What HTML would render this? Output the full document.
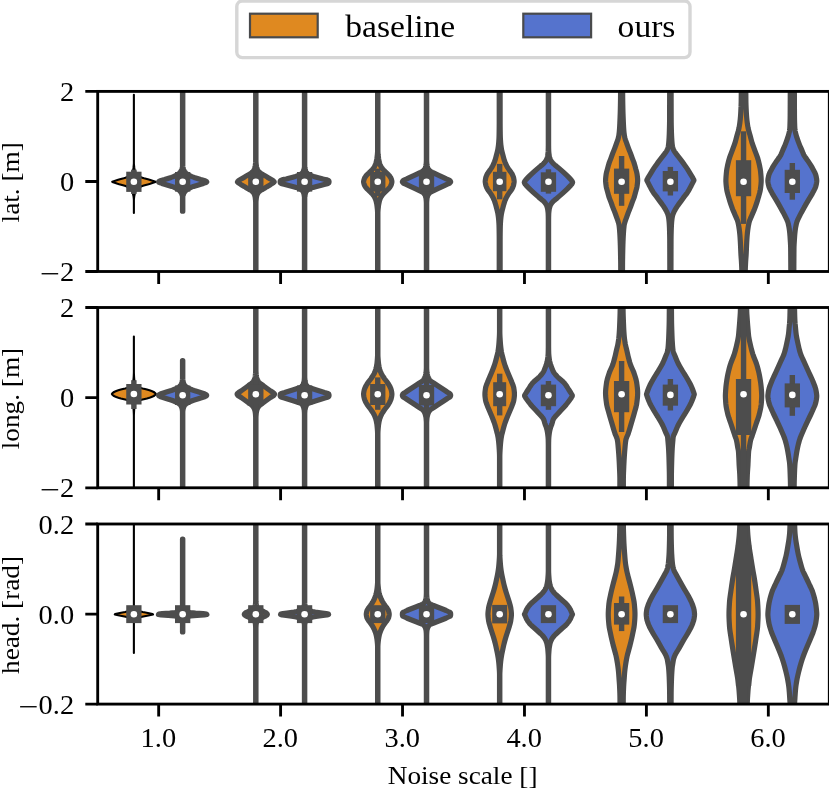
<!DOCTYPE html>
<html lang="en"><head><meta charset="utf-8"><title>Violin plot: baseline vs ours</title>
<style>html,body{margin:0;padding:0;background:#fff}svg{display:block}text{font-family:'Liberation Serif', 'DejaVu Serif', serif;fill:#000}.t{font-size:27.6px}.l{font-size:26.2px}.g{font-size:32.0px}</style></head><body>
<svg width="829" height="790" viewBox="0 0 829 790">
<rect width="829" height="790" fill="#fff"/>
<defs>
<clipPath id="c0"><rect x="97.7" y="91.4" width="731.6" height="180.1"/></clipPath>
<clipPath id="c1"><rect x="97.7" y="307.5" width="731.6" height="180.3"/></clipPath>
<clipPath id="c2"><rect x="97.7" y="524" width="731.6" height="180.1"/></clipPath>
</defs>
<g clip-path="url(#c0)">
<path d="M133.88 94.7L133.88 162.7L133.89 163.2L133.9 163.7L133.93 164.2L133.97 164.7L134.01 165.2L134.06 165.7L134.11 166.2L134.17 166.7L134.23 167.2L134.31 167.7L134.4 168.2L134.51 168.7L134.63 169.2L134.75 169.7L134.89 170.2L135.04 170.7L135.2 171.2L135.39 171.7L135.6 172.2L135.83 172.7L136.1 173.2L136.43 173.7L136.81 174.2L137.26 174.7L137.77 175.2L138.38 175.7L139.15 176.2L140.07 176.7L141.12 177.2L142.37 177.7L144.03 178.2L145.92 178.7L147.84 179.2L149.58 179.7L151.07 180.2L152.5 180.7L153.99 181.2L155.56 181.7L154.61 182.2L153.08 182.7L151.64 183.2L150.19 183.7L148.57 184.2L146.7 184.7L144.77 185.2L142.99 185.7L141.58 186.2L140.48 186.7L139.5 187.2L138.67 187.7L137.99 188.2L137.46 188.7L136.98 189.2L136.57 189.7L136.22 190.2L135.93 190.7L135.69 191.2L135.47 191.7L135.27 192.2L135.1 192.7L134.94 193.2L134.81 193.7L134.68 194.2L134.56 194.7L134.45 195.2L134.35 195.7L134.26 196.2L134.19 196.7L134.14 197.2L134.08 197.7L134.03 198.2L133.98 198.7L133.94 199.2L133.91 199.7L133.89 200.2L133.88 200.7L133.88 201.2L133.88 213L133.88 213L133.88 201.2L133.88 200.7L133.87 200.2L133.85 199.7L133.82 199.2L133.78 198.7L133.73 198.2L133.68 197.7L133.62 197.2L133.57 196.7L133.5 196.2L133.41 195.7L133.31 195.2L133.2 194.7L133.08 194.2L132.95 193.7L132.82 193.2L132.66 192.7L132.49 192.2L132.29 191.7L132.07 191.2L131.83 190.7L131.54 190.2L131.19 189.7L130.78 189.2L130.3 188.7L129.77 188.2L129.09 187.7L128.26 187.2L127.28 186.7L126.18 186.2L124.77 185.7L122.99 185.2L121.06 184.7L119.19 184.2L117.57 183.7L116.12 183.2L114.68 182.7L113.15 182.2L112.2 181.7L113.77 181.2L115.26 180.7L116.69 180.2L118.18 179.7L119.92 179.2L121.84 178.7L123.73 178.2L125.39 177.7L126.64 177.2L127.69 176.7L128.61 176.2L129.38 175.7L129.99 175.2L130.5 174.7L130.95 174.2L131.33 173.7L131.66 173.2L131.93 172.7L132.16 172.2L132.37 171.7L132.56 171.2L132.72 170.7L132.87 170.2L133.01 169.7L133.13 169.2L133.25 168.7L133.36 168.2L133.45 167.7L133.53 167.2L133.59 166.7L133.65 166.2L133.7 165.7L133.75 165.2L133.79 164.7L133.83 164.2L133.86 163.7L133.87 163.2L133.88 162.7L133.88 94.7Z" fill="#df8920" stroke="#000" stroke-width="2.1" stroke-linejoin="round"/>
<path d="M182.8 79.4L182.8 166.4L182.81 166.9L182.86 167.4L182.95 167.9L183.08 168.4L183.25 168.9L183.43 169.4L183.64 169.9L183.85 170.4L184.1 170.9L184.42 171.4L184.79 171.9L185.22 172.4L185.69 172.9L186.21 173.4L186.83 173.9L187.56 174.4L188.39 174.9L189.32 175.4L190.33 175.9L191.4 176.4L192.66 176.9L194.16 177.4L195.79 177.9L197.47 178.4L199.09 178.9L200.71 179.4L202.47 179.9L204.15 180.4L205.52 180.9L206.39 181.4L206.72 181.9L206.1 182.4L205.03 182.9L203.51 183.4L201.77 183.9L200.04 184.4L198.46 184.9L196.8 185.4L195.13 185.9L193.54 186.4L192.12 186.9L190.96 187.4L189.91 187.9L188.94 188.4L188.05 188.9L187.25 189.4L186.57 189.9L186 190.4L185.5 190.9L185.04 191.4L184.64 191.9L184.29 192.4L183.99 192.9L183.76 193.4L183.55 193.9L183.36 194.4L183.18 194.9L183.03 195.4L182.91 195.9L182.83 196.4L182.8 196.9L182.8 211.2L182.5 211.2L182.5 196.9L182.48 196.4L182.4 195.9L182.28 195.4L182.13 194.9L181.95 194.4L181.75 193.9L181.55 193.4L181.31 192.9L181.02 192.4L180.67 191.9L180.26 191.4L179.81 190.9L179.31 190.4L178.74 189.9L178.05 189.4L177.26 188.9L176.37 188.4L175.39 187.9L174.34 187.4L173.18 186.9L171.77 186.4L170.18 185.9L168.51 185.4L166.85 184.9L165.27 184.4L163.54 183.9L161.8 183.4L160.28 182.9L159.2 182.4L158.59 181.9L158.92 181.4L159.78 180.9L161.15 180.4L162.83 179.9L164.59 179.4L166.21 178.9L167.84 178.4L169.51 177.9L171.15 177.4L172.64 176.9L173.9 176.4L174.98 175.9L175.99 175.4L176.92 174.9L177.75 174.4L178.48 173.9L179.1 173.4L179.61 172.9L180.09 172.4L180.51 171.9L180.89 171.4L181.2 170.9L181.46 170.4L181.67 169.9L181.87 169.4L182.06 168.9L182.22 168.4L182.36 167.9L182.45 167.4L182.5 166.9L182.5 166.4L182.5 79.4Z" fill="#5573cd" stroke="#4d4d4d" stroke-width="5.2" stroke-linejoin="round"/>
<path d="M255.96 79.4L255.96 160.4L255.96 160.9L255.97 161.4L255.99 161.9L256.02 162.4L256.05 162.9L256.09 163.4L256.14 163.9L256.2 164.4L256.25 164.9L256.31 165.4L256.38 165.9L256.45 166.4L256.55 166.9L256.66 167.4L256.8 167.9L256.95 168.4L257.12 168.9L257.3 169.4L257.54 169.9L257.85 170.4L258.2 170.9L258.61 171.4L259.06 171.9L259.61 172.4L260.27 172.9L261.02 173.4L261.84 173.9L262.7 174.4L263.58 174.9L264.46 175.4L265.32 175.9L266.12 176.4L266.93 176.9L267.78 177.4L268.64 177.9L269.5 178.4L270.35 178.9L271.17 179.4L271.95 179.9L272.67 180.4L273.32 180.9L273.88 181.4L274.17 181.9L273.68 182.4L273.07 182.9L272.39 183.4L271.64 183.9L270.84 184.4L270.01 184.9L269.15 185.4L268.29 185.9L267.44 186.4L266.6 186.9L265.81 187.4L264.98 187.9L264.11 188.4L263.23 188.9L262.35 189.4L261.5 189.9L260.71 190.4L259.99 190.9L259.37 191.4L258.87 191.9L258.44 192.4L258.05 192.9L257.72 193.4L257.44 193.9L257.23 194.4L257.05 194.9L256.88 195.4L256.74 195.9L256.61 196.4L256.51 196.9L256.42 197.4L256.35 197.9L256.29 198.4L256.23 198.9L256.17 199.4L256.12 199.9L256.08 200.4L256.04 200.9L256 201.4L255.98 201.9L255.97 202.4L255.96 202.9L255.96 283.5L255.66 283.5L255.66 202.9L255.66 202.4L255.65 201.9L255.62 201.4L255.59 200.9L255.55 200.4L255.5 199.9L255.45 199.4L255.4 198.9L255.34 198.4L255.28 197.9L255.21 197.4L255.12 196.9L255.01 196.4L254.89 195.9L254.74 195.4L254.58 194.9L254.4 194.4L254.19 193.9L253.91 193.4L253.57 192.9L253.18 192.4L252.75 191.9L252.26 191.4L251.64 190.9L250.92 190.4L250.12 189.9L249.27 189.4L248.4 188.9L247.51 188.4L246.65 187.9L245.82 187.4L245.02 186.9L244.19 186.4L243.33 185.9L242.47 185.4L241.62 184.9L240.78 184.4L239.99 183.9L239.24 183.4L238.56 182.9L237.95 182.4L237.46 181.9L237.74 181.4L238.3 180.9L238.96 180.4L239.68 179.9L240.46 179.4L241.28 178.9L242.13 178.4L242.99 177.9L243.85 177.4L244.69 176.9L245.51 176.4L246.31 175.9L247.16 175.4L248.04 174.9L248.93 174.4L249.79 173.9L250.61 173.4L251.36 172.9L252.02 172.4L252.57 171.9L253.02 171.4L253.42 170.9L253.78 170.4L254.08 169.9L254.32 169.4L254.51 168.9L254.68 168.4L254.83 167.9L254.96 167.4L255.08 166.9L255.17 166.4L255.25 165.9L255.31 165.4L255.37 164.9L255.43 164.4L255.48 163.9L255.53 163.4L255.58 162.9L255.61 162.4L255.64 161.9L255.66 161.4L255.66 160.9L255.66 160.4L255.66 79.4Z" fill="#df8920" stroke="#4d4d4d" stroke-width="5.2" stroke-linejoin="round"/>
<path d="M304.74 79.4L304.74 166.4L304.74 166.9L304.76 167.4L304.81 167.9L304.89 168.4L305 168.9L305.12 169.4L305.26 169.9L305.42 170.4L305.59 170.9L305.78 171.4L306.02 171.9L306.35 172.4L306.76 172.9L307.25 173.4L307.81 173.9L308.55 174.4L309.61 174.9L310.88 175.4L312.24 175.9L313.75 176.4L315.48 176.9L317.36 177.4L319.31 177.9L321.22 178.4L323.04 178.9L325.04 179.4L327.11 179.9L328.52 180.4L328.86 180.9L329 181.4L329.03 181.9L328.95 182.4L328.78 182.9L328.08 183.4L326.32 183.9L324.19 184.4L322.33 184.9L320.47 185.4L318.53 185.9L316.6 186.4L314.77 186.9L313.11 187.4L311.69 187.9L310.35 188.4L309.16 188.9L308.22 189.4L307.58 189.9L307.04 190.4L306.59 190.9L306.21 191.4L305.91 191.9L305.7 192.4L305.52 192.9L305.36 193.4L305.2 193.9L305.07 194.4L304.95 194.9L304.86 195.4L304.79 195.9L304.75 196.4L304.74 196.9L304.74 283.5L304.44 283.5L304.44 196.9L304.43 196.4L304.39 195.9L304.32 195.4L304.22 194.9L304.11 194.4L303.97 193.9L303.82 193.4L303.65 192.9L303.47 192.4L303.26 191.9L302.97 191.4L302.59 190.9L302.13 190.4L301.59 189.9L300.96 189.4L300.02 188.9L298.82 188.4L297.48 187.9L296.06 187.4L294.41 186.9L292.57 186.4L290.65 185.9L288.71 185.4L286.84 184.9L284.98 184.4L282.85 183.9L281.09 183.4L280.39 182.9L280.22 182.4L280.14 181.9L280.18 181.4L280.31 180.9L280.65 180.4L282.06 179.9L284.13 179.4L286.14 178.9L287.95 178.4L289.87 177.9L291.81 177.4L293.69 176.9L295.43 176.4L296.94 175.9L298.3 175.4L299.56 174.9L300.62 174.4L301.36 173.9L301.92 173.4L302.41 172.9L302.82 172.4L303.15 171.9L303.4 171.4L303.58 170.9L303.75 170.4L303.91 169.9L304.05 169.4L304.18 168.9L304.28 168.4L304.36 167.9L304.41 167.4L304.44 166.9L304.44 166.4L304.44 79.4Z" fill="#5573cd" stroke="#4d4d4d" stroke-width="5.2" stroke-linejoin="round"/>
<path d="M377.9 79.4L377.9 150.4L377.9 150.9L377.91 151.4L377.93 151.9L377.96 152.4L377.99 152.9L378.03 153.4L378.07 153.9L378.12 154.4L378.16 154.9L378.22 155.4L378.27 155.9L378.33 156.4L378.39 156.9L378.45 157.4L378.51 157.9L378.58 158.4L378.65 158.9L378.74 159.4L378.83 159.9L378.93 160.4L379.03 160.9L379.14 161.4L379.26 161.9L379.39 162.4L379.52 162.9L379.67 163.4L379.83 163.9L380.01 164.4L380.21 164.9L380.42 165.4L380.65 165.9L380.9 166.4L381.18 166.9L381.5 167.4L381.85 167.9L382.24 168.4L382.64 168.9L383.06 169.4L383.48 169.9L383.94 170.4L384.43 170.9L384.94 171.4L385.47 171.9L385.99 172.4L386.5 172.9L387.02 173.4L387.56 173.9L388.1 174.4L388.61 174.9L389.07 175.4L389.47 175.9L389.84 176.4L390.19 176.9L390.51 177.4L390.8 177.9L391.04 178.4L391.23 178.9L391.39 179.4L391.55 179.9L391.68 180.4L391.79 180.9L391.86 181.4L391.89 181.9L391.84 182.4L391.75 182.9L391.63 183.4L391.49 183.9L391.33 184.4L391.16 184.9L390.95 185.4L390.69 185.9L390.39 186.4L390.05 186.9L389.69 187.4L389.32 187.9L388.89 188.4L388.41 188.9L387.88 189.4L387.34 189.9L386.81 190.4L386.3 190.9L385.78 191.4L385.26 191.9L384.74 192.4L384.23 192.9L383.75 193.4L383.31 193.9L382.89 194.4L382.48 194.9L382.08 195.4L381.71 195.9L381.36 196.4L381.06 196.9L380.8 197.4L380.56 197.9L380.33 198.4L380.13 198.9L379.94 199.4L379.77 199.9L379.61 200.4L379.47 200.9L379.34 201.4L379.22 201.9L379.1 202.4L378.99 202.9L378.89 203.4L378.79 203.9L378.7 204.4L378.62 204.9L378.55 205.4L378.48 205.9L378.42 206.4L378.36 206.9L378.31 207.4L378.25 207.9L378.2 208.4L378.14 208.9L378.1 209.4L378.05 209.9L378.01 210.4L377.98 210.9L377.95 211.4L377.92 211.9L377.91 212.4L377.9 212.9L377.9 283.5L377.6 283.5L377.6 212.9L377.59 212.4L377.57 211.9L377.54 211.4L377.51 210.9L377.48 210.4L377.44 209.9L377.4 209.4L377.35 208.9L377.3 208.4L377.24 207.9L377.19 207.4L377.13 206.9L377.07 206.4L377.01 205.9L376.94 205.4L376.87 204.9L376.79 204.4L376.7 203.9L376.61 203.4L376.5 202.9L376.39 202.4L376.28 201.9L376.15 201.4L376.02 200.9L375.88 200.4L375.73 199.9L375.56 199.4L375.37 198.9L375.16 198.4L374.94 197.9L374.7 197.4L374.43 196.9L374.13 196.4L373.79 195.9L373.41 195.4L373.02 194.9L372.6 194.4L372.18 193.9L371.74 193.4L371.26 192.9L370.76 192.4L370.23 191.9L369.71 191.4L369.2 190.9L368.69 190.4L368.15 189.9L367.61 189.4L367.09 188.9L366.6 188.4L366.17 187.9L365.8 187.4L365.44 186.9L365.1 186.4L364.8 185.9L364.54 185.4L364.33 184.9L364.16 184.4L364.01 183.9L363.87 183.4L363.75 182.9L363.66 182.4L363.6 181.9L363.63 181.4L363.71 180.9L363.81 180.4L363.95 179.9L364.1 179.4L364.26 178.9L364.45 178.4L364.69 177.9L364.98 177.4L365.3 176.9L365.65 176.4L366.02 175.9L366.42 175.4L366.89 174.9L367.4 174.4L367.93 173.9L368.47 173.4L369 172.9L369.5 172.4L370.02 171.9L370.55 171.4L371.06 170.9L371.55 170.4L372.01 169.9L372.44 169.4L372.85 168.9L373.26 168.4L373.64 167.9L374 167.4L374.32 166.9L374.6 166.4L374.84 165.9L375.07 165.4L375.29 164.9L375.48 164.4L375.66 163.9L375.82 163.4L375.97 162.9L376.1 162.4L376.23 161.9L376.35 161.4L376.46 160.9L376.57 160.4L376.67 159.9L376.76 159.4L376.84 158.9L376.92 158.4L376.98 157.9L377.05 157.4L377.11 156.9L377.16 156.4L377.22 155.9L377.28 155.4L377.33 154.9L377.38 154.4L377.42 153.9L377.46 153.4L377.5 152.9L377.53 152.4L377.56 151.9L377.58 151.4L377.59 150.9L377.6 150.4L377.6 79.4Z" fill="#df8920" stroke="#4d4d4d" stroke-width="5.2" stroke-linejoin="round"/>
<path d="M426.67 79.4L426.67 159.4L426.67 159.9L426.68 160.4L426.69 160.9L426.71 161.4L426.73 161.9L426.76 162.4L426.8 162.9L426.84 163.4L426.88 163.9L426.93 164.4L426.98 164.9L427.05 165.4L427.14 165.9L427.25 166.4L427.39 166.9L427.54 167.4L427.72 167.9L427.91 168.4L428.17 168.9L428.51 169.4L428.92 169.9L429.4 170.4L429.94 170.9L430.57 171.4L431.44 171.9L432.46 172.4L433.54 172.9L434.57 173.4L435.59 173.9L436.64 174.4L437.71 174.9L438.79 175.4L439.88 175.9L440.97 176.4L442.06 176.9L443.14 177.4L444.2 177.9L445.24 178.4L446.26 178.9L447.38 179.4L448.52 179.9L449.51 180.4L450.19 180.9L450.53 181.4L450.65 181.9L450.41 182.4L449.97 182.9L449.14 183.4L448.07 183.9L446.92 184.4L445.85 184.9L444.83 185.4L443.78 185.9L442.71 186.4L441.63 186.9L440.54 187.4L439.44 187.9L438.36 188.4L437.28 188.9L436.22 189.4L435.18 189.9L434.17 190.4L433.11 190.9L432.04 191.4L431.07 191.9L430.29 192.4L429.72 192.9L429.2 193.4L428.75 193.9L428.37 194.4L428.06 194.9L427.83 195.4L427.64 195.9L427.48 196.4L427.33 196.9L427.2 197.4L427.1 197.9L427.02 198.4L426.96 198.9L426.91 199.4L426.87 199.9L426.82 200.4L426.78 200.9L426.75 201.4L426.72 201.9L426.7 202.4L426.68 202.9L426.67 203.4L426.67 203.9L426.67 283.5L426.37 283.5L426.37 203.9L426.37 203.4L426.36 202.9L426.34 202.4L426.32 201.9L426.29 201.4L426.26 200.9L426.22 200.4L426.17 199.9L426.13 199.4L426.08 198.9L426.02 198.4L425.94 197.9L425.84 197.4L425.71 196.9L425.56 196.4L425.4 195.9L425.21 195.4L424.98 194.9L424.67 194.4L424.29 193.9L423.84 193.4L423.32 192.9L422.75 192.4L421.97 191.9L421 191.4L419.93 190.9L418.87 190.4L417.86 189.9L416.82 189.4L415.76 188.9L414.68 188.4L413.6 187.9L412.5 187.4L411.41 186.9L410.33 186.4L409.26 185.9L408.21 185.4L407.19 184.9L406.12 184.4L404.97 183.9L403.9 183.4L403.07 182.9L402.63 182.4L402.39 181.9L402.51 181.4L402.85 180.9L403.53 180.4L404.52 179.9L405.66 179.4L406.78 178.9L407.8 178.4L408.84 177.9L409.9 177.4L410.98 176.9L412.07 176.4L413.16 175.9L414.25 175.4L415.33 174.9L416.4 174.4L417.45 173.9L418.47 173.4L419.5 172.9L420.58 172.4L421.6 171.9L422.47 171.4L423.1 170.9L423.64 170.4L424.12 169.9L424.53 169.4L424.87 168.9L425.13 168.4L425.32 167.9L425.5 167.4L425.65 166.9L425.79 166.4L425.9 165.9L425.99 165.4L426.06 164.9L426.11 164.4L426.16 163.9L426.2 163.4L426.24 162.9L426.28 162.4L426.31 161.9L426.33 161.4L426.35 160.9L426.36 160.4L426.37 159.9L426.37 159.4L426.37 79.4Z" fill="#5573cd" stroke="#4d4d4d" stroke-width="5.2" stroke-linejoin="round"/>
<path d="M500.13 79.4L500.13 121.4L500.13 121.9L500.13 122.4L500.13 122.9L500.13 123.4L500.14 123.9L500.14 124.4L500.14 124.9L500.14 125.4L500.15 125.9L500.15 126.4L500.16 126.9L500.16 127.4L500.17 127.9L500.17 128.4L500.18 128.9L500.18 129.4L500.19 129.9L500.2 130.4L500.2 130.9L500.21 131.4L500.22 131.9L500.23 132.4L500.23 132.9L500.24 133.4L500.25 133.9L500.26 134.4L500.27 134.9L500.28 135.4L500.29 135.9L500.31 136.4L500.32 136.9L500.34 137.4L500.36 137.9L500.39 138.4L500.41 138.9L500.44 139.4L500.47 139.9L500.51 140.4L500.54 140.9L500.58 141.4L500.61 141.9L500.65 142.4L500.69 142.9L500.73 143.4L500.77 143.9L500.82 144.4L500.87 144.9L500.93 145.4L500.99 145.9L501.06 146.4L501.13 146.9L501.21 147.4L501.28 147.9L501.36 148.4L501.44 148.9L501.53 149.4L501.62 149.9L501.72 150.4L501.83 150.9L501.95 151.4L502.07 151.9L502.2 152.4L502.33 152.9L502.46 153.4L502.59 153.9L502.72 154.4L502.86 154.9L502.99 155.4L503.12 155.9L503.25 156.4L503.38 156.9L503.51 157.4L503.65 157.9L503.79 158.4L503.93 158.9L504.08 159.4L504.23 159.9L504.39 160.4L504.56 160.9L504.73 161.4L504.91 161.9L505.11 162.4L505.31 162.9L505.53 163.4L505.75 163.9L505.98 164.4L506.22 164.9L506.47 165.4L506.73 165.9L506.99 166.4L507.27 166.9L507.57 167.4L507.88 167.9L508.21 168.4L508.53 168.9L508.87 169.4L509.2 169.9L509.53 170.4L509.9 170.9L510.28 171.4L510.66 171.9L511.04 172.4L511.4 172.9L511.74 173.4L512.03 173.9L512.28 174.4L512.51 174.9L512.74 175.4L512.95 175.9L513.15 176.4L513.33 176.9L513.49 177.4L513.62 177.9L513.73 178.4L513.82 178.9L513.91 179.4L513.99 179.9L514.05 180.4L514.1 180.9L514.13 181.4L514.1 181.9L514.05 182.4L513.99 182.9L513.91 183.4L513.82 183.9L513.73 184.4L513.62 184.9L513.49 185.4L513.33 185.9L513.15 186.4L512.95 186.9L512.74 187.4L512.51 187.9L512.28 188.4L512.03 188.9L511.74 189.4L511.4 189.9L511.04 190.4L510.66 190.9L510.28 191.4L509.9 191.9L509.53 192.4L509.2 192.9L508.87 193.4L508.53 193.9L508.21 194.4L507.88 194.9L507.57 195.4L507.27 195.9L506.99 196.4L506.73 196.9L506.47 197.4L506.22 197.9L505.98 198.4L505.75 198.9L505.53 199.4L505.31 199.9L505.11 200.4L504.91 200.9L504.73 201.4L504.56 201.9L504.39 202.4L504.23 202.9L504.08 203.4L503.93 203.9L503.79 204.4L503.65 204.9L503.51 205.4L503.38 205.9L503.25 206.4L503.12 206.9L502.99 207.4L502.86 207.9L502.72 208.4L502.59 208.9L502.46 209.4L502.33 209.9L502.2 210.4L502.07 210.9L501.95 211.4L501.83 211.9L501.72 212.4L501.62 212.9L501.53 213.4L501.44 213.9L501.36 214.4L501.28 214.9L501.21 215.4L501.13 215.9L501.06 216.4L500.99 216.9L500.93 217.4L500.87 217.9L500.82 218.4L500.77 218.9L500.73 219.4L500.69 219.9L500.65 220.4L500.61 220.9L500.58 221.4L500.54 221.9L500.51 222.4L500.47 222.9L500.44 223.4L500.41 223.9L500.39 224.4L500.36 224.9L500.34 225.4L500.32 225.9L500.31 226.4L500.29 226.9L500.28 227.4L500.27 227.9L500.26 228.4L500.25 228.9L500.24 229.4L500.23 229.9L500.23 230.4L500.22 230.9L500.21 231.4L500.2 231.9L500.2 232.4L500.19 232.9L500.18 233.4L500.18 233.9L500.17 234.4L500.17 234.9L500.16 235.4L500.16 235.9L500.15 236.4L500.15 236.9L500.14 237.4L500.14 237.9L500.14 238.4L500.14 238.9L500.13 239.4L500.13 239.9L500.13 240.4L500.13 240.9L500.13 241.4L500.13 283.5L499.23 283.5L499.23 241.4L499.23 240.9L499.23 240.4L499.23 239.9L499.23 239.4L499.22 238.9L499.22 238.4L499.22 237.9L499.22 237.4L499.21 236.9L499.21 236.4L499.2 235.9L499.2 235.4L499.19 234.9L499.19 234.4L499.18 233.9L499.18 233.4L499.17 232.9L499.16 232.4L499.16 231.9L499.15 231.4L499.14 230.9L499.13 230.4L499.13 229.9L499.12 229.4L499.11 228.9L499.1 228.4L499.09 227.9L499.08 227.4L499.07 226.9L499.05 226.4L499.04 225.9L499.02 225.4L499 224.9L498.97 224.4L498.95 223.9L498.92 223.4L498.89 222.9L498.85 222.4L498.82 221.9L498.78 221.4L498.75 220.9L498.71 220.4L498.67 219.9L498.63 219.4L498.59 218.9L498.54 218.4L498.49 217.9L498.43 217.4L498.37 216.9L498.3 216.4L498.23 215.9L498.15 215.4L498.08 214.9L498 214.4L497.92 213.9L497.83 213.4L497.74 212.9L497.64 212.4L497.53 211.9L497.41 211.4L497.29 210.9L497.16 210.4L497.03 209.9L496.9 209.4L496.77 208.9L496.64 208.4L496.5 207.9L496.37 207.4L496.24 206.9L496.11 206.4L495.98 205.9L495.85 205.4L495.71 204.9L495.57 204.4L495.43 203.9L495.28 203.4L495.13 202.9L494.97 202.4L494.8 201.9L494.63 201.4L494.45 200.9L494.25 200.4L494.05 199.9L493.83 199.4L493.61 198.9L493.38 198.4L493.14 197.9L492.89 197.4L492.63 196.9L492.37 196.4L492.09 195.9L491.79 195.4L491.48 194.9L491.15 194.4L490.83 193.9L490.49 193.4L490.16 192.9L489.83 192.4L489.46 191.9L489.08 191.4L488.7 190.9L488.32 190.4L487.96 189.9L487.62 189.4L487.33 188.9L487.08 188.4L486.85 187.9L486.62 187.4L486.41 186.9L486.21 186.4L486.03 185.9L485.87 185.4L485.74 184.9L485.63 184.4L485.54 183.9L485.45 183.4L485.37 182.9L485.31 182.4L485.26 181.9L485.23 181.4L485.26 180.9L485.31 180.4L485.37 179.9L485.45 179.4L485.54 178.9L485.63 178.4L485.74 177.9L485.87 177.4L486.03 176.9L486.21 176.4L486.41 175.9L486.62 175.4L486.85 174.9L487.08 174.4L487.33 173.9L487.62 173.4L487.96 172.9L488.32 172.4L488.7 171.9L489.08 171.4L489.46 170.9L489.83 170.4L490.16 169.9L490.49 169.4L490.83 168.9L491.15 168.4L491.48 167.9L491.79 167.4L492.09 166.9L492.37 166.4L492.63 165.9L492.89 165.4L493.14 164.9L493.38 164.4L493.61 163.9L493.83 163.4L494.05 162.9L494.25 162.4L494.45 161.9L494.63 161.4L494.8 160.9L494.97 160.4L495.13 159.9L495.28 159.4L495.43 158.9L495.57 158.4L495.71 157.9L495.85 157.4L495.98 156.9L496.11 156.4L496.24 155.9L496.37 155.4L496.5 154.9L496.64 154.4L496.77 153.9L496.9 153.4L497.03 152.9L497.16 152.4L497.29 151.9L497.41 151.4L497.53 150.9L497.64 150.4L497.74 149.9L497.83 149.4L497.92 148.9L498 148.4L498.08 147.9L498.15 147.4L498.23 146.9L498.3 146.4L498.37 145.9L498.43 145.4L498.49 144.9L498.54 144.4L498.59 143.9L498.63 143.4L498.67 142.9L498.71 142.4L498.75 141.9L498.78 141.4L498.82 140.9L498.85 140.4L498.89 139.9L498.92 139.4L498.95 138.9L498.97 138.4L499 137.9L499.02 137.4L499.04 136.9L499.05 136.4L499.07 135.9L499.08 135.4L499.09 134.9L499.1 134.4L499.11 133.9L499.12 133.4L499.13 132.9L499.13 132.4L499.14 131.9L499.15 131.4L499.16 130.9L499.16 130.4L499.17 129.9L499.18 129.4L499.18 128.9L499.19 128.4L499.19 127.9L499.2 127.4L499.2 126.9L499.21 126.4L499.21 125.9L499.22 125.4L499.22 124.9L499.22 124.4L499.22 123.9L499.23 123.4L499.23 122.9L499.23 122.4L499.23 121.9L499.23 121.4L499.23 79.4Z" fill="#df8920" stroke="#4d4d4d" stroke-width="5.2" stroke-linejoin="round"/>
<path d="M548.6 79.4L548.6 144.4L548.6 144.9L548.61 145.4L548.61 145.9L548.62 146.4L548.62 146.9L548.63 147.4L548.64 147.9L548.65 148.4L548.66 148.9L548.68 149.4L548.69 149.9L548.7 150.4L548.72 150.9L548.75 151.4L548.79 151.9L548.83 152.4L548.88 152.9L548.93 153.4L548.99 153.9L549.06 154.4L549.13 154.9L549.2 155.4L549.29 155.9L549.38 156.4L549.5 156.9L549.63 157.4L549.78 157.9L549.94 158.4L550.11 158.9L550.3 159.4L550.53 159.9L550.81 160.4L551.13 160.9L551.48 161.4L551.86 161.9L552.27 162.4L552.69 162.9L553.15 163.4L553.67 163.9L554.24 164.4L554.83 164.9L555.45 165.4L556.08 165.9L556.7 166.4L557.31 166.9L557.9 167.4L558.48 167.9L559.06 168.4L559.63 168.9L560.21 169.4L560.79 169.9L561.36 170.4L561.93 170.9L562.5 171.4L563.05 171.9L563.6 172.4L564.15 172.9L564.69 173.4L565.23 173.9L565.77 174.4L566.3 174.9L566.82 175.4L567.34 175.9L567.84 176.4L568.33 176.9L568.8 177.4L569.28 177.9L569.76 178.4L570.25 178.9L570.72 179.4L571.16 179.9L571.56 180.4L571.91 180.9L572.2 181.4L572.43 181.9L572.6 182.4L572.43 182.9L572.2 183.4L571.91 183.9L571.56 184.4L571.16 184.9L570.72 185.4L570.25 185.9L569.76 186.4L569.28 186.9L568.8 187.4L568.33 187.9L567.84 188.4L567.34 188.9L566.82 189.4L566.3 189.9L565.77 190.4L565.23 190.9L564.69 191.4L564.15 191.9L563.6 192.4L563.05 192.9L562.5 193.4L561.93 193.9L561.36 194.4L560.79 194.9L560.21 195.4L559.63 195.9L559.06 196.4L558.48 196.9L557.9 197.4L557.31 197.9L556.7 198.4L556.08 198.9L555.45 199.4L554.83 199.9L554.24 200.4L553.67 200.9L553.15 201.4L552.69 201.9L552.27 202.4L551.86 202.9L551.48 203.4L551.13 203.9L550.81 204.4L550.53 204.9L550.3 205.4L550.11 205.9L549.94 206.4L549.78 206.9L549.63 207.4L549.5 207.9L549.38 208.4L549.29 208.9L549.2 209.4L549.13 209.9L549.06 210.4L548.99 210.9L548.93 211.4L548.88 211.9L548.83 212.4L548.79 212.9L548.75 213.4L548.72 213.9L548.7 214.4L548.69 214.9L548.68 215.4L548.66 215.9L548.65 216.4L548.64 216.9L548.63 217.4L548.62 217.9L548.62 218.4L548.61 218.9L548.61 219.4L548.6 219.9L548.6 220.4L548.6 283.5L548.3 283.5L548.3 220.4L548.3 219.9L548.3 219.4L548.3 218.9L548.29 218.4L548.28 217.9L548.28 217.4L548.27 216.9L548.26 216.4L548.24 215.9L548.23 215.4L548.22 214.9L548.2 214.4L548.18 213.9L548.16 213.4L548.12 212.9L548.08 212.4L548.03 211.9L547.97 211.4L547.91 210.9L547.85 210.4L547.78 209.9L547.7 209.4L547.62 208.9L547.52 208.4L547.41 207.9L547.28 207.4L547.13 206.9L546.97 206.4L546.79 205.9L546.6 205.4L546.38 204.9L546.1 204.4L545.78 203.9L545.43 203.4L545.04 202.9L544.64 202.4L544.22 201.9L543.75 201.4L543.23 200.9L542.67 200.4L542.07 199.9L541.46 199.4L540.83 198.9L540.2 198.4L539.59 197.9L539 197.4L538.43 196.9L537.85 196.4L537.27 195.9L536.69 195.4L536.12 194.9L535.54 194.4L534.97 193.9L534.41 193.4L533.85 192.9L533.3 192.4L532.76 191.9L532.22 191.4L531.67 190.9L531.14 190.4L530.61 189.9L530.08 189.4L529.57 188.9L529.07 188.4L528.58 187.9L528.1 187.4L527.63 186.9L527.14 186.4L526.66 185.9L526.19 185.4L525.75 184.9L525.35 184.4L524.99 183.9L524.7 183.4L524.48 182.9L524.3 182.4L524.48 181.9L524.7 181.4L524.99 180.9L525.35 180.4L525.75 179.9L526.19 179.4L526.66 178.9L527.14 178.4L527.63 177.9L528.1 177.4L528.58 176.9L529.07 176.4L529.57 175.9L530.08 175.4L530.61 174.9L531.14 174.4L531.67 173.9L532.22 173.4L532.76 172.9L533.3 172.4L533.85 171.9L534.41 171.4L534.97 170.9L535.54 170.4L536.12 169.9L536.69 169.4L537.27 168.9L537.85 168.4L538.43 167.9L539 167.4L539.59 166.9L540.2 166.4L540.83 165.9L541.46 165.4L542.07 164.9L542.67 164.4L543.23 163.9L543.75 163.4L544.22 162.9L544.64 162.4L545.04 161.9L545.43 161.4L545.78 160.9L546.1 160.4L546.38 159.9L546.6 159.4L546.79 158.9L546.97 158.4L547.13 157.9L547.28 157.4L547.41 156.9L547.52 156.4L547.62 155.9L547.7 155.4L547.78 154.9L547.85 154.4L547.91 153.9L547.97 153.4L548.03 152.9L548.08 152.4L548.12 151.9L548.16 151.4L548.18 150.9L548.2 150.4L548.22 149.9L548.23 149.4L548.24 148.9L548.26 148.4L548.27 147.9L548.28 147.4L548.28 146.9L548.29 146.4L548.3 145.9L548.3 145.4L548.3 144.9L548.3 144.4L548.3 79.4Z" fill="#5573cd" stroke="#4d4d4d" stroke-width="5.2" stroke-linejoin="round"/>
<path d="M622.63 79.4L622.63 79.9L622.63 80.4L622.63 80.9L622.63 81.4L622.63 81.9L622.63 82.4L622.64 82.9L622.64 83.4L622.64 83.9L622.64 84.4L622.64 84.9L622.64 85.4L622.64 85.9L622.64 86.4L622.64 86.9L622.65 87.4L622.65 87.9L622.65 88.4L622.65 88.9L622.65 89.4L622.65 89.9L622.65 90.4L622.65 90.9L622.66 91.4L622.66 91.9L622.66 92.4L622.66 92.9L622.66 93.4L622.66 93.9L622.66 94.4L622.67 94.9L622.67 95.4L622.67 95.9L622.68 96.4L622.68 96.9L622.68 97.4L622.69 97.9L622.69 98.4L622.7 98.9L622.71 99.4L622.71 99.9L622.72 100.4L622.73 100.9L622.74 101.4L622.74 101.9L622.75 102.4L622.76 102.9L622.77 103.4L622.78 103.9L622.79 104.4L622.8 104.9L622.81 105.4L622.82 105.9L622.83 106.4L622.84 106.9L622.85 107.4L622.86 107.9L622.87 108.4L622.88 108.9L622.89 109.4L622.9 109.9L622.92 110.4L622.93 110.9L622.94 111.4L622.96 111.9L622.97 112.4L622.99 112.9L623.01 113.4L623.02 113.9L623.04 114.4L623.06 114.9L623.08 115.4L623.09 115.9L623.11 116.4L623.13 116.9L623.15 117.4L623.17 117.9L623.19 118.4L623.21 118.9L623.23 119.4L623.25 119.9L623.27 120.4L623.29 120.9L623.31 121.4L623.33 121.9L623.36 122.4L623.38 122.9L623.4 123.4L623.42 123.9L623.45 124.4L623.47 124.9L623.5 125.4L623.53 125.9L623.55 126.4L623.58 126.9L623.61 127.4L623.64 127.9L623.68 128.4L623.71 128.9L623.75 129.4L623.78 129.9L623.82 130.4L623.87 130.9L623.91 131.4L623.96 131.9L624.01 132.4L624.06 132.9L624.12 133.4L624.18 133.9L624.24 134.4L624.31 134.9L624.39 135.4L624.48 135.9L624.57 136.4L624.67 136.9L624.78 137.4L624.89 137.9L625.01 138.4L625.15 138.9L625.3 139.4L625.46 139.9L625.64 140.4L625.82 140.9L626 141.4L626.19 141.9L626.38 142.4L626.56 142.9L626.73 143.4L626.91 143.9L627.08 144.4L627.26 144.9L627.44 145.4L627.62 145.9L627.8 146.4L627.98 146.9L628.16 147.4L628.35 147.9L628.54 148.4L628.73 148.9L628.93 149.4L629.14 149.9L629.34 150.4L629.55 150.9L629.75 151.4L629.95 151.9L630.15 152.4L630.35 152.9L630.54 153.4L630.72 153.9L630.91 154.4L631.09 154.9L631.26 155.4L631.44 155.9L631.62 156.4L631.79 156.9L631.97 157.4L632.15 157.9L632.34 158.4L632.53 158.9L632.72 159.4L632.92 159.9L633.12 160.4L633.32 160.9L633.52 161.4L633.71 161.9L633.89 162.4L634.06 162.9L634.23 163.4L634.38 163.9L634.53 164.4L634.68 164.9L634.82 165.4L634.95 165.9L635.09 166.4L635.22 166.9L635.35 167.4L635.48 167.9L635.62 168.4L635.75 168.9L635.9 169.4L636.04 169.9L636.18 170.4L636.32 170.9L636.46 171.4L636.59 171.9L636.71 172.4L636.83 172.9L636.93 173.4L637.02 173.9L637.09 174.4L637.16 174.9L637.23 175.4L637.3 175.9L637.36 176.4L637.42 176.9L637.47 177.4L637.52 177.9L637.57 178.4L637.6 178.9L637.63 179.4L637.65 179.9L637.66 180.4L637.64 180.9L637.61 181.4L637.57 181.9L637.53 182.4L637.48 182.9L637.43 183.4L637.37 183.9L637.31 184.4L637.24 184.9L637.18 185.4L637.11 185.9L637.03 186.4L636.95 186.9L636.85 187.4L636.74 187.9L636.62 188.4L636.49 188.9L636.35 189.4L636.21 189.9L636.07 190.4L635.92 190.9L635.78 191.4L635.64 191.9L635.51 192.4L635.38 192.9L635.25 193.4L635.11 193.9L634.98 194.4L634.84 194.9L634.7 195.4L634.56 195.9L634.41 196.4L634.26 196.9L634.1 197.4L633.93 197.9L633.74 198.4L633.56 198.9L633.36 199.4L633.16 199.9L632.96 200.4L632.76 200.9L632.57 201.4L632.38 201.9L632.19 202.4L632.01 202.9L631.83 203.4L631.65 203.9L631.47 204.4L631.3 204.9L631.12 205.4L630.94 205.9L630.76 206.4L630.58 206.9L630.39 207.4L630.19 207.9L629.99 208.4L629.79 208.9L629.59 209.4L629.38 209.9L629.18 210.4L628.97 210.9L628.77 211.4L628.58 211.9L628.39 212.4L628.2 212.9L628.02 213.4L627.84 213.9L627.66 214.4L627.48 214.9L627.3 215.4L627.12 215.9L626.95 216.4L626.77 216.9L626.59 217.4L626.41 217.9L626.22 218.4L626.03 218.9L625.85 219.4L625.66 219.9L625.48 220.4L625.31 220.9L625.15 221.4L624.99 221.9L624.85 222.4L624.7 222.9L624.56 223.4L624.44 223.9L624.32 224.4L624.23 224.9L624.15 225.4L624.08 225.9L624.02 226.4L623.96 226.9L623.91 227.4L623.86 227.9L623.81 228.4L623.77 228.9L623.73 229.4L623.69 229.9L623.65 230.4L623.61 230.9L623.57 231.4L623.53 231.9L623.5 232.4L623.46 232.9L623.43 233.4L623.4 233.9L623.37 234.4L623.33 234.9L623.31 235.4L623.28 235.9L623.25 236.4L623.22 236.9L623.2 237.4L623.18 237.9L623.15 238.4L623.13 238.9L623.11 239.4L623.09 239.9L623.07 240.4L623.05 240.9L623.03 241.4L623.01 241.9L622.99 242.4L622.97 242.9L622.96 243.4L622.94 243.9L622.92 244.4L622.91 244.9L622.89 245.4L622.88 245.9L622.86 246.4L622.85 246.9L622.83 247.4L622.82 247.9L622.81 248.4L622.79 248.9L622.78 249.4L622.77 249.9L622.76 250.4L622.75 250.9L622.74 251.4L622.73 251.9L622.72 252.4L622.71 252.9L622.69 253.4L622.68 253.9L622.67 254.4L622.66 254.9L622.65 255.4L622.64 255.9L622.63 256.4L622.62 256.9L622.62 257.4L622.61 257.9L622.6 258.4L622.59 258.9L622.58 259.4L622.57 259.9L622.57 260.4L622.56 260.9L622.55 261.4L622.55 261.9L622.54 262.4L622.54 262.9L622.53 263.4L622.53 263.9L622.52 264.4L622.52 264.9L622.52 265.4L622.51 265.9L622.51 266.4L622.51 266.9L622.51 267.4L622.51 267.9L622.51 268.4L622.51 268.9L622.5 269.4L622.5 269.9L622.5 270.4L622.5 270.9L622.5 271.4L622.5 271.9L622.5 272.4L622.5 272.9L622.49 273.4L622.49 273.9L622.49 274.4L622.49 274.9L622.49 275.4L622.49 275.9L622.49 276.4L622.49 276.9L622.49 277.4L622.48 277.9L622.48 278.4L622.48 278.9L622.48 279.4L622.48 279.9L622.48 280.4L622.48 280.9L622.48 281.4L622.48 281.9L622.48 282.4L622.48 282.9L622.48 283.4L622.48 283.5L620.75 283.5L620.75 283.4L620.75 282.9L620.75 282.4L620.75 281.9L620.75 281.4L620.75 280.9L620.75 280.4L620.75 279.9L620.74 279.4L620.74 278.9L620.74 278.4L620.74 277.9L620.74 277.4L620.74 276.9L620.74 276.4L620.74 275.9L620.74 275.4L620.74 274.9L620.73 274.4L620.73 273.9L620.73 273.4L620.73 272.9L620.73 272.4L620.73 271.9L620.73 271.4L620.73 270.9L620.73 270.4L620.72 269.9L620.72 269.4L620.72 268.9L620.72 268.4L620.72 267.9L620.72 267.4L620.72 266.9L620.71 266.4L620.71 265.9L620.71 265.4L620.71 264.9L620.7 264.4L620.7 263.9L620.7 263.4L620.69 262.9L620.69 262.4L620.68 261.9L620.67 261.4L620.67 260.9L620.66 260.4L620.65 259.9L620.65 259.4L620.64 258.9L620.63 258.4L620.62 257.9L620.61 257.4L620.6 256.9L620.59 256.4L620.58 255.9L620.57 255.4L620.56 254.9L620.55 254.4L620.54 253.9L620.53 253.4L620.52 252.9L620.51 252.4L620.5 251.9L620.49 251.4L620.48 250.9L620.47 250.4L620.46 249.9L620.45 249.4L620.43 248.9L620.42 248.4L620.41 247.9L620.39 247.4L620.38 246.9L620.37 246.4L620.35 245.9L620.34 245.4L620.32 244.9L620.3 244.4L620.29 243.9L620.27 243.4L620.25 242.9L620.23 242.4L620.22 241.9L620.2 241.4L620.18 240.9L620.16 240.4L620.14 239.9L620.12 239.4L620.09 238.9L620.07 238.4L620.05 237.9L620.03 237.4L620 236.9L619.98 236.4L619.95 235.9L619.92 235.4L619.89 234.9L619.86 234.4L619.83 233.9L619.8 233.4L619.76 232.9L619.73 232.4L619.69 231.9L619.66 231.4L619.62 230.9L619.58 230.4L619.54 229.9L619.5 229.4L619.46 228.9L619.41 228.4L619.37 227.9L619.32 227.4L619.26 226.9L619.2 226.4L619.14 225.9L619.07 225.4L619 224.9L618.9 224.4L618.79 223.9L618.66 223.4L618.52 222.9L618.38 222.4L618.23 221.9L618.08 221.4L617.92 220.9L617.74 220.4L617.56 219.9L617.38 219.4L617.19 218.9L617 218.4L616.82 217.9L616.64 217.4L616.46 216.9L616.28 216.4L616.1 215.9L615.93 215.4L615.75 214.9L615.57 214.4L615.39 213.9L615.21 213.4L615.03 212.9L614.84 212.4L614.65 211.9L614.45 211.4L614.25 210.9L614.05 210.4L613.85 209.9L613.64 209.4L613.44 208.9L613.23 208.4L613.03 207.9L612.84 207.4L612.65 206.9L612.47 206.4L612.28 205.9L612.11 205.4L611.93 204.9L611.75 204.4L611.58 203.9L611.4 203.4L611.22 202.9L611.04 202.4L610.85 201.9L610.66 201.4L610.46 200.9L610.26 200.4L610.06 199.9L609.87 199.4L609.67 198.9L609.48 198.4L609.3 197.9L609.13 197.4L608.97 196.9L608.81 196.4L608.67 195.9L608.52 195.4L608.38 194.9L608.25 194.4L608.11 193.9L607.98 193.4L607.85 192.9L607.72 192.4L607.58 191.9L607.44 191.4L607.3 190.9L607.16 190.4L607.02 189.9L606.88 189.4L606.74 188.9L606.61 188.4L606.49 187.9L606.38 187.4L606.28 186.9L606.19 186.4L606.12 185.9L606.05 185.4L605.98 184.9L605.92 184.4L605.86 183.9L605.8 183.4L605.74 182.9L605.7 182.4L605.65 181.9L605.62 181.4L605.59 180.9L605.57 180.4L605.57 179.9L605.59 179.4L605.62 178.9L605.66 178.4L605.7 177.9L605.75 177.4L605.81 176.9L605.87 176.4L605.93 175.9L606 175.4L606.06 174.9L606.13 174.4L606.21 173.9L606.3 173.4L606.4 172.9L606.51 172.4L606.64 171.9L606.77 171.4L606.9 170.9L607.05 170.4L607.19 169.9L607.33 169.4L607.47 168.9L607.61 168.4L607.74 167.9L607.87 167.4L608.01 166.9L608.14 166.4L608.27 165.9L608.41 165.4L608.55 164.9L608.69 164.4L608.84 163.9L609 163.4L609.16 162.9L609.34 162.4L609.52 161.9L609.71 161.4L609.9 160.9L610.1 160.4L610.3 159.9L610.5 159.4L610.7 158.9L610.89 158.4L611.07 157.9L611.25 157.4L611.43 156.9L611.61 156.4L611.79 155.9L611.96 155.4L612.14 154.9L612.32 154.4L612.5 153.9L612.69 153.4L612.88 152.9L613.07 152.4L613.27 151.9L613.48 151.4L613.68 150.9L613.89 150.4L614.09 149.9L614.29 149.4L614.49 148.9L614.69 148.4L614.88 147.9L615.06 147.4L615.25 146.9L615.43 146.4L615.61 145.9L615.79 145.4L615.97 144.9L616.14 144.4L616.32 143.9L616.49 143.4L616.67 142.9L616.85 142.4L617.04 141.9L617.22 141.4L617.41 140.9L617.59 140.4L617.76 139.9L617.93 139.4L618.08 138.9L618.21 138.4L618.33 137.9L618.45 137.4L618.56 136.9L618.66 136.4L618.75 135.9L618.84 135.4L618.92 134.9L618.99 134.4L619.05 133.9L619.11 133.4L619.17 132.9L619.22 132.4L619.27 131.9L619.32 131.4L619.36 130.9L619.4 130.4L619.44 129.9L619.48 129.4L619.52 128.9L619.55 128.4L619.58 127.9L619.61 127.4L619.64 126.9L619.67 126.4L619.7 125.9L619.73 125.4L619.75 124.9L619.78 124.4L619.8 123.9L619.83 123.4L619.85 122.9L619.87 122.4L619.89 121.9L619.91 121.4L619.93 120.9L619.96 120.4L619.98 119.9L620 119.4L620.02 118.9L620.04 118.4L620.06 117.9L620.08 117.4L620.09 116.9L620.11 116.4L620.13 115.9L620.15 115.4L620.17 114.9L620.19 114.4L620.2 113.9L620.22 113.4L620.24 112.9L620.25 112.4L620.27 111.9L620.28 111.4L620.3 110.9L620.31 110.4L620.32 109.9L620.34 109.4L620.35 108.9L620.36 108.4L620.37 107.9L620.38 107.4L620.39 106.9L620.4 106.4L620.41 105.9L620.42 105.4L620.43 104.9L620.44 104.4L620.45 103.9L620.46 103.4L620.47 102.9L620.47 102.4L620.48 101.9L620.49 101.4L620.5 100.9L620.51 100.4L620.51 99.9L620.52 99.4L620.53 98.9L620.53 98.4L620.54 97.9L620.54 97.4L620.55 96.9L620.55 96.4L620.55 95.9L620.56 95.4L620.56 94.9L620.56 94.4L620.56 93.9L620.57 93.4L620.57 92.9L620.57 92.4L620.57 91.9L620.57 91.4L620.57 90.9L620.57 90.4L620.58 89.9L620.58 89.4L620.58 88.9L620.58 88.4L620.58 87.9L620.58 87.4L620.58 86.9L620.58 86.4L620.59 85.9L620.59 85.4L620.59 84.9L620.59 84.4L620.59 83.9L620.59 83.4L620.59 82.9L620.59 82.4L620.59 81.9L620.59 81.4L620.6 80.9L620.6 80.4L620.6 79.9L620.6 79.4Z" fill="#df8920" stroke="#4d4d4d" stroke-width="5.2" stroke-linejoin="round"/>
<path d="M671.09 79.4L671.1 79.9L671.1 80.4L671.1 80.9L671.1 81.4L671.1 81.9L671.1 82.4L671.1 82.9L671.1 83.4L671.1 83.9L671.1 84.4L671.1 84.9L671.1 85.4L671.1 85.9L671.1 86.4L671.1 86.9L671.1 87.4L671.1 87.9L671.11 88.4L671.11 88.9L671.11 89.4L671.11 89.9L671.11 90.4L671.11 90.9L671.11 91.4L671.11 91.9L671.11 92.4L671.11 92.9L671.11 93.4L671.11 93.9L671.12 94.4L671.12 94.9L671.12 95.4L671.12 95.9L671.12 96.4L671.12 96.9L671.12 97.4L671.12 97.9L671.12 98.4L671.12 98.9L671.13 99.4L671.13 99.9L671.13 100.4L671.13 100.9L671.13 101.4L671.13 101.9L671.13 102.4L671.13 102.9L671.13 103.4L671.14 103.9L671.14 104.4L671.14 104.9L671.14 105.4L671.14 105.9L671.14 106.4L671.14 106.9L671.14 107.4L671.15 107.9L671.15 108.4L671.15 108.9L671.15 109.4L671.15 109.9L671.15 110.4L671.15 110.9L671.16 111.4L671.16 111.9L671.16 112.4L671.16 112.9L671.16 113.4L671.16 113.9L671.17 114.4L671.17 114.9L671.17 115.4L671.17 115.9L671.17 116.4L671.17 116.9L671.18 117.4L671.18 117.9L671.18 118.4L671.18 118.9L671.18 119.4L671.19 119.9L671.19 120.4L671.19 120.9L671.19 121.4L671.2 121.9L671.2 122.4L671.21 122.9L671.22 123.4L671.23 123.9L671.23 124.4L671.24 124.9L671.25 125.4L671.27 125.9L671.28 126.4L671.29 126.9L671.3 127.4L671.31 127.9L671.33 128.4L671.34 128.9L671.35 129.4L671.37 129.9L671.38 130.4L671.4 130.9L671.41 131.4L671.43 131.9L671.44 132.4L671.46 132.9L671.48 133.4L671.5 133.9L671.52 134.4L671.54 134.9L671.56 135.4L671.58 135.9L671.61 136.4L671.64 136.9L671.66 137.4L671.69 137.9L671.72 138.4L671.75 138.9L671.78 139.4L671.82 139.9L671.85 140.4L671.88 140.9L671.92 141.4L671.96 141.9L672 142.4L672.04 142.9L672.09 143.4L672.14 143.9L672.19 144.4L672.25 144.9L672.32 145.4L672.39 145.9L672.47 146.4L672.57 146.9L672.7 147.4L672.84 147.9L673 148.4L673.18 148.9L673.37 149.4L673.58 149.9L673.82 150.4L674.1 150.9L674.41 151.4L674.75 151.9L675.11 152.4L675.48 152.9L675.85 153.4L676.22 153.9L676.58 154.4L676.95 154.9L677.33 155.4L677.72 155.9L678.12 156.4L678.52 156.9L678.91 157.4L679.3 157.9L679.69 158.4L680.08 158.9L680.46 159.4L680.85 159.9L681.23 160.4L681.61 160.9L681.99 161.4L682.37 161.9L682.75 162.4L683.12 162.9L683.48 163.4L683.85 163.9L684.21 164.4L684.56 164.9L684.92 165.4L685.27 165.9L685.62 166.4L685.96 166.9L686.3 167.4L686.64 167.9L686.97 168.4L687.29 168.9L687.61 169.4L687.92 169.9L688.23 170.4L688.54 170.9L688.85 171.4L689.15 171.9L689.45 172.4L689.75 172.9L690.05 173.4L690.35 173.9L690.66 174.4L690.97 174.9L691.28 175.4L691.59 175.9L691.9 176.4L692.21 176.9L692.51 177.4L692.81 177.9L693.09 178.4L693.37 178.9L693.64 179.4L693.89 179.9L693.94 180.4L693.69 180.9L693.44 181.4L693.18 181.9L692.93 182.4L692.67 182.9L692.41 183.4L692.15 183.9L691.89 184.4L691.63 184.9L691.37 185.4L691.1 185.9L690.83 186.4L690.56 186.9L690.3 187.4L690.03 187.9L689.77 188.4L689.5 188.9L689.23 189.4L688.95 189.9L688.67 190.4L688.38 190.9L688.09 191.4L687.78 191.9L687.47 192.4L687.14 192.9L686.78 193.4L686.41 193.9L686.03 194.4L685.64 194.9L685.24 195.4L684.84 195.9L684.45 196.4L684.06 196.9L683.69 197.4L683.32 197.9L682.96 198.4L682.6 198.9L682.24 199.4L681.88 199.9L681.53 200.4L681.17 200.9L680.81 201.4L680.45 201.9L680.07 202.4L679.7 202.9L679.33 203.4L678.95 203.9L678.58 204.4L678.22 204.9L677.87 205.4L677.53 205.9L677.21 206.4L676.89 206.9L676.57 207.4L676.25 207.9L675.94 208.4L675.63 208.9L675.33 209.4L675.04 209.9L674.76 210.4L674.48 210.9L674.22 211.4L673.98 211.9L673.75 212.4L673.54 212.9L673.33 213.4L673.14 213.9L672.95 214.4L672.78 214.9L672.63 215.4L672.5 215.9L672.4 216.4L672.3 216.9L672.22 217.4L672.13 217.9L672.06 218.4L671.98 218.9L671.92 219.4L671.86 219.9L671.8 220.4L671.75 220.9L671.7 221.4L671.66 221.9L671.62 222.4L671.59 222.9L671.55 223.4L671.52 223.9L671.49 224.4L671.46 224.9L671.43 225.4L671.41 225.9L671.38 226.4L671.36 226.9L671.34 227.4L671.32 227.9L671.3 228.4L671.28 228.9L671.26 229.4L671.25 229.9L671.23 230.4L671.22 230.9L671.2 231.4L671.19 231.9L671.17 232.4L671.16 232.9L671.15 233.4L671.14 233.9L671.12 234.4L671.11 234.9L671.1 235.4L671.09 235.9L671.08 236.4L671.07 236.9L671.06 237.4L671.06 237.9L671.05 238.4L671.05 238.9L671.04 239.4L671.04 239.9L671.04 240.4L671.03 240.9L671.03 241.4L671.03 241.9L671.03 242.4L671.03 242.9L671.02 243.4L671.02 243.9L671.02 244.4L671.02 244.9L671.02 245.4L671.02 245.9L671.01 246.4L671.01 246.9L671.01 247.4L671.01 247.9L671.01 248.4L671.01 248.9L671 249.4L671 249.9L671 250.4L671 250.9L671 251.4L671 251.9L671 252.4L670.99 252.9L670.99 253.4L670.99 253.9L670.99 254.4L670.99 254.9L670.99 255.4L670.99 255.9L670.99 256.4L670.98 256.9L670.98 257.4L670.98 257.9L670.98 258.4L670.98 258.9L670.98 259.4L670.98 259.9L670.98 260.4L670.97 260.9L670.97 261.4L670.97 261.9L670.97 262.4L670.97 262.9L670.97 263.4L670.97 263.9L670.97 264.4L670.97 264.9L670.97 265.4L670.96 265.9L670.96 266.4L670.96 266.9L670.96 267.4L670.96 267.9L670.96 268.4L670.96 268.9L670.96 269.4L670.96 269.9L670.96 270.4L670.96 270.9L670.96 271.4L670.96 271.9L670.95 272.4L670.95 272.9L670.95 273.4L670.95 273.9L670.95 274.4L670.95 274.9L670.95 275.4L670.95 275.9L670.95 276.4L670.95 276.9L670.95 277.4L670.95 277.9L670.95 278.4L670.95 278.9L670.95 279.4L670.95 279.9L670.95 280.4L670.94 280.9L670.94 281.4L670.94 281.9L670.94 282.4L670.94 282.9L670.94 283.4L670.94 283.5L669.83 283.5L669.83 283.4L669.83 282.9L669.83 282.4L669.83 281.9L669.83 281.4L669.83 280.9L669.83 280.4L669.83 279.9L669.83 279.4L669.83 278.9L669.83 278.4L669.83 277.9L669.83 277.4L669.82 276.9L669.82 276.4L669.82 275.9L669.82 275.4L669.82 274.9L669.82 274.4L669.82 273.9L669.82 273.4L669.82 272.9L669.82 272.4L669.82 271.9L669.82 271.4L669.82 270.9L669.82 270.4L669.82 269.9L669.81 269.4L669.81 268.9L669.81 268.4L669.81 267.9L669.81 267.4L669.81 266.9L669.81 266.4L669.81 265.9L669.81 265.4L669.81 264.9L669.81 264.4L669.8 263.9L669.8 263.4L669.8 262.9L669.8 262.4L669.8 261.9L669.8 261.4L669.8 260.9L669.8 260.4L669.8 259.9L669.8 259.4L669.79 258.9L669.79 258.4L669.79 257.9L669.79 257.4L669.79 256.9L669.79 256.4L669.79 255.9L669.79 255.4L669.78 254.9L669.78 254.4L669.78 253.9L669.78 253.4L669.78 252.9L669.78 252.4L669.78 251.9L669.77 251.4L669.77 250.9L669.77 250.4L669.77 249.9L669.77 249.4L669.77 248.9L669.77 248.4L669.76 247.9L669.76 247.4L669.76 246.9L669.76 246.4L669.76 245.9L669.76 245.4L669.75 244.9L669.75 244.4L669.75 243.9L669.75 243.4L669.75 242.9L669.74 242.4L669.74 241.9L669.74 241.4L669.74 240.9L669.74 240.4L669.74 239.9L669.73 239.4L669.73 238.9L669.72 238.4L669.72 237.9L669.71 237.4L669.7 236.9L669.69 236.4L669.68 235.9L669.67 235.4L669.66 234.9L669.65 234.4L669.64 233.9L669.63 233.4L669.61 232.9L669.6 232.4L669.59 231.9L669.57 231.4L669.56 230.9L669.54 230.4L669.53 229.9L669.51 229.4L669.5 228.9L669.48 228.4L669.46 227.9L669.44 227.4L669.42 226.9L669.39 226.4L669.37 225.9L669.34 225.4L669.31 224.9L669.28 224.4L669.25 223.9L669.22 223.4L669.19 222.9L669.15 222.4L669.11 221.9L669.07 221.4L669.02 220.9L668.97 220.4L668.92 219.9L668.86 219.4L668.79 218.9L668.72 218.4L668.64 217.9L668.56 217.4L668.47 216.9L668.38 216.4L668.27 215.9L668.14 215.4L667.99 214.9L667.82 214.4L667.63 213.9L667.44 213.4L667.24 212.9L667.02 212.4L666.79 211.9L666.55 211.4L666.29 210.9L666.02 210.4L665.74 209.9L665.44 209.4L665.14 208.9L664.83 208.4L664.52 207.9L664.2 207.4L663.89 206.9L663.56 206.4L663.24 205.9L662.9 205.4L662.55 204.9L662.19 204.4L661.82 203.9L661.45 203.4L661.07 202.9L660.7 202.4L660.33 201.9L659.96 201.4L659.6 200.9L659.25 200.4L658.89 199.9L658.53 199.4L658.17 198.9L657.81 198.4L657.45 197.9L657.08 197.4L656.71 196.9L656.33 196.4L655.93 195.9L655.53 195.4L655.14 194.9L654.74 194.4L654.36 193.9L653.99 193.4L653.64 192.9L653.31 192.4L652.99 191.9L652.69 191.4L652.39 190.9L652.1 190.4L651.82 189.9L651.55 189.4L651.28 188.9L651.01 188.4L650.74 187.9L650.48 187.4L650.21 186.9L649.94 186.4L649.68 185.9L649.41 185.4L649.14 184.9L648.88 184.4L648.62 183.9L648.36 183.4L648.1 182.9L647.85 182.4L647.59 181.9L647.34 181.4L647.09 180.9L646.84 180.4L646.88 179.9L647.13 179.4L647.4 178.9L647.68 178.4L647.97 177.9L648.27 177.4L648.57 176.9L648.88 176.4L649.19 175.9L649.5 175.4L649.81 174.9L650.11 174.4L650.42 173.9L650.72 173.4L651.02 172.9L651.32 172.4L651.63 171.9L651.93 171.4L652.23 170.9L652.54 170.4L652.85 169.9L653.16 169.4L653.48 168.9L653.81 168.4L654.13 167.9L654.47 167.4L654.81 166.9L655.15 166.4L655.5 165.9L655.85 165.4L656.21 164.9L656.57 164.4L656.93 163.9L657.29 163.4L657.66 162.9L658.03 162.4L658.4 161.9L658.78 161.4L659.16 160.9L659.54 160.4L659.93 159.9L660.31 159.4L660.7 158.9L661.08 158.4L661.47 157.9L661.86 157.4L662.26 156.9L662.66 156.4L663.05 155.9L663.44 155.4L663.82 154.9L664.19 154.4L664.55 153.9L664.92 153.4L665.3 152.9L665.66 152.4L666.02 151.9L666.36 151.4L666.68 150.9L666.96 150.4L667.19 149.9L667.4 149.4L667.59 148.9L667.77 148.4L667.93 147.9L668.08 147.4L668.2 146.9L668.3 146.4L668.38 145.9L668.45 145.4L668.52 144.9L668.58 144.4L668.63 143.9L668.68 143.4L668.73 142.9L668.77 142.4L668.81 141.9L668.85 141.4L668.89 140.9L668.92 140.4L668.96 139.9L668.99 139.4L669.02 138.9L669.05 138.4L669.08 137.9L669.11 137.4L669.14 136.9L669.16 136.4L669.19 135.9L669.21 135.4L669.24 134.9L669.26 134.4L669.28 133.9L669.3 133.4L669.31 132.9L669.33 132.4L669.35 131.9L669.36 131.4L669.38 130.9L669.39 130.4L669.4 129.9L669.42 129.4L669.43 128.9L669.45 128.4L669.46 127.9L669.47 127.4L669.48 126.9L669.5 126.4L669.51 125.9L669.52 125.4L669.53 124.9L669.54 124.4L669.55 123.9L669.56 123.4L669.56 122.9L669.57 122.4L669.57 121.9L669.58 121.4L669.58 120.9L669.59 120.4L669.59 119.9L669.59 119.4L669.59 118.9L669.59 118.4L669.6 117.9L669.6 117.4L669.6 116.9L669.6 116.4L669.6 115.9L669.6 115.4L669.61 114.9L669.61 114.4L669.61 113.9L669.61 113.4L669.61 112.9L669.61 112.4L669.62 111.9L669.62 111.4L669.62 110.9L669.62 110.4L669.62 109.9L669.62 109.4L669.62 108.9L669.63 108.4L669.63 107.9L669.63 107.4L669.63 106.9L669.63 106.4L669.63 105.9L669.63 105.4L669.64 104.9L669.64 104.4L669.64 103.9L669.64 103.4L669.64 102.9L669.64 102.4L669.64 101.9L669.64 101.4L669.64 100.9L669.65 100.4L669.65 99.9L669.65 99.4L669.65 98.9L669.65 98.4L669.65 97.9L669.65 97.4L669.65 96.9L669.65 96.4L669.66 95.9L669.66 95.4L669.66 94.9L669.66 94.4L669.66 93.9L669.66 93.4L669.66 92.9L669.66 92.4L669.66 91.9L669.66 91.4L669.66 90.9L669.66 90.4L669.67 89.9L669.67 89.4L669.67 88.9L669.67 88.4L669.67 87.9L669.67 87.4L669.67 86.9L669.67 86.4L669.67 85.9L669.67 85.4L669.67 84.9L669.67 84.4L669.67 83.9L669.67 83.4L669.67 82.9L669.68 82.4L669.68 81.9L669.68 81.4L669.68 80.9L669.68 80.4L669.68 79.9L669.68 79.4Z" fill="#5573cd" stroke="#4d4d4d" stroke-width="5.2" stroke-linejoin="round"/>
<path d="M745.74 79.4L745.74 79.9L745.74 80.4L745.75 80.9L745.75 81.4L745.75 81.9L745.75 82.4L745.76 82.9L745.76 83.4L745.76 83.9L745.77 84.4L745.77 84.9L745.77 85.4L745.77 85.9L745.78 86.4L745.78 86.9L745.78 87.4L745.79 87.9L745.79 88.4L745.79 88.9L745.8 89.4L745.8 89.9L745.81 90.4L745.81 90.9L745.81 91.4L745.82 91.9L745.82 92.4L745.83 92.9L745.83 93.4L745.83 93.9L745.84 94.4L745.84 94.9L745.85 95.4L745.85 95.9L745.86 96.4L745.86 96.9L745.86 97.4L745.87 97.9L745.87 98.4L745.88 98.9L745.88 99.4L745.89 99.9L745.89 100.4L745.9 100.9L745.91 101.4L745.91 101.9L745.92 102.4L745.93 102.9L745.95 103.4L745.96 103.9L745.98 104.4L745.99 104.9L746.01 105.4L746.03 105.9L746.05 106.4L746.07 106.9L746.09 107.4L746.11 107.9L746.13 108.4L746.16 108.9L746.18 109.4L746.2 109.9L746.23 110.4L746.25 110.9L746.28 111.4L746.3 111.9L746.33 112.4L746.36 112.9L746.39 113.4L746.42 113.9L746.45 114.4L746.48 114.9L746.52 115.4L746.56 115.9L746.6 116.4L746.64 116.9L746.68 117.4L746.72 117.9L746.77 118.4L746.82 118.9L746.86 119.4L746.91 119.9L746.97 120.4L747.02 120.9L747.08 121.4L747.14 121.9L747.2 122.4L747.27 122.9L747.34 123.4L747.41 123.9L747.48 124.4L747.55 124.9L747.63 125.4L747.71 125.9L747.79 126.4L747.88 126.9L747.97 127.4L748.07 127.9L748.17 128.4L748.29 128.9L748.41 129.4L748.53 129.9L748.66 130.4L748.8 130.9L748.94 131.4L749.08 131.9L749.22 132.4L749.37 132.9L749.51 133.4L749.66 133.9L749.8 134.4L749.94 134.9L750.08 135.4L750.22 135.9L750.35 136.4L750.48 136.9L750.61 137.4L750.74 137.9L750.86 138.4L750.99 138.9L751.12 139.4L751.25 139.9L751.38 140.4L751.52 140.9L751.66 141.4L751.81 141.9L751.96 142.4L752.12 142.9L752.28 143.4L752.45 143.9L752.62 144.4L752.8 144.9L752.98 145.4L753.17 145.9L753.35 146.4L753.53 146.9L753.72 147.4L753.9 147.9L754.08 148.4L754.26 148.9L754.44 149.4L754.62 149.9L754.8 150.4L754.99 150.9L755.18 151.4L755.37 151.9L755.56 152.4L755.75 152.9L755.95 153.4L756.14 153.9L756.33 154.4L756.52 154.9L756.7 155.4L756.89 155.9L757.07 156.4L757.24 156.9L757.42 157.4L757.58 157.9L757.74 158.4L757.9 158.9L758.05 159.4L758.19 159.9L758.32 160.4L758.45 160.9L758.57 161.4L758.69 161.9L758.81 162.4L758.93 162.9L759.05 163.4L759.17 163.9L759.29 164.4L759.4 164.9L759.51 165.4L759.62 165.9L759.72 166.4L759.82 166.9L759.92 167.4L760.02 167.9L760.11 168.4L760.19 168.9L760.28 169.4L760.35 169.9L760.43 170.4L760.5 170.9L760.56 171.4L760.62 171.9L760.67 172.4L760.71 172.9L760.76 173.4L760.8 173.9L760.85 174.4L760.89 174.9L760.93 175.4L760.97 175.9L761.01 176.4L761.04 176.9L761.07 177.4L761.1 177.9L761.13 178.4L761.15 178.9L761.17 179.4L761.18 179.9L761.19 180.4L761.19 180.9L761.18 181.4L761.16 181.9L761.14 182.4L761.11 182.9L761.07 183.4L761.03 183.9L760.99 184.4L760.94 184.9L760.89 185.4L760.83 185.9L760.78 186.4L760.72 186.9L760.66 187.4L760.6 187.9L760.53 188.4L760.47 188.9L760.4 189.4L760.32 189.9L760.22 190.4L760.12 190.9L760.02 191.4L759.9 191.9L759.78 192.4L759.66 192.9L759.52 193.4L759.39 193.9L759.25 194.4L759.11 194.9L758.96 195.4L758.82 195.9L758.67 196.4L758.52 196.9L758.37 197.4L758.23 197.9L758.08 198.4L757.94 198.9L757.8 199.4L757.65 199.9L757.5 200.4L757.35 200.9L757.19 201.4L757.04 201.9L756.88 202.4L756.72 202.9L756.55 203.4L756.39 203.9L756.22 204.4L756.05 204.9L755.88 205.4L755.7 205.9L755.53 206.4L755.35 206.9L755.17 207.4L754.98 207.9L754.8 208.4L754.61 208.9L754.41 209.4L754.2 209.9L754 210.4L753.78 210.9L753.57 211.4L753.35 211.9L753.13 212.4L752.9 212.9L752.68 213.4L752.46 213.9L752.25 214.4L752.03 214.9L751.82 215.4L751.61 215.9L751.4 216.4L751.18 216.9L750.96 217.4L750.74 217.9L750.52 218.4L750.31 218.9L750.1 219.4L749.89 219.9L749.7 220.4L749.53 220.9L749.37 221.4L749.22 221.9L749.1 222.4L748.98 222.9L748.86 223.4L748.76 223.9L748.66 224.4L748.56 224.9L748.47 225.4L748.38 225.9L748.3 226.4L748.22 226.9L748.14 227.4L748.07 227.9L747.99 228.4L747.92 228.9L747.85 229.4L747.78 229.9L747.71 230.4L747.65 230.9L747.59 231.4L747.53 231.9L747.47 232.4L747.41 232.9L747.36 233.4L747.32 233.9L747.27 234.4L747.23 234.9L747.18 235.4L747.14 235.9L747.1 236.4L747.07 236.9L747.03 237.4L746.99 237.9L746.96 238.4L746.93 238.9L746.89 239.4L746.86 239.9L746.83 240.4L746.8 240.9L746.77 241.4L746.74 241.9L746.71 242.4L746.69 242.9L746.66 243.4L746.63 243.9L746.61 244.4L746.58 244.9L746.56 245.4L746.54 245.9L746.52 246.4L746.49 246.9L746.47 247.4L746.45 247.9L746.43 248.4L746.41 248.9L746.39 249.4L746.37 249.9L746.35 250.4L746.33 250.9L746.3 251.4L746.28 251.9L746.26 252.4L746.23 252.9L746.21 253.4L746.18 253.9L746.16 254.4L746.13 254.9L746.1 255.4L746.07 255.9L746.03 256.4L746 256.9L745.96 257.4L745.92 257.9L745.88 258.4L745.85 258.9L745.81 259.4L745.77 259.9L745.74 260.4L745.7 260.9L745.67 261.4L745.64 261.9L745.61 262.4L745.59 262.9L745.56 263.4L745.54 263.9L745.51 264.4L745.49 264.9L745.46 265.4L745.44 265.9L745.41 266.4L745.39 266.9L745.37 267.4L745.35 267.9L745.33 268.4L745.32 268.9L745.31 269.4L745.3 269.9L745.3 270.4L745.3 270.9L745.3 283.5L741.8 283.5L741.8 270.9L741.8 270.4L741.79 269.9L741.78 269.4L741.77 268.9L741.76 268.4L741.74 267.9L741.72 267.4L741.7 266.9L741.68 266.4L741.66 265.9L741.63 265.4L741.61 264.9L741.58 264.4L741.56 263.9L741.53 263.4L741.51 262.9L741.48 262.4L741.45 261.9L741.42 261.4L741.39 260.9L741.36 260.4L741.32 259.9L741.29 259.4L741.25 258.9L741.21 258.4L741.17 257.9L741.13 257.4L741.1 256.9L741.06 256.4L741.03 255.9L740.99 255.4L740.96 254.9L740.94 254.4L740.91 253.9L740.88 253.4L740.86 252.9L740.83 252.4L740.81 251.9L740.79 251.4L740.77 250.9L740.75 250.4L740.72 249.9L740.7 249.4L740.68 248.9L740.66 248.4L740.64 247.9L740.62 247.4L740.6 246.9L740.58 246.4L740.56 245.9L740.53 245.4L740.51 244.9L740.49 244.4L740.46 243.9L740.43 243.4L740.41 242.9L740.38 242.4L740.35 241.9L740.32 241.4L740.29 240.9L740.26 240.4L740.23 239.9L740.2 239.4L740.17 238.9L740.13 238.4L740.1 237.9L740.06 237.4L740.03 236.9L739.99 236.4L739.95 235.9L739.91 235.4L739.87 234.9L739.82 234.4L739.78 233.9L739.73 233.4L739.68 232.9L739.62 232.4L739.57 231.9L739.51 231.4L739.45 230.9L739.38 230.4L739.31 229.9L739.25 229.4L739.17 228.9L739.1 228.4L739.03 227.9L738.95 227.4L738.87 226.9L738.79 226.4L738.71 225.9L738.62 225.4L738.53 224.9L738.44 224.4L738.34 223.9L738.23 223.4L738.12 222.9L738 222.4L737.87 221.9L737.73 221.4L737.57 220.9L737.39 220.4L737.2 219.9L737 219.4L736.79 218.9L736.57 218.4L736.35 217.9L736.13 217.4L735.91 216.9L735.69 216.4L735.48 215.9L735.27 215.4L735.06 214.9L734.85 214.4L734.63 213.9L734.41 213.4L734.19 212.9L733.97 212.4L733.75 211.9L733.53 211.4L733.31 210.9L733.1 210.4L732.89 209.9L732.68 209.4L732.49 208.9L732.3 208.4L732.11 207.9L731.93 207.4L731.75 206.9L731.57 206.4L731.39 205.9L731.22 205.4L731.04 204.9L730.87 204.4L730.71 203.9L730.54 203.4L730.38 202.9L730.22 202.4L730.06 201.9L729.9 201.4L729.75 200.9L729.59 200.4L729.45 199.9L729.3 199.4L729.15 198.9L729.01 198.4L728.87 197.9L728.72 197.4L728.57 196.9L728.42 196.4L728.28 195.9L728.13 195.4L727.99 194.9L727.84 194.4L727.7 193.9L727.57 193.4L727.44 192.9L727.31 192.4L727.19 191.9L727.08 191.4L726.97 190.9L726.87 190.4L726.78 189.9L726.7 189.4L726.62 188.9L726.56 188.4L726.5 187.9L726.43 187.4L726.37 186.9L726.31 186.4L726.26 185.9L726.2 185.4L726.15 184.9L726.11 184.4L726.06 183.9L726.02 183.4L725.99 182.9L725.96 182.4L725.93 181.9L725.91 181.4L725.9 180.9L725.9 180.4L725.91 179.9L725.93 179.4L725.94 178.9L725.97 178.4L725.99 177.9L726.02 177.4L726.05 176.9L726.09 176.4L726.12 175.9L726.16 175.4L726.2 174.9L726.25 174.4L726.29 173.9L726.33 173.4L726.38 172.9L726.43 172.4L726.48 171.9L726.53 171.4L726.6 170.9L726.67 170.4L726.74 169.9L726.82 169.4L726.9 168.9L726.99 168.4L727.08 167.9L727.17 167.4L727.27 166.9L727.37 166.4L727.48 165.9L727.59 165.4L727.7 164.9L727.81 164.4L727.92 163.9L728.04 163.4L728.16 162.9L728.28 162.4L728.4 161.9L728.52 161.4L728.65 160.9L728.77 160.4L728.91 159.9L729.05 159.4L729.2 158.9L729.35 158.4L729.51 157.9L729.68 157.4L729.85 156.9L730.03 156.4L730.21 155.9L730.39 155.4L730.58 154.9L730.76 154.4L730.96 153.9L731.15 153.4L731.34 152.9L731.53 152.4L731.72 151.9L731.91 151.4L732.1 150.9L732.29 150.4L732.47 149.9L732.65 149.4L732.83 148.9L733.01 148.4L733.19 147.9L733.37 147.4L733.56 146.9L733.74 146.4L733.93 145.9L734.11 145.4L734.29 144.9L734.47 144.4L734.64 143.9L734.81 143.4L734.98 142.9L735.14 142.4L735.29 141.9L735.43 141.4L735.57 140.9L735.71 140.4L735.84 139.9L735.97 139.4L736.1 138.9L736.23 138.4L736.36 137.9L736.49 137.4L736.61 136.9L736.74 136.4L736.88 135.9L737.01 135.4L737.15 134.9L737.29 134.4L737.44 133.9L737.58 133.4L737.73 132.9L737.87 132.4L738.01 131.9L738.16 131.4L738.29 130.9L738.43 130.4L738.56 129.9L738.68 129.4L738.8 128.9L738.92 128.4L739.03 127.9L739.12 127.4L739.21 126.9L739.3 126.4L739.38 125.9L739.46 125.4L739.54 124.9L739.62 124.4L739.69 123.9L739.76 123.4L739.83 122.9L739.89 122.4L739.95 121.9L740.01 121.4L740.07 120.9L740.13 120.4L740.18 119.9L740.23 119.4L740.28 118.9L740.32 118.4L740.37 117.9L740.41 117.4L740.46 116.9L740.5 116.4L740.54 115.9L740.57 115.4L740.61 114.9L740.64 114.4L740.68 113.9L740.71 113.4L740.74 112.9L740.77 112.4L740.79 111.9L740.82 111.4L740.84 110.9L740.87 110.4L740.89 109.9L740.91 109.4L740.94 108.9L740.96 108.4L740.98 107.9L741 107.4L741.02 106.9L741.05 106.4L741.06 105.9L741.08 105.4L741.1 104.9L741.12 104.4L741.13 103.9L741.15 103.4L741.16 102.9L741.17 102.4L741.18 101.9L741.19 101.4L741.19 100.9L741.2 100.4L741.2 99.9L741.21 99.4L741.21 98.9L741.22 98.4L741.22 97.9L741.23 97.4L741.23 96.9L741.24 96.4L741.24 95.9L741.25 95.4L741.25 94.9L741.26 94.4L741.26 93.9L741.26 93.4L741.27 92.9L741.27 92.4L741.28 91.9L741.28 91.4L741.28 90.9L741.29 90.4L741.29 89.9L741.3 89.4L741.3 88.9L741.3 88.4L741.31 87.9L741.31 87.4L741.31 86.9L741.32 86.4L741.32 85.9L741.32 85.4L741.32 84.9L741.33 84.4L741.33 83.9L741.33 83.4L741.34 82.9L741.34 82.4L741.34 81.9L741.34 81.4L741.35 80.9L741.35 80.4L741.35 79.9L741.35 79.4Z" fill="#df8920" stroke="#4d4d4d" stroke-width="5.2" stroke-linejoin="round"/>
<path d="M794.34 79.4L794.34 79.9L794.34 80.4L794.34 80.9L794.34 81.4L794.34 81.9L794.34 82.4L794.34 82.9L794.34 83.4L794.34 83.9L794.34 84.4L794.35 84.9L794.35 85.4L794.35 85.9L794.35 86.4L794.35 86.9L794.35 87.4L794.35 87.9L794.35 88.4L794.36 88.9L794.36 89.4L794.36 89.9L794.36 90.4L794.36 90.9L794.36 91.4L794.36 91.9L794.37 92.4L794.37 92.9L794.37 93.4L794.37 93.9L794.37 94.4L794.37 94.9L794.38 95.4L794.38 95.9L794.38 96.4L794.38 96.9L794.38 97.4L794.38 97.9L794.39 98.4L794.39 98.9L794.39 99.4L794.39 99.9L794.39 100.4L794.4 100.9L794.4 101.4L794.4 101.9L794.4 102.4L794.4 102.9L794.41 103.4L794.41 103.9L794.41 104.4L794.41 104.9L794.42 105.4L794.42 105.9L794.42 106.4L794.42 106.9L794.43 107.4L794.43 107.9L794.43 108.4L794.43 108.9L794.44 109.4L794.44 109.9L794.44 110.4L794.44 110.9L794.45 111.4L794.45 111.9L794.45 112.4L794.45 112.9L794.46 113.4L794.46 113.9L794.46 114.4L794.47 114.9L794.47 115.4L794.47 115.9L794.48 116.4L794.48 116.9L794.49 117.4L794.49 117.9L794.5 118.4L794.51 118.9L794.52 119.4L794.53 119.9L794.54 120.4L794.56 120.9L794.57 121.4L794.58 121.9L794.6 122.4L794.61 122.9L794.63 123.4L794.64 123.9L794.66 124.4L794.68 124.9L794.69 125.4L794.71 125.9L794.73 126.4L794.76 126.9L794.78 127.4L794.81 127.9L794.84 128.4L794.88 128.9L794.92 129.4L794.96 129.9L795.02 130.4L795.1 130.9L795.2 131.4L795.31 131.9L795.43 132.4L795.56 132.9L795.69 133.4L795.82 133.9L795.95 134.4L796.09 134.9L796.23 135.4L796.38 135.9L796.54 136.4L796.69 136.9L796.85 137.4L797.01 137.9L797.18 138.4L797.34 138.9L797.51 139.4L797.69 139.9L797.86 140.4L798.04 140.9L798.22 141.4L798.4 141.9L798.59 142.4L798.78 142.9L798.97 143.4L799.16 143.9L799.35 144.4L799.55 144.9L799.75 145.4L799.96 145.9L800.17 146.4L800.39 146.9L800.61 147.4L800.84 147.9L801.06 148.4L801.28 148.9L801.5 149.4L801.72 149.9L801.94 150.4L802.15 150.9L802.36 151.4L802.55 151.9L802.75 152.4L802.94 152.9L803.14 153.4L803.35 153.9L803.58 154.4L803.82 154.9L804.09 155.4L804.38 155.9L804.7 156.4L805.04 156.9L805.39 157.4L805.76 157.9L806.13 158.4L806.5 158.9L806.86 159.4L807.22 159.9L807.57 160.4L807.9 160.9L808.23 161.4L808.56 161.9L808.89 162.4L809.22 162.9L809.55 163.4L809.88 163.9L810.21 164.4L810.53 164.9L810.84 165.4L811.16 165.9L811.46 166.4L811.76 166.9L812.05 167.4L812.34 167.9L812.61 168.4L812.88 168.9L813.14 169.4L813.41 169.9L813.69 170.4L813.95 170.9L814.22 171.4L814.48 171.9L814.73 172.4L814.96 172.9L815.19 173.4L815.4 173.9L815.58 174.4L815.75 174.9L815.9 175.4L816.02 175.9L816.13 176.4L816.24 176.9L816.34 177.4L816.44 177.9L816.53 178.4L816.6 178.9L816.67 179.4L816.72 179.9L816.76 180.4L816.76 180.9L816.73 181.4L816.68 181.9L816.62 182.4L816.54 182.9L816.46 183.4L816.36 183.9L816.26 184.4L816.15 184.9L816.04 185.4L815.92 185.9L815.78 186.4L815.62 186.9L815.43 187.4L815.22 187.9L815 188.4L814.76 188.9L814.52 189.4L814.26 189.9L813.99 190.4L813.73 190.9L813.46 191.4L813.19 191.9L812.93 192.4L812.67 192.9L812.4 193.4L812.13 193.9L811.85 194.4L811.56 194.9L811.27 195.4L810.97 195.9L810.67 196.4L810.37 196.9L810.06 197.4L809.76 197.9L809.45 198.4L809.14 198.9L808.84 199.4L808.54 199.9L808.25 200.4L807.95 200.9L807.66 201.4L807.37 201.9L807.08 202.4L806.79 202.9L806.49 203.4L806.2 203.9L805.91 204.4L805.62 204.9L805.33 205.4L805.05 205.9L804.76 206.4L804.47 206.9L804.19 207.4L803.91 207.9L803.64 208.4L803.36 208.9L803.09 209.4L802.81 209.9L802.54 210.4L802.27 210.9L802 211.4L801.73 211.9L801.46 212.4L801.2 212.9L800.94 213.4L800.68 213.9L800.42 214.4L800.16 214.9L799.91 215.4L799.66 215.9L799.42 216.4L799.17 216.9L798.92 217.4L798.67 217.9L798.42 218.4L798.17 218.9L797.93 219.4L797.69 219.9L797.47 220.4L797.26 220.9L797.07 221.4L796.9 221.9L796.75 222.4L796.61 222.9L796.48 223.4L796.35 223.9L796.23 224.4L796.12 224.9L796.02 225.4L795.92 225.9L795.82 226.4L795.73 226.9L795.65 227.4L795.56 227.9L795.48 228.4L795.41 228.9L795.33 229.4L795.26 229.9L795.19 230.4L795.13 230.9L795.07 231.4L795.01 231.9L794.96 232.4L794.91 232.9L794.86 233.4L794.82 233.9L794.78 234.4L794.74 234.9L794.7 235.4L794.66 235.9L794.62 236.4L794.59 236.9L794.55 237.4L794.52 237.9L794.49 238.4L794.46 238.9L794.43 239.4L794.39 239.9L794.36 240.4L794.33 240.9L794.3 241.4L794.26 241.9L794.23 242.4L794.2 242.9L794.17 243.4L794.14 243.9L794.11 244.4L794.09 244.9L794.07 245.4L794.04 245.9L794.02 246.4L794.01 246.9L793.99 247.4L793.98 247.9L793.97 248.4L793.97 248.9L793.96 249.4L793.96 249.9L793.96 250.4L793.95 250.9L793.95 251.4L793.94 251.9L793.94 252.4L793.93 252.9L793.93 253.4L793.93 253.9L793.92 254.4L793.92 254.9L793.92 255.4L793.91 255.9L793.91 256.4L793.91 256.9L793.9 257.4L793.9 257.9L793.89 258.4L793.89 258.9L793.89 259.4L793.89 259.9L793.88 260.4L793.88 260.9L793.88 261.4L793.87 261.9L793.87 262.4L793.87 262.9L793.86 263.4L793.86 263.9L793.86 264.4L793.86 264.9L793.85 265.4L793.85 265.9L793.85 266.4L793.85 266.9L793.84 267.4L793.84 267.9L793.84 268.4L793.84 268.9L793.83 269.4L793.83 269.9L793.83 270.4L793.83 270.9L793.83 271.4L793.82 271.9L793.82 272.4L793.82 272.9L793.82 273.4L793.82 273.9L793.81 274.4L793.81 274.9L793.81 275.4L793.81 275.9L793.81 276.4L793.81 276.9L793.8 277.4L793.8 277.9L793.8 278.4L793.8 278.9L793.8 279.4L793.8 279.9L793.79 280.4L793.79 280.9L793.79 281.4L793.79 281.9L793.79 282.4L793.79 282.9L793.79 283.4L793.79 283.5L790.85 283.5L790.85 283.4L790.85 282.9L790.85 282.4L790.85 281.9L790.85 281.4L790.85 280.9L790.85 280.4L790.84 279.9L790.84 279.4L790.84 278.9L790.84 278.4L790.84 277.9L790.84 277.4L790.83 276.9L790.83 276.4L790.83 275.9L790.83 275.4L790.83 274.9L790.83 274.4L790.82 273.9L790.82 273.4L790.82 272.9L790.82 272.4L790.82 271.9L790.81 271.4L790.81 270.9L790.81 270.4L790.81 269.9L790.81 269.4L790.8 268.9L790.8 268.4L790.8 267.9L790.8 267.4L790.79 266.9L790.79 266.4L790.79 265.9L790.79 265.4L790.78 264.9L790.78 264.4L790.78 263.9L790.78 263.4L790.77 262.9L790.77 262.4L790.77 261.9L790.76 261.4L790.76 260.9L790.76 260.4L790.75 259.9L790.75 259.4L790.75 258.9L790.75 258.4L790.74 257.9L790.74 257.4L790.73 256.9L790.73 256.4L790.73 255.9L790.72 255.4L790.72 254.9L790.72 254.4L790.71 253.9L790.71 253.4L790.71 252.9L790.7 252.4L790.7 251.9L790.69 251.4L790.69 250.9L790.68 250.4L790.68 249.9L790.68 249.4L790.67 248.9L790.67 248.4L790.66 247.9L790.65 247.4L790.63 246.9L790.62 246.4L790.6 245.9L790.57 245.4L790.55 244.9L790.53 244.4L790.5 243.9L790.47 243.4L790.44 242.9L790.41 242.4L790.38 241.9L790.34 241.4L790.31 240.9L790.28 240.4L790.25 239.9L790.21 239.4L790.18 238.9L790.15 238.4L790.12 237.9L790.09 237.4L790.05 236.9L790.02 236.4L789.98 235.9L789.94 235.4L789.9 234.9L789.86 234.4L789.82 233.9L789.78 233.4L789.73 232.9L789.68 232.4L789.63 231.9L789.57 231.4L789.51 230.9L789.45 230.4L789.38 229.9L789.31 229.4L789.23 228.9L789.16 228.4L789.08 227.9L788.99 227.4L788.91 226.9L788.82 226.4L788.72 225.9L788.62 225.4L788.52 224.9L788.41 224.4L788.29 223.9L788.16 223.4L788.03 222.9L787.89 222.4L787.74 221.9L787.57 221.4L787.38 220.9L787.17 220.4L786.95 219.9L786.71 219.4L786.47 218.9L786.22 218.4L785.97 217.9L785.72 217.4L785.47 216.9L785.22 216.4L784.98 215.9L784.73 215.4L784.48 214.9L784.22 214.4L783.96 213.9L783.7 213.4L783.44 212.9L783.18 212.4L782.91 211.9L782.64 211.4L782.37 210.9L782.1 210.4L781.83 209.9L781.55 209.4L781.28 208.9L781 208.4L780.73 207.9L780.45 207.4L780.17 206.9L779.88 206.4L779.59 205.9L779.31 205.4L779.02 204.9L778.73 204.4L778.44 203.9L778.15 203.4L777.85 202.9L777.56 202.4L777.27 201.9L776.98 201.4L776.69 200.9L776.39 200.4L776.1 199.9L775.8 199.4L775.5 198.9L775.19 198.4L774.88 197.9L774.58 197.4L774.27 196.9L773.97 196.4L773.67 195.9L773.37 195.4L773.08 194.9L772.79 194.4L772.51 193.9L772.24 193.4L771.97 192.9L771.71 192.4L771.45 191.9L771.18 191.4L770.91 190.9L770.65 190.4L770.38 189.9L770.12 189.4L769.88 188.9L769.64 188.4L769.42 187.9L769.21 187.4L769.02 186.9L768.86 186.4L768.72 185.9L768.6 185.4L768.49 184.9L768.38 184.4L768.28 183.9L768.18 183.4L768.1 182.9L768.02 182.4L767.96 181.9L767.91 181.4L767.88 180.9L767.88 180.4L767.92 179.9L767.97 179.4L768.04 178.9L768.11 178.4L768.2 177.9L768.3 177.4L768.4 176.9L768.51 176.4L768.62 175.9L768.74 175.4L768.89 174.9L769.06 174.4L769.24 173.9L769.45 173.4L769.68 172.9L769.91 172.4L770.16 171.9L770.42 171.4L770.69 170.9L770.95 170.4L771.23 169.9L771.5 169.4L771.76 168.9L772.03 168.4L772.3 167.9L772.59 167.4L772.88 166.9L773.18 166.4L773.48 165.9L773.8 165.4L774.11 164.9L774.43 164.4L774.76 163.9L775.09 163.4L775.42 162.9L775.75 162.4L776.08 161.9L776.41 161.4L776.74 160.9L777.07 160.4L777.42 159.9L777.78 159.4L778.14 158.9L778.51 158.4L778.88 157.9L779.25 157.4L779.6 156.9L779.94 156.4L780.26 155.9L780.55 155.4L780.82 154.9L781.06 154.4L781.29 153.9L781.5 153.4L781.7 152.9L781.89 152.4L782.09 151.9L782.28 151.4L782.49 150.9L782.7 150.4L782.92 149.9L783.14 149.4L783.36 148.9L783.58 148.4L783.8 147.9L784.03 147.4L784.25 146.9L784.47 146.4L784.68 145.9L784.89 145.4L785.09 144.9L785.29 144.4L785.48 143.9L785.67 143.4L785.86 142.9L786.05 142.4L786.24 141.9L786.42 141.4L786.6 140.9L786.78 140.4L786.95 139.9L787.13 139.4L787.3 138.9L787.46 138.4L787.63 137.9L787.79 137.4L787.95 136.9L788.1 136.4L788.26 135.9L788.41 135.4L788.55 134.9L788.69 134.4L788.82 133.9L788.95 133.4L789.08 132.9L789.21 132.4L789.33 131.9L789.44 131.4L789.54 130.9L789.62 130.4L789.68 129.9L789.72 129.4L789.76 128.9L789.8 128.4L789.83 127.9L789.86 127.4L789.88 126.9L789.91 126.4L789.93 125.9L789.95 125.4L789.96 124.9L789.98 124.4L790 123.9L790.01 123.4L790.03 122.9L790.04 122.4L790.06 121.9L790.07 121.4L790.08 120.9L790.1 120.4L790.11 119.9L790.12 119.4L790.13 118.9L790.14 118.4L790.15 117.9L790.15 117.4L790.16 116.9L790.16 116.4L790.17 115.9L790.17 115.4L790.17 114.9L790.18 114.4L790.18 113.9L790.18 113.4L790.19 112.9L790.19 112.4L790.19 111.9L790.19 111.4L790.2 110.9L790.2 110.4L790.2 109.9L790.2 109.4L790.21 108.9L790.21 108.4L790.21 107.9L790.21 107.4L790.22 106.9L790.22 106.4L790.22 105.9L790.22 105.4L790.23 104.9L790.23 104.4L790.23 103.9L790.23 103.4L790.24 102.9L790.24 102.4L790.24 101.9L790.24 101.4L790.24 100.9L790.25 100.4L790.25 99.9L790.25 99.4L790.25 98.9L790.25 98.4L790.26 97.9L790.26 97.4L790.26 96.9L790.26 96.4L790.26 95.9L790.26 95.4L790.27 94.9L790.27 94.4L790.27 93.9L790.27 93.4L790.27 92.9L790.27 92.4L790.28 91.9L790.28 91.4L790.28 90.9L790.28 90.4L790.28 89.9L790.28 89.4L790.28 88.9L790.29 88.4L790.29 87.9L790.29 87.4L790.29 86.9L790.29 86.4L790.29 85.9L790.29 85.4L790.29 84.9L790.3 84.4L790.3 83.9L790.3 83.4L790.3 82.9L790.3 82.4L790.3 81.9L790.3 81.4L790.3 80.9L790.3 80.4L790.3 79.9L790.3 79.4Z" fill="#5573cd" stroke="#4d4d4d" stroke-width="5.2" stroke-linejoin="round"/>
<rect x="131.18" y="169.6" width="5.4" height="24.4" fill="#4d4d4d"/>
<rect x="126.23" y="171.7" width="15.3" height="20.2" fill="#4d4d4d"/>
<rect x="179.95" y="168" width="5.4" height="28" fill="#4d4d4d"/>
<rect x="175" y="172" width="15.3" height="19.6" fill="#4d4d4d"/>
<rect x="253.11" y="166" width="5.4" height="32" fill="#4d4d4d"/>
<rect x="248.16" y="172" width="15.3" height="19.6" fill="#4d4d4d"/>
<rect x="301.89" y="167" width="5.4" height="30" fill="#4d4d4d"/>
<rect x="296.94" y="172" width="15.3" height="19.6" fill="#4d4d4d"/>
<rect x="375.05" y="168.6" width="5.4" height="27.6" fill="#4d4d4d"/>
<rect x="370.1" y="172" width="15.3" height="19.6" fill="#4d4d4d"/>
<rect x="423.82" y="166" width="5.4" height="32" fill="#4d4d4d"/>
<rect x="418.87" y="172" width="15.3" height="19.6" fill="#4d4d4d"/>
<rect x="496.98" y="163.9" width="5.4" height="35.4" fill="#4d4d4d"/>
<rect x="492.93" y="171.8" width="13.5" height="19.4" fill="#4d4d4d"/>
<rect x="545.75" y="169.3" width="5.4" height="24.3" fill="#4d4d4d"/>
<rect x="540.8" y="172.3" width="15.3" height="19.5" fill="#4d4d4d"/>
<rect x="618.91" y="156" width="5.4" height="49.8" fill="#4d4d4d"/>
<rect x="613.96" y="168.6" width="15.3" height="25.2" fill="#4d4d4d"/>
<rect x="667.69" y="166.9" width="5.4" height="28.6" fill="#4d4d4d"/>
<rect x="662.74" y="171" width="15.3" height="20.4" fill="#4d4d4d"/>
<rect x="740.85" y="131.3" width="5.4" height="92.6" fill="#4d4d4d"/>
<rect x="735.9" y="160.2" width="15.3" height="36" fill="#4d4d4d"/>
<rect x="789.62" y="163" width="5.4" height="36.7" fill="#4d4d4d"/>
<rect x="784.67" y="169.8" width="15.3" height="23.2" fill="#4d4d4d"/>
<circle cx="133.88" cy="181.8" r="3.3" fill="#fff"/>
<circle cx="182.65" cy="181.8" r="3.3" fill="#fff"/>
<circle cx="255.81" cy="181.8" r="3.3" fill="#fff"/>
<circle cx="304.59" cy="181.8" r="3.3" fill="#fff"/>
<circle cx="377.75" cy="181.8" r="3.3" fill="#fff"/>
<circle cx="426.52" cy="181.8" r="3.3" fill="#fff"/>
<circle cx="499.68" cy="181.8" r="3.3" fill="#fff"/>
<circle cx="548.45" cy="181.8" r="3.3" fill="#fff"/>
<circle cx="621.61" cy="181.8" r="3.3" fill="#fff"/>
<circle cx="670.39" cy="181.8" r="3.3" fill="#fff"/>
<circle cx="743.55" cy="181.8" r="3.3" fill="#fff"/>
<circle cx="792.32" cy="181.8" r="3.3" fill="#fff"/>
</g>
<g clip-path="url(#c1)">
<path d="M133.88 336.5L133.88 372L133.89 372.5L133.9 373L133.91 373.5L133.93 374L133.95 374.5L133.97 375L134 375.5L134.02 376L134.05 376.5L134.08 377L134.11 377.5L134.15 378L134.19 378.5L134.24 379L134.29 379.5L134.35 380L134.41 380.5L134.48 381L134.55 381.5L134.63 382L134.72 382.5L134.82 383L134.94 383.5L135.08 384L135.25 384.5L135.46 385L135.73 385.5L136.08 386L136.63 386.5L137.47 387L138.71 387.5L140.6 388L142.61 388.5L144.84 389L146.88 389.5L148.6 390L150.15 390.5L151.48 391L152.65 391.5L153.69 392L154.48 392.5L155.08 393L155.57 393.5L155.88 394L155.57 394.5L155.08 395L154.48 395.5L153.69 396L152.65 396.5L151.48 397L150.15 397.5L148.6 398L146.88 398.5L144.84 399L142.61 399.5L140.6 400L138.71 400.5L137.47 401L136.63 401.5L136.08 402L135.73 402.5L135.46 403L135.25 403.5L135.08 404L134.94 404.5L134.82 405L134.72 405.5L134.63 406L134.55 406.5L134.48 407L134.41 407.5L134.35 408L134.29 408.5L134.24 409L134.19 409.5L134.15 410L134.11 410.5L134.08 411L134.05 411.5L134.02 412L134 412.5L133.97 413L133.95 413.5L133.93 414L133.91 414.5L133.9 415L133.89 415.5L133.88 416L133.88 499.8L133.88 499.8L133.88 416L133.87 415.5L133.86 415L133.85 414.5L133.83 414L133.81 413.5L133.79 413L133.76 412.5L133.74 412L133.71 411.5L133.68 411L133.65 410.5L133.61 410L133.57 409.5L133.52 409L133.47 408.5L133.41 408L133.35 407.5L133.28 407L133.21 406.5L133.13 406L133.04 405.5L132.94 405L132.82 404.5L132.68 404L132.51 403.5L132.3 403L132.03 402.5L131.68 402L131.13 401.5L130.29 401L129.05 400.5L127.16 400L125.15 399.5L122.92 399L120.88 398.5L119.16 398L117.61 397.5L116.28 397L115.11 396.5L114.07 396L113.28 395.5L112.68 395L112.19 394.5L111.88 394L112.19 393.5L112.68 393L113.28 392.5L114.07 392L115.11 391.5L116.28 391L117.61 390.5L119.16 390L120.88 389.5L122.92 389L125.15 388.5L127.16 388L129.05 387.5L130.29 387L131.13 386.5L131.68 386L132.03 385.5L132.3 385L132.51 384.5L132.68 384L132.82 383.5L132.94 383L133.04 382.5L133.13 382L133.21 381.5L133.28 381L133.35 380.5L133.41 380L133.47 379.5L133.52 379L133.57 378.5L133.61 378L133.65 377.5L133.68 377L133.71 376.5L133.74 376L133.76 375.5L133.79 375L133.81 374.5L133.83 374L133.85 373.5L133.86 373L133.87 372.5L133.88 372L133.88 336.5Z" fill="#df8920" stroke="#000" stroke-width="2.1" stroke-linejoin="round"/>
<path d="M182.8 360.5L182.8 378L182.81 378.5L182.83 379L182.86 379.5L182.92 380L182.99 380.5L183.06 381L183.14 381.5L183.24 382L183.37 382.5L183.52 383L183.71 383.5L183.92 384L184.15 384.5L184.42 385L184.78 385.5L185.24 386L185.79 386.5L186.41 387L187.09 387.5L187.95 388L188.97 388.5L190.1 389L191.31 389.5L192.59 390L194.07 390.5L195.67 391L197.31 391.5L198.9 392L200.4 392.5L201.98 393L203.55 393.5L204.93 394L205.96 394.5L206.57 395L206.66 395.5L206.1 396L205.17 396.5L203.85 397L202.3 397.5L200.71 398L199.21 398.5L197.64 399L196 399.5L194.38 400L192.87 400.5L191.56 401L190.34 401.5L189.19 402L188.14 402.5L187.25 403L186.54 403.5L185.91 404L185.35 404.5L184.87 405L184.48 405.5L184.2 406L183.96 406.5L183.75 407L183.56 407.5L183.4 408L183.26 408.5L183.15 409L183.07 409.5L183 410L182.93 410.5L182.87 411L182.83 411.5L182.81 412L182.8 412.5L182.8 499.8L182.5 499.8L182.5 412.5L182.5 412L182.47 411.5L182.43 411L182.37 410.5L182.31 410L182.23 409.5L182.15 409L182.05 408.5L181.91 408L181.75 407.5L181.56 407L181.35 406.5L181.11 406L180.82 405.5L180.44 405L179.96 404.5L179.4 404L178.77 403.5L178.06 403L177.17 402.5L176.12 402L174.97 401.5L173.75 401L172.43 400.5L170.93 400L169.31 399.5L167.67 399L166.1 398.5L164.6 398L163.01 397.5L161.46 397L160.14 396.5L159.2 396L158.65 395.5L158.74 395L159.35 394.5L160.37 394L161.76 393.5L163.33 393L164.91 392.5L166.4 392L168 391.5L169.64 391L171.24 390.5L172.72 390L174 389.5L175.21 389L176.34 388.5L177.36 388L178.22 387.5L178.9 387L179.52 386.5L180.06 386L180.53 385.5L180.89 385L181.16 384.5L181.39 384L181.6 383.5L181.78 383L181.94 382.5L182.07 382L182.17 381.5L182.25 381L182.32 380.5L182.39 380L182.44 379.5L182.48 379L182.5 378.5L182.5 378L182.5 360.5Z" fill="#5573cd" stroke="#4d4d4d" stroke-width="5.2" stroke-linejoin="round"/>
<path d="M255.96 295.5L255.96 370L255.96 370.5L255.97 371L255.99 371.5L256.01 372L256.04 372.5L256.07 373L256.11 373.5L256.15 374L256.2 374.5L256.24 375L256.3 375.5L256.36 376L256.45 376.5L256.55 377L256.67 377.5L256.8 378L256.94 378.5L257.1 379L257.27 379.5L257.49 380L257.75 380.5L258.05 381L258.39 381.5L258.76 382L259.16 382.5L259.64 383L260.23 383.5L260.89 384L261.61 384.5L262.34 385L263.05 385.5L263.73 386L264.41 386.5L265.09 387L265.78 387.5L266.47 388L267.17 388.5L267.86 389L268.56 389.5L269.26 390L269.95 390.5L270.65 391L271.44 391.5L272.26 392L273.05 392.5L273.73 393L274.23 393.5L274.5 394L274.46 394.5L274.15 395L273.61 395.5L272.9 396L272.1 396.5L271.27 397L270.5 397.5L269.81 398L269.12 398.5L268.42 399L267.72 399.5L267.03 400L266.33 400.5L265.64 401L264.95 401.5L264.27 402L263.6 402.5L262.91 403L262.19 403.5L261.46 404L260.75 404.5L260.1 405L259.54 405.5L259.08 406L258.69 406.5L258.32 407L257.99 407.5L257.7 408L257.44 408.5L257.23 409L257.07 409.5L256.91 410L256.77 410.5L256.64 411L256.53 411.5L256.43 412L256.35 412.5L256.28 413L256.23 413.5L256.19 414L256.14 414.5L256.1 415L256.07 415.5L256.03 416L256.01 416.5L255.99 417L255.97 417.5L255.96 418L255.96 418.5L255.96 499.8L255.66 499.8L255.66 418.5L255.66 418L255.66 417.5L255.64 417L255.62 416.5L255.59 416L255.56 415.5L255.52 415L255.48 414.5L255.44 414L255.39 413.5L255.34 413L255.28 412.5L255.2 412L255.1 411.5L254.98 411L254.86 410.5L254.72 410L254.56 409.5L254.39 409L254.18 408.5L253.93 408L253.64 407.5L253.3 407L252.94 406.5L252.55 406L252.09 405.5L251.52 405L250.87 404.5L250.17 404L249.44 403.5L248.72 403L248.03 402.5L247.35 402L246.67 401.5L245.99 401L245.29 400.5L244.6 400L243.9 399.5L243.21 399L242.51 398.5L241.82 398L241.12 397.5L240.35 397L239.53 396.5L238.73 396L238.02 395.5L237.48 395L237.17 394.5L237.13 394L237.4 393.5L237.89 393L238.58 392.5L239.37 392L240.19 391.5L240.98 391L241.68 390.5L242.37 390L243.07 389.5L243.76 389L244.46 388.5L245.16 388L245.85 387.5L246.54 387L247.22 386.5L247.9 386L248.57 385.5L249.29 385L250.02 384.5L250.73 384L251.4 383.5L251.99 383L252.46 382.5L252.86 382L253.23 381.5L253.57 381L253.87 380.5L254.14 380L254.35 379.5L254.53 379L254.69 378.5L254.83 378L254.96 377.5L255.08 377L255.18 376.5L255.26 376L255.33 375.5L255.38 375L255.43 374.5L255.47 374L255.52 373.5L255.55 373L255.59 372.5L255.61 372L255.64 371.5L255.65 371L255.66 370.5L255.66 370L255.66 295.5Z" fill="#df8920" stroke="#4d4d4d" stroke-width="5.2" stroke-linejoin="round"/>
<path d="M304.74 295.5L304.74 376L304.74 376.5L304.74 377L304.76 377.5L304.78 378L304.81 378.5L304.84 379L304.87 379.5L304.91 380L304.96 380.5L305.02 381L305.1 381.5L305.21 382L305.34 382.5L305.48 383L305.65 383.5L305.82 384L306.02 384.5L306.25 385L306.55 385.5L306.92 386L307.38 386.5L307.94 387L308.93 387.5L310.4 388L311.96 388.5L313.43 389L314.95 389.5L316.52 390L318.12 390.5L319.73 391L321.33 391.5L322.89 392L324.42 392.5L326.21 393L327.88 393.5L328.74 394L328.91 394.5L329.02 395L329.03 395.5L328.94 396L328.78 396.5L328.14 397L326.57 397.5L324.75 398L323.2 398.5L321.64 399L320.05 399.5L318.45 400L316.84 400.5L315.26 401L313.73 401.5L312.25 402L310.72 402.5L309.19 403L308.08 403.5L307.48 404L307.01 404.5L306.62 405L306.31 405.5L306.06 406L305.86 406.5L305.68 407L305.51 407.5L305.37 408L305.24 408.5L305.12 409L305.03 409.5L304.97 410L304.92 410.5L304.88 411L304.84 411.5L304.81 412L304.78 412.5L304.76 413L304.75 413.5L304.74 414L304.74 414.5L304.74 499.8L304.44 499.8L304.44 414.5L304.44 414L304.43 413.5L304.41 413L304.39 412.5L304.36 412L304.33 411.5L304.29 411L304.25 410.5L304.21 410L304.14 409.5L304.05 409L303.94 408.5L303.81 408L303.66 407.5L303.49 407L303.31 406.5L303.11 406L302.87 405.5L302.55 405L302.17 404.5L301.69 404L301.1 403.5L299.98 403L298.45 402.5L296.92 402L295.45 401.5L293.91 401L292.33 400.5L290.73 400L289.12 399.5L287.53 399L285.97 398.5L284.42 398L282.6 397.5L281.03 397L280.4 396.5L280.23 396L280.14 395.5L280.16 395L280.26 394.5L280.44 394L281.29 393.5L282.97 393L284.76 392.5L286.28 392L287.85 391.5L289.44 391L291.05 390.5L292.65 390L294.22 389.5L295.75 389L297.21 388.5L298.77 388L300.25 387.5L301.24 387L301.79 386.5L302.25 386L302.62 385.5L302.92 385L303.16 384.5L303.35 384L303.53 383.5L303.69 383L303.84 382.5L303.96 382L304.07 381.5L304.15 381L304.22 380.5L304.26 380L304.3 379.5L304.34 379L304.37 378.5L304.39 378L304.41 377.5L304.43 377L304.44 376.5L304.44 376L304.44 295.5Z" fill="#5573cd" stroke="#4d4d4d" stroke-width="5.2" stroke-linejoin="round"/>
<path d="M377.9 295.5L377.9 354L377.9 354.5L377.91 355L377.92 355.5L377.94 356L377.96 356.5L377.98 357L378.01 357.5L378.04 358L378.08 358.5L378.12 359L378.16 359.5L378.2 360L378.24 360.5L378.29 361L378.33 361.5L378.38 362L378.43 362.5L378.48 363L378.54 363.5L378.61 364L378.68 364.5L378.76 365L378.85 365.5L378.94 366L379.03 366.5L379.14 367L379.24 367.5L379.35 368L379.47 368.5L379.6 369L379.74 369.5L379.9 370L380.07 370.5L380.25 371L380.44 371.5L380.65 372L380.85 372.5L381.07 373L381.32 373.5L381.57 374L381.85 374.5L382.14 375L382.44 375.5L382.75 376L383.07 376.5L383.4 377L383.73 377.5L384.06 378L384.4 378.5L384.76 379L385.14 379.5L385.53 380L385.92 380.5L386.32 381L386.7 381.5L387.06 382L387.4 382.5L387.74 383L388.08 383.5L388.41 384L388.73 384.5L389.04 385L389.33 385.5L389.6 386L389.84 386.5L390.08 387L390.32 387.5L390.55 388L390.76 388.5L390.95 389L391.11 389.5L391.25 390L391.36 390.5L391.47 391L391.57 391.5L391.66 392L391.74 392.5L391.81 393L391.86 393.5L391.89 394L391.89 394.5L391.85 395L391.8 395.5L391.73 396L391.64 396.5L391.55 397L391.45 397.5L391.34 398L391.23 398.5L391.08 399L390.91 399.5L390.71 400L390.5 400.5L390.27 401L390.04 401.5L389.79 402L389.55 402.5L389.27 403L388.98 403.5L388.67 404L388.35 404.5L388.01 405L387.68 405.5L387.33 406L386.99 406.5L386.62 407L386.24 407.5L385.85 408L385.45 408.5L385.06 409L384.69 409.5L384.33 410L384 410.5L383.67 411L383.34 411.5L383.01 412L382.69 412.5L382.38 413L382.08 413.5L381.79 414L381.52 414.5L381.27 415L381.03 415.5L380.81 416L380.6 416.5L380.41 417L380.22 417.5L380.04 418L379.87 418.5L379.71 419L379.57 419.5L379.44 420L379.33 420.5L379.22 421L379.11 421.5L379.01 422L378.92 422.5L378.83 423L378.75 423.5L378.67 424L378.59 424.5L378.53 425L378.47 425.5L378.42 426L378.37 426.5L378.32 427L378.28 427.5L378.23 428L378.19 428.5L378.15 429L378.11 429.5L378.07 430L378.04 430.5L378 431L377.98 431.5L377.95 432L377.93 432.5L377.92 433L377.9 433.5L377.9 434L377.9 434.5L377.9 499.8L377.6 499.8L377.6 434.5L377.6 434L377.59 433.5L377.58 433L377.56 432.5L377.54 432L377.52 431.5L377.49 431L377.46 430.5L377.42 430L377.39 429.5L377.35 429L377.3 428.5L377.26 428L377.22 427.5L377.17 427L377.12 426.5L377.08 426L377.02 425.5L376.97 425L376.9 424.5L376.83 424L376.75 423.5L376.66 423L376.57 422.5L376.48 422L376.38 421.5L376.27 421L376.16 420.5L376.05 420L375.92 419.5L375.78 419L375.62 418.5L375.46 418L375.28 417.5L375.09 417L374.89 416.5L374.68 416L374.46 415.5L374.23 415L373.97 414.5L373.7 414L373.41 413.5L373.11 413L372.8 412.5L372.48 412L372.16 411.5L371.83 411L371.5 410.5L371.16 410L370.81 409.5L370.43 409L370.04 408.5L369.65 408L369.26 407.5L368.87 407L368.51 406.5L368.16 406L367.82 405.5L367.48 405L367.15 404.5L366.82 404L366.51 403.5L366.22 403L365.95 402.5L365.7 402L365.46 401.5L365.22 401L364.99 400.5L364.78 400L364.58 399.5L364.41 399L364.27 398.5L364.15 398L364.05 397.5L363.95 397L363.85 396.5L363.77 396L363.7 395.5L363.64 395L363.61 394.5L363.6 394L363.64 393.5L363.69 393L363.75 392.5L363.83 392L363.93 391.5L364.03 391L364.13 390.5L364.24 390L364.38 389.5L364.55 389L364.74 388.5L364.95 388L365.17 387.5L365.41 387L365.65 386.5L365.9 386L366.16 385.5L366.45 385L366.76 384.5L367.08 384L367.41 383.5L367.75 383L368.09 382.5L368.44 382L368.8 381.5L369.18 381L369.57 380.5L369.96 380L370.35 379.5L370.73 379L371.09 378.5L371.43 378L371.76 377.5L372.09 377L372.42 376.5L372.74 376L373.05 375.5L373.35 375L373.64 374.5L373.92 374L374.18 373.5L374.42 373L374.64 372.5L374.85 372L375.05 371.5L375.24 371L375.42 370.5L375.59 370L375.75 369.5L375.89 369L376.03 368.5L376.14 368L376.25 367.5L376.36 367L376.46 366.5L376.56 366L376.65 365.5L376.73 365L376.81 364.5L376.88 364L376.95 363.5L377.01 363L377.07 362.5L377.12 362L377.16 361.5L377.21 361L377.25 360.5L377.3 360L377.34 359.5L377.38 359L377.42 358.5L377.45 358L377.48 357.5L377.51 357L377.54 356.5L377.56 356L377.58 355.5L377.59 355L377.59 354.5L377.6 354L377.6 295.5Z" fill="#df8920" stroke="#4d4d4d" stroke-width="5.2" stroke-linejoin="round"/>
<path d="M426.67 295.5L426.67 367L426.67 367.5L426.68 368L426.69 368.5L426.71 369L426.74 369.5L426.77 370L426.81 370.5L426.85 371L426.9 371.5L426.94 372L426.99 372.5L427.05 373L427.13 373.5L427.22 374L427.33 374.5L427.45 375L427.58 375.5L427.72 376L427.88 376.5L428.04 377L428.22 377.5L428.44 378L428.69 378.5L428.97 379L429.29 379.5L429.64 380L430.04 380.5L430.59 381L431.26 381.5L432.01 382L432.81 382.5L433.61 383L434.37 383.5L435.1 384L435.84 384.5L436.58 385L437.34 385.5L438.1 386L438.86 386.5L439.63 387L440.4 387.5L441.17 388L441.93 388.5L442.7 389L443.46 389.5L444.22 390L444.97 390.5L445.71 391L446.45 391.5L447.17 392L447.96 392.5L448.81 393L449.58 393.5L450.17 394L450.46 394.5L450.63 395L450.65 395.5L450.5 396L450.25 396.5L449.72 397L448.97 397.5L448.13 398L447.32 398.5L446.59 399L445.86 399.5L445.12 400L444.37 400.5L443.61 401L442.85 401.5L442.09 402L441.32 402.5L440.55 403L439.78 403.5L439.02 404L438.25 404.5L437.49 405L436.73 405.5L435.99 406L435.25 406.5L434.51 407L433.77 407.5L432.97 408L432.17 408.5L431.4 409L430.71 409.5L430.14 410L429.72 410.5L429.36 411L429.03 411.5L428.74 412L428.49 412.5L428.26 413L428.07 413.5L427.91 414L427.75 414.5L427.61 415L427.48 415.5L427.35 416L427.25 416.5L427.15 417L427.07 417.5L427 418L426.95 418.5L426.9 419L426.86 419.5L426.82 420L426.78 420.5L426.75 421L426.72 421.5L426.7 422L426.68 422.5L426.67 423L426.67 423.5L426.67 499.8L426.37 499.8L426.37 423.5L426.37 423L426.36 422.5L426.34 422L426.32 421.5L426.29 421L426.26 420.5L426.22 420L426.18 419.5L426.14 419L426.09 418.5L426.04 418L425.97 417.5L425.89 417L425.79 416.5L425.69 416L425.56 415.5L425.43 415L425.29 414.5L425.13 414L424.97 413.5L424.78 413L424.55 412.5L424.3 412L424.01 411.5L423.68 411L423.32 410.5L422.9 410L422.33 409.5L421.64 409L420.87 408.5L420.07 408L419.27 407.5L418.53 407L417.79 406.5L417.05 406L416.31 405.5L415.55 405L414.79 404.5L414.02 404L413.26 403.5L412.49 403L411.72 402.5L410.95 402L410.19 401.5L409.43 401L408.67 400.5L407.92 400L407.18 399.5L406.45 399L405.72 398.5L404.91 398L404.07 397.5L403.32 397L402.79 396.5L402.54 396L402.39 395.5L402.41 395L402.58 394.5L402.87 394L403.46 393.5L404.23 393L405.08 392.5L405.87 392L406.59 391.5L407.33 391L408.07 390.5L408.82 390L409.58 389.5L410.34 389L411.11 388.5L411.87 388L412.64 387.5L413.41 387L414.18 386.5L414.94 386L415.7 385.5L416.46 385L417.2 384.5L417.94 384L418.67 383.5L419.43 383L420.23 382.5L421.03 382L421.78 381.5L422.45 381L423 380.5L423.4 380L423.75 379.5L424.07 379L424.35 378.5L424.6 378L424.82 377.5L425 377L425.16 376.5L425.32 376L425.46 375.5L425.59 375L425.71 374.5L425.82 374L425.91 373.5L425.99 373L426.05 372.5L426.1 372L426.14 371.5L426.19 371L426.23 370.5L426.27 370L426.3 369.5L426.33 369L426.35 368.5L426.36 368L426.37 367.5L426.37 367L426.37 295.5Z" fill="#5573cd" stroke="#4d4d4d" stroke-width="5.2" stroke-linejoin="round"/>
<path d="M499.83 295.5L499.83 332L499.84 332.5L499.85 333L499.86 333.5L499.88 334L499.89 334.5L499.91 335L499.93 335.5L499.96 336L499.98 336.5L500 337L500.03 337.5L500.06 338L500.09 338.5L500.12 339L500.15 339.5L500.18 340L500.21 340.5L500.25 341L500.28 341.5L500.32 342L500.35 342.5L500.39 343L500.43 343.5L500.47 344L500.51 344.5L500.56 345L500.61 345.5L500.66 346L500.71 346.5L500.77 347L500.83 347.5L500.89 348L500.95 348.5L501.02 349L501.08 349.5L501.15 350L501.23 350.5L501.3 351L501.38 351.5L501.46 352L501.56 352.5L501.66 353L501.77 353.5L501.89 354L502.01 354.5L502.14 355L502.26 355.5L502.39 356L502.52 356.5L502.65 357L502.78 357.5L502.91 358L503.03 358.5L503.16 359L503.29 359.5L503.42 360L503.56 360.5L503.69 361L503.83 361.5L503.97 362L504.11 362.5L504.26 363L504.41 363.5L504.57 364L504.73 364.5L504.89 365L505.06 365.5L505.24 366L505.42 366.5L505.6 367L505.79 367.5L505.98 368L506.17 368.5L506.36 369L506.56 369.5L506.75 370L506.95 370.5L507.15 371L507.35 371.5L507.56 372L507.77 372.5L507.98 373L508.19 373.5L508.4 374L508.61 374.5L508.82 375L509.04 375.5L509.25 376L509.46 376.5L509.67 377L509.88 377.5L510.1 378L510.31 378.5L510.53 379L510.74 379.5L510.95 380L511.16 380.5L511.37 381L511.56 381.5L511.76 382L511.94 382.5L512.14 383L512.33 383.5L512.53 384L512.73 384.5L512.92 385L513.1 385.5L513.27 386L513.43 386.5L513.57 387L513.7 387.5L513.8 388L513.88 388.5L513.95 389L514.03 389.5L514.1 390L514.16 390.5L514.22 391L514.28 391.5L514.33 392L514.37 392.5L514.4 393L514.42 393.5L514.43 394L514.43 394.5L514.42 395L514.39 395.5L514.36 396L514.32 396.5L514.27 397L514.21 397.5L514.15 398L514.08 398.5L514.01 399L513.94 399.5L513.86 400L513.78 400.5L513.67 401L513.55 401.5L513.4 402L513.24 402.5L513.07 403L512.88 403.5L512.69 404L512.49 404.5L512.29 405L512.1 405.5L511.9 406L511.72 406.5L511.52 407L511.33 407.5L511.12 408L510.91 408.5L510.7 409L510.49 409.5L510.27 410L510.05 410.5L509.84 411L509.63 411.5L509.41 412L509.2 412.5L508.99 413L508.78 413.5L508.57 414L508.36 414.5L508.14 415L507.93 415.5L507.72 416L507.52 416.5L507.31 417L507.11 417.5L506.91 418L506.71 418.5L506.52 419L506.32 419.5L506.13 420L505.94 420.5L505.75 421L505.56 421.5L505.38 422L505.2 422.5L505.03 423L504.86 423.5L504.69 424L504.54 424.5L504.38 425L504.23 425.5L504.09 426L503.94 426.5L503.8 427L503.66 427.5L503.53 428L503.4 428.5L503.26 429L503.14 429.5L503.01 430L502.88 430.5L502.75 431L502.63 431.5L502.5 432L502.37 432.5L502.24 433L502.11 433.5L501.99 434L501.87 434.5L501.75 435L501.64 435.5L501.54 436L501.45 436.5L501.36 437L501.28 437.5L501.21 438L501.14 438.5L501.07 439L501 439.5L500.94 440L500.88 440.5L500.82 441L500.76 441.5L500.7 442L500.65 442.5L500.6 443L500.55 443.5L500.51 444L500.46 444.5L500.42 445L500.38 445.5L500.34 446L500.31 446.5L500.27 447L500.24 447.5L500.21 448L500.18 448.5L500.14 449L500.11 449.5L500.08 450L500.05 450.5L500.03 451L500 451.5L499.97 452L499.95 452.5L499.93 453L499.91 453.5L499.89 454L499.87 454.5L499.86 455L499.84 455.5L499.83 456L499.83 456.5L499.83 499.8L499.53 499.8L499.53 456.5L499.53 456L499.52 455.5L499.5 455L499.49 454.5L499.47 454L499.45 453.5L499.43 453L499.41 452.5L499.39 452L499.36 451.5L499.33 451L499.31 450.5L499.28 450L499.25 449.5L499.22 449L499.18 448.5L499.15 448L499.12 447.5L499.09 447L499.05 446.5L499.02 446L498.98 445.5L498.94 445L498.9 444.5L498.85 444L498.81 443.5L498.76 443L498.71 442.5L498.66 442L498.6 441.5L498.54 441L498.48 440.5L498.42 440L498.36 439.5L498.29 439L498.22 438.5L498.15 438L498.08 437.5L498 437L497.91 436.5L497.82 436L497.72 435.5L497.61 435L497.49 434.5L497.37 434L497.25 433.5L497.12 433L496.99 432.5L496.86 432L496.73 431.5L496.61 431L496.48 430.5L496.35 430L496.22 429.5L496.1 429L495.96 428.5L495.83 428L495.7 427.5L495.56 427L495.42 426.5L495.27 426L495.13 425.5L494.98 425L494.82 424.5L494.67 424L494.5 423.5L494.33 423L494.16 422.5L493.98 422L493.8 421.5L493.61 421L493.42 420.5L493.23 420L493.04 419.5L492.84 419L492.65 418.5L492.45 418L492.25 417.5L492.05 417L491.84 416.5L491.64 416L491.43 415.5L491.22 415L491 414.5L490.79 414L490.58 413.5L490.37 413L490.16 412.5L489.95 412L489.73 411.5L489.52 411L489.31 410.5L489.09 410L488.87 409.5L488.66 409L488.45 408.5L488.24 408L488.03 407.5L487.84 407L487.64 406.5L487.46 406L487.26 405.5L487.07 405L486.87 404.5L486.67 404L486.48 403.5L486.29 403L486.12 402.5L485.96 402L485.81 401.5L485.69 401L485.58 400.5L485.5 400L485.42 399.5L485.35 399L485.28 398.5L485.21 398L485.15 397.5L485.09 397L485.04 396.5L485 396L484.97 395.5L484.94 395L484.93 394.5L484.93 394L484.94 393.5L484.96 393L484.99 392.5L485.03 392L485.08 391.5L485.14 391L485.2 390.5L485.26 390L485.33 389.5L485.41 389L485.48 388.5L485.56 388L485.66 387.5L485.79 387L485.93 386.5L486.09 386L486.26 385.5L486.44 385L486.63 384.5L486.83 384L487.03 383.5L487.22 383L487.42 382.5L487.6 382L487.8 381.5L487.99 381L488.2 380.5L488.41 380L488.62 379.5L488.83 379L489.05 378.5L489.26 378L489.48 377.5L489.69 377L489.9 376.5L490.11 376L490.32 375.5L490.54 375L490.75 374.5L490.96 374L491.17 373.5L491.38 373L491.59 372.5L491.8 372L492.01 371.5L492.21 371L492.41 370.5L492.61 370L492.8 369.5L493 369L493.19 368.5L493.38 368L493.57 367.5L493.76 367L493.94 366.5L494.12 366L494.3 365.5L494.47 365L494.63 364.5L494.79 364L494.95 363.5L495.1 363L495.25 362.5L495.39 362L495.53 361.5L495.67 361L495.8 360.5L495.94 360L496.07 359.5L496.2 359L496.33 358.5L496.45 358L496.58 357.5L496.71 357L496.84 356.5L496.97 356L497.1 355.5L497.22 355L497.35 354.5L497.47 354L497.59 353.5L497.7 353L497.8 352.5L497.9 352L497.98 351.5L498.06 351L498.13 350.5L498.21 350L498.28 349.5L498.34 349L498.41 348.5L498.47 348L498.53 347.5L498.59 347L498.65 346.5L498.7 346L498.75 345.5L498.8 345L498.85 344.5L498.89 344L498.93 343.5L498.97 343L499.01 342.5L499.04 342L499.08 341.5L499.11 341L499.15 340.5L499.18 340L499.21 339.5L499.24 339L499.27 338.5L499.3 338L499.33 337.5L499.36 337L499.38 336.5L499.4 336L499.43 335.5L499.45 335L499.47 334.5L499.48 334L499.5 333.5L499.51 333L499.52 332.5L499.53 332L499.53 295.5Z" fill="#df8920" stroke="#4d4d4d" stroke-width="5.2" stroke-linejoin="round"/>
<path d="M548.6 295.5L548.6 345.5L548.6 346L548.6 346.5L548.61 347L548.61 347.5L548.62 348L548.62 348.5L548.63 349L548.64 349.5L548.64 350L548.65 350.5L548.66 351L548.67 351.5L548.69 352L548.7 352.5L548.71 353L548.73 353.5L548.76 354L548.79 354.5L548.83 355L548.88 355.5L548.93 356L548.98 356.5L549.04 357L549.1 357.5L549.17 358L549.23 358.5L549.3 359L549.37 359.5L549.45 360L549.54 360.5L549.63 361L549.74 361.5L549.86 362L549.99 362.5L550.12 363L550.26 363.5L550.4 364L550.54 364.5L550.7 365L550.86 365.5L551.04 366L551.23 366.5L551.42 367L551.62 367.5L551.82 368L552.02 368.5L552.22 369L552.41 369.5L552.61 370L552.82 370.5L553.05 371L553.3 371.5L553.57 372L553.89 372.5L554.23 373L554.6 373.5L555 374L555.41 374.5L555.84 375L556.28 375.5L556.73 376L557.18 376.5L557.67 377L558.19 377.5L558.73 378L559.3 378.5L559.88 379L560.47 379.5L561.05 380L561.64 380.5L562.21 381L562.76 381.5L563.3 382L563.8 382.5L564.26 383L564.68 383.5L565.08 384L565.45 384.5L565.81 385L566.16 385.5L566.49 386L566.81 386.5L567.12 387L567.44 387.5L567.74 388L568.05 388.5L568.36 389L568.68 389.5L569 390L569.32 390.5L569.64 391L569.97 391.5L570.29 392L570.61 392.5L570.92 393L571.22 393.5L571.51 394L571.79 394.5L572.06 395L572.31 395.5L572.26 396L572.01 396.5L571.73 397L571.43 397.5L571.11 398L570.77 398.5L570.42 399L570.07 399.5L569.71 400L569.35 400.5L568.99 401L568.62 401.5L568.25 402L567.87 402.5L567.49 403L567.1 403.5L566.7 404L566.3 404.5L565.89 405L565.47 405.5L565.03 406L564.59 406.5L564.13 407L563.67 407.5L563.2 408L562.72 408.5L562.25 409L561.77 409.5L561.3 410L560.83 410.5L560.37 411L559.91 411.5L559.47 412L559.03 412.5L558.58 413L558.11 413.5L557.64 414L557.16 414.5L556.69 415L556.22 415.5L555.75 416L555.31 416.5L554.89 417L554.49 417.5L554.12 418L553.79 418.5L553.49 419L553.25 419.5L553.04 420L552.87 420.5L552.71 421L552.57 421.5L552.44 422L552.31 422.5L552.17 423L552.03 423.5L551.87 424L551.69 424.5L551.5 425L551.3 425.5L551.1 426L550.9 426.5L550.72 427L550.56 427.5L550.42 428L550.29 428.5L550.16 429L550.03 429.5L549.91 430L549.8 430.5L549.7 431L549.6 431.5L549.51 432L549.43 432.5L549.36 433L549.29 433.5L549.22 434L549.16 434.5L549.09 435L549.03 435.5L548.98 436L548.92 436.5L548.87 437L548.83 437.5L548.79 438L548.76 438.5L548.73 439L548.71 439.5L548.7 440L548.68 440.5L548.67 441L548.66 441.5L548.65 442L548.64 442.5L548.63 443L548.62 443.5L548.61 444L548.61 444.5L548.61 445L548.6 445.5L548.6 446L548.6 499.8L548.3 499.8L548.3 446L548.3 445.5L548.3 445L548.3 444.5L548.29 444L548.29 443.5L548.28 443L548.27 442.5L548.26 442L548.25 441.5L548.24 441L548.23 440.5L548.21 440L548.2 439.5L548.18 439L548.15 438.5L548.12 438L548.08 437.5L548.03 437L547.98 436.5L547.93 436L547.87 435.5L547.81 435L547.75 434.5L547.68 434L547.61 433.5L547.55 433L547.47 432.5L547.4 432L547.31 431.5L547.21 431L547.11 430.5L546.99 430L546.88 429.5L546.75 429L546.62 428.5L546.49 428L546.35 427.5L546.18 427L546 426.5L545.81 426L545.61 425.5L545.41 425L545.22 424.5L545.04 424L544.88 423.5L544.73 423L544.6 422.5L544.47 422L544.34 421.5L544.2 421L544.04 420.5L543.86 420L543.66 419.5L543.41 419L543.12 418.5L542.79 418L542.42 417.5L542.02 417L541.6 416.5L541.15 416L540.69 415.5L540.22 415L539.74 414.5L539.27 414L538.79 413.5L538.33 413L537.88 412.5L537.44 412L536.99 411.5L536.54 411L536.08 410.5L535.61 410L535.13 409.5L534.66 409L534.18 408.5L533.71 408L533.24 407.5L532.78 407L532.32 406.5L531.88 406L531.44 405.5L531.02 405L530.61 404.5L530.21 404L529.81 403.5L529.42 403L529.03 402.5L528.66 402L528.29 401.5L527.92 401L527.56 400.5L527.2 400L526.84 399.5L526.48 399L526.13 398.5L525.8 398L525.48 397.5L525.17 397L524.89 396.5L524.64 396L524.6 395.5L524.85 395L525.11 394.5L525.39 394L525.69 393.5L525.99 393L526.3 392.5L526.62 392L526.94 391.5L527.26 391L527.59 390.5L527.91 390L528.23 389.5L528.55 389L528.86 388.5L529.16 388L529.47 387.5L529.78 387L530.1 386.5L530.42 386L530.75 385.5L531.1 385L531.45 384.5L531.83 384L532.22 383.5L532.64 383L533.11 382.5L533.61 382L534.14 381.5L534.7 381L535.27 380.5L535.85 380L536.44 379.5L537.03 379L537.61 378.5L538.18 378L538.72 377.5L539.24 377L539.73 376.5L540.18 376L540.62 375.5L541.06 375L541.49 374.5L541.91 374L542.3 373.5L542.67 373L543.02 372.5L543.33 372L543.61 371.5L543.86 371L544.09 370.5L544.3 370L544.5 369.5L544.69 369L544.89 368.5L545.08 368L545.28 367.5L545.48 367L545.68 366.5L545.87 366L546.05 365.5L546.21 365L546.36 364.5L546.51 364L546.65 363.5L546.79 363L546.92 362.5L547.05 362L547.16 361.5L547.27 361L547.37 360.5L547.46 360L547.53 359.5L547.6 359L547.67 358.5L547.74 358L547.8 357.5L547.87 357L547.92 356.5L547.98 356L548.03 355.5L548.07 355L548.11 354.5L548.15 354L548.17 353.5L548.19 353L548.21 352.5L548.22 352L548.23 351.5L548.24 351L548.25 350.5L548.26 350L548.27 349.5L548.28 349L548.28 348.5L548.29 348L548.3 347.5L548.3 347L548.3 346.5L548.3 346L548.3 345.5L548.3 295.5Z" fill="#5573cd" stroke="#4d4d4d" stroke-width="5.2" stroke-linejoin="round"/>
<path d="M623.06 295.5L623.06 307L623.06 307.5L623.06 308L623.07 308.5L623.07 309L623.08 309.5L623.08 310L623.09 310.5L623.1 311L623.1 311.5L623.11 312L623.12 312.5L623.14 313L623.15 313.5L623.16 314L623.17 314.5L623.19 315L623.2 315.5L623.22 316L623.24 316.5L623.25 317L623.27 317.5L623.29 318L623.3 318.5L623.32 319L623.34 319.5L623.36 320L623.38 320.5L623.4 321L623.42 321.5L623.44 322L623.46 322.5L623.48 323L623.5 323.5L623.52 324L623.54 324.5L623.56 325L623.58 325.5L623.6 326L623.62 326.5L623.64 327L623.66 327.5L623.69 328L623.71 328.5L623.74 329L623.76 329.5L623.79 330L623.82 330.5L623.85 331L623.88 331.5L623.91 332L623.95 332.5L623.98 333L624.02 333.5L624.05 334L624.09 334.5L624.13 335L624.17 335.5L624.22 336L624.26 336.5L624.31 337L624.37 337.5L624.42 338L624.48 338.5L624.54 339L624.61 339.5L624.68 340L624.75 340.5L624.82 341L624.89 341.5L624.97 342L625.05 342.5L625.13 343L625.21 343.5L625.31 344L625.41 344.5L625.51 345L625.62 345.5L625.74 346L625.86 346.5L625.98 347L626.1 347.5L626.23 348L626.35 348.5L626.48 349L626.6 349.5L626.72 350L626.84 350.5L626.95 351L627.07 351.5L627.18 352L627.29 352.5L627.4 353L627.51 353.5L627.62 354L627.73 354.5L627.84 355L627.95 355.5L628.07 356L628.19 356.5L628.31 357L628.44 357.5L628.57 358L628.69 358.5L628.82 359L628.95 359.5L629.09 360L629.22 360.5L629.36 361L629.5 361.5L629.65 362L629.79 362.5L629.95 363L630.1 363.5L630.26 364L630.43 364.5L630.61 365L630.8 365.5L631 366L631.21 366.5L631.43 367L631.65 367.5L631.88 368L632.1 368.5L632.33 369L632.56 369.5L632.79 370L633.01 370.5L633.22 371L633.43 371.5L633.63 372L633.82 372.5L634 373L634.16 373.5L634.33 374L634.49 374.5L634.66 375L634.82 375.5L634.98 376L635.14 376.5L635.3 377L635.45 377.5L635.6 378L635.74 378.5L635.88 379L636.01 379.5L636.14 380L636.26 380.5L636.37 381L636.48 381.5L636.57 382L636.66 382.5L636.74 383L636.8 383.5L636.87 384L636.94 384.5L637 385L637.07 385.5L637.13 386L637.19 386.5L637.25 387L637.31 387.5L637.36 388L637.41 388.5L637.46 389L637.5 389.5L637.54 390L637.57 390.5L637.6 391L637.63 391.5L637.64 392L637.66 392.5L637.66 393L637.66 393.5L637.65 394L637.63 394.5L637.61 395L637.58 395.5L637.55 396L637.52 396.5L637.48 397L637.43 397.5L637.39 398L637.34 398.5L637.28 399L637.23 399.5L637.17 400L637.11 400.5L637.05 401L636.99 401.5L636.92 402L636.86 402.5L636.79 403L636.72 403.5L636.64 404L636.56 404.5L636.46 405L636.36 405.5L636.24 406L636.13 406.5L636 407L635.87 407.5L635.74 408L635.6 408.5L635.46 409L635.32 409.5L635.17 410L635.03 410.5L634.88 411L634.74 411.5L634.6 412L634.45 412.5L634.32 413L634.18 413.5L634.05 414L633.91 414.5L633.77 415L633.63 415.5L633.49 416L633.34 416.5L633.2 417L633.05 417.5L632.91 418L632.76 418.5L632.61 419L632.46 419.5L632.31 420L632.16 420.5L632.02 421L631.87 421.5L631.72 422L631.57 422.5L631.42 423L631.28 423.5L631.13 424L630.98 424.5L630.84 425L630.69 425.5L630.55 426L630.4 426.5L630.26 427L630.11 427.5L629.97 428L629.82 428.5L629.67 429L629.53 429.5L629.38 430L629.22 430.5L629.07 431L628.91 431.5L628.75 432L628.59 432.5L628.43 433L628.26 433.5L628.07 434L627.88 434.5L627.67 435L627.45 435.5L627.24 436L627.02 436.5L626.81 437L626.61 437.5L626.42 438L626.25 438.5L626.09 439L625.96 439.5L625.86 440L625.78 440.5L625.7 441L625.63 441.5L625.56 442L625.5 442.5L625.44 443L625.38 443.5L625.33 444L625.28 444.5L625.23 445L625.18 445.5L625.14 446L625.09 446.5L625.05 447L625.01 447.5L624.97 448L624.92 448.5L624.88 449L624.84 449.5L624.79 450L624.75 450.5L624.71 451L624.67 451.5L624.63 452L624.59 452.5L624.56 453L624.52 453.5L624.48 454L624.45 454.5L624.41 455L624.38 455.5L624.34 456L624.31 456.5L624.28 457L624.25 457.5L624.22 458L624.19 458.5L624.16 459L624.13 459.5L624.11 460L624.08 460.5L624.05 461L624.03 461.5L624 462L623.97 462.5L623.95 463L623.93 463.5L623.9 464L623.88 464.5L623.86 465L623.83 465.5L623.81 466L623.79 466.5L623.77 467L623.75 467.5L623.73 468L623.71 468.5L623.69 469L623.66 469.5L623.64 470L623.62 470.5L623.6 471L623.57 471.5L623.55 472L623.53 472.5L623.51 473L623.49 473.5L623.47 474L623.45 474.5L623.44 475L623.42 475.5L623.41 476L623.4 476.5L623.39 477L623.38 477.5L623.37 478L623.37 478.5L623.36 479L623.36 479.5L623.36 499.8L619.86 499.8L619.86 479.5L619.86 479L619.86 478.5L619.86 478L619.85 477.5L619.84 477L619.83 476.5L619.82 476L619.8 475.5L619.79 475L619.77 474.5L619.75 474L619.74 473.5L619.72 473L619.69 472.5L619.67 472L619.65 471.5L619.63 471L619.61 470.5L619.58 470L619.56 469.5L619.54 469L619.52 468.5L619.5 468L619.48 467.5L619.46 467L619.43 466.5L619.41 466L619.39 465.5L619.37 465L619.35 464.5L619.32 464L619.3 463.5L619.28 463L619.25 462.5L619.23 462L619.2 461.5L619.18 461L619.15 460.5L619.12 460L619.09 459.5L619.07 459L619.04 458.5L619.01 458L618.98 457.5L618.95 457L618.91 456.5L618.88 456L618.85 455.5L618.82 455L618.78 454.5L618.75 454L618.71 453.5L618.67 453L618.63 452.5L618.6 452L618.56 451.5L618.52 451L618.47 450.5L618.43 450L618.39 449.5L618.35 449L618.3 448.5L618.26 448L618.22 447.5L618.18 447L618.13 446.5L618.09 446L618.05 445.5L618 445L617.95 444.5L617.9 444L617.85 443.5L617.79 443L617.73 442.5L617.67 442L617.6 441.5L617.52 441L617.45 440.5L617.36 440L617.26 439.5L617.13 439L616.98 438.5L616.81 438L616.62 437.5L616.42 437L616.21 436.5L615.99 436L615.77 435.5L615.56 435L615.35 434.5L615.15 434L614.97 433.5L614.8 433L614.63 432.5L614.47 432L614.31 431.5L614.16 431L614 430.5L613.85 430L613.7 429.5L613.55 429L613.4 428.5L613.26 428L613.11 427.5L612.97 427L612.82 426.5L612.68 426L612.53 425.5L612.39 425L612.24 424.5L612.1 424L611.95 423.5L611.8 423L611.66 422.5L611.51 422L611.36 421.5L611.21 421L611.06 420.5L610.91 420L610.76 419.5L610.62 419L610.47 418.5L610.32 418L610.18 417.5L610.03 417L609.88 416.5L609.74 416L609.6 415.5L609.46 415L609.32 414.5L609.18 414L609.04 413.5L608.91 413L608.77 412.5L608.63 412L608.49 411.5L608.34 411L608.2 410.5L608.05 410L607.91 409.5L607.77 409L607.63 408.5L607.49 408L607.35 407.5L607.22 407L607.1 406.5L606.98 406L606.87 405.5L606.77 405L606.67 404.5L606.58 404L606.5 403.5L606.44 403L606.37 402.5L606.31 402L606.24 401.5L606.18 401L606.12 400.5L606.06 400L606 399.5L605.94 399L605.89 398.5L605.84 398L605.79 397.5L605.75 397L605.71 396.5L605.68 396L605.64 395.5L605.62 395L605.6 394.5L605.58 394L605.57 393.5L605.56 393L605.57 392.5L605.58 392L605.6 391.5L605.62 391L605.65 390.5L605.69 390L605.73 389.5L605.77 389L605.81 388.5L605.87 388L605.92 387.5L605.98 387L606.03 386.5L606.1 386L606.16 385.5L606.22 385L606.29 384.5L606.36 384L606.42 383.5L606.49 383L606.57 382.5L606.65 382L606.75 381.5L606.85 381L606.97 380.5L607.09 380L607.21 379.5L607.35 379L607.49 378.5L607.63 378L607.78 377.5L607.93 377L608.09 376.5L608.25 376L608.41 375.5L608.57 375L608.73 374.5L608.9 374L609.06 373.5L609.23 373L609.41 372.5L609.6 372L609.79 371.5L610 371L610.22 370.5L610.44 370L610.67 369.5L610.89 369L611.12 368.5L611.35 368L611.58 367.5L611.8 367L612.02 366.5L612.23 366L612.43 365.5L612.62 365L612.8 364.5L612.96 364L613.12 363.5L613.28 363L613.43 362.5L613.58 362L613.73 361.5L613.87 361L614.01 360.5L614.14 360L614.27 359.5L614.4 359L614.53 358.5L614.66 358L614.79 357.5L614.91 357L615.04 356.5L615.16 356L615.27 355.5L615.39 355L615.5 354.5L615.61 354L615.72 353.5L615.83 353L615.94 352.5L616.05 352L616.16 351.5L616.27 351L616.39 350.5L616.5 350L616.62 349.5L616.75 349L616.87 348.5L617 348L617.12 347.5L617.25 347L617.37 346.5L617.49 346L617.61 345.5L617.72 345L617.82 344.5L617.92 344L618.01 343.5L618.1 343L618.18 342.5L618.26 342L618.33 341.5L618.41 341L618.48 340.5L618.55 340L618.62 339.5L618.68 339L618.75 338.5L618.8 338L618.86 337.5L618.91 337L618.96 336.5L619.01 336L619.06 335.5L619.1 335L619.14 334.5L619.17 334L619.21 333.5L619.25 333L619.28 332.5L619.31 332L619.35 331.5L619.38 331L619.41 330.5L619.44 330L619.46 329.5L619.49 329L619.52 328.5L619.54 328L619.56 327.5L619.59 327L619.61 326.5L619.63 326L619.65 325.5L619.67 325L619.69 324.5L619.71 324L619.73 323.5L619.75 323L619.77 322.5L619.79 322L619.81 321.5L619.83 321L619.85 320.5L619.87 320L619.89 319.5L619.9 319L619.92 318.5L619.94 318L619.96 317.5L619.97 317L619.99 316.5L620.01 316L620.02 315.5L620.04 315L620.05 314.5L620.07 314L620.08 313.5L620.09 313L620.1 312.5L620.11 312L620.12 311.5L620.13 311L620.14 310.5L620.15 310L620.15 309.5L620.16 309L620.16 308.5L620.16 308L620.16 307.5L620.16 307L620.16 295.5Z" fill="#df8920" stroke="#4d4d4d" stroke-width="5.2" stroke-linejoin="round"/>
<path d="M671.38 295.5L671.38 296L671.39 296.5L671.39 297L671.39 297.5L671.39 298L671.4 298.5L671.4 299L671.4 299.5L671.4 300L671.41 300.5L671.41 301L671.41 301.5L671.41 302L671.42 302.5L671.42 303L671.42 303.5L671.43 304L671.43 304.5L671.43 305L671.43 305.5L671.44 306L671.44 306.5L671.44 307L671.45 307.5L671.45 308L671.45 308.5L671.46 309L671.46 309.5L671.46 310L671.47 310.5L671.47 311L671.47 311.5L671.48 312L671.48 312.5L671.49 313L671.49 313.5L671.49 314L671.5 314.5L671.5 315L671.51 315.5L671.51 316L671.51 316.5L671.52 317L671.52 317.5L671.53 318L671.53 318.5L671.53 319L671.54 319.5L671.54 320L671.55 320.5L671.56 321L671.56 321.5L671.57 322L671.58 322.5L671.59 323L671.6 323.5L671.61 324L671.62 324.5L671.64 325L671.65 325.5L671.66 326L671.68 326.5L671.69 327L671.71 327.5L671.72 328L671.74 328.5L671.75 329L671.77 329.5L671.79 330L671.8 330.5L671.82 331L671.84 331.5L671.86 332L671.87 332.5L671.89 333L671.91 333.5L671.93 334L671.94 334.5L671.96 335L671.98 335.5L672 336L672.02 336.5L672.04 337L672.06 337.5L672.08 338L672.11 338.5L672.13 339L672.15 339.5L672.18 340L672.2 340.5L672.23 341L672.26 341.5L672.29 342L672.32 342.5L672.35 343L672.38 343.5L672.42 344L672.45 344.5L672.49 345L672.52 345.5L672.56 346L672.61 346.5L672.65 347L672.7 347.5L672.75 348L672.81 348.5L672.87 349L672.94 349.5L673.01 350L673.09 350.5L673.17 351L673.29 351.5L673.42 352L673.59 352.5L673.77 353L673.96 353.5L674.17 354L674.38 354.5L674.6 355L674.81 355.5L675.02 356L675.22 356.5L675.41 357L675.61 357.5L675.81 358L676.01 358.5L676.22 359L676.43 359.5L676.64 360L676.85 360.5L677.07 361L677.29 361.5L677.52 362L677.75 362.5L677.99 363L678.24 363.5L678.49 364L678.75 364.5L679.02 365L679.3 365.5L679.58 366L679.87 366.5L680.17 367L680.46 367.5L680.76 368L681.06 368.5L681.36 369L681.66 369.5L681.96 370L682.26 370.5L682.55 371L682.86 371.5L683.17 372L683.48 372.5L683.79 373L684.1 373.5L684.42 374L684.73 374.5L685.04 375L685.36 375.5L685.66 376L685.97 376.5L686.27 377L686.57 377.5L686.86 378L687.15 378.5L687.44 379L687.73 379.5L688.01 380L688.3 380.5L688.58 381L688.87 381.5L689.15 382L689.42 382.5L689.7 383L689.96 383.5L690.22 384L690.48 384.5L690.73 385L690.97 385.5L691.2 386L691.43 386.5L691.64 387L691.85 387.5L692.06 388L692.26 388.5L692.45 389L692.64 389.5L692.83 390L693.02 390.5L693.2 391L693.38 391.5L693.55 392L693.73 392.5L693.91 393L694.08 393.5L694.24 394L694.27 394.5L694.11 395L693.94 395.5L693.77 396L693.59 396.5L693.41 397L693.23 397.5L693.05 398L692.87 398.5L692.68 399L692.49 399.5L692.3 400L692.1 400.5L691.89 401L691.68 401.5L691.47 402L691.25 402.5L691.02 403L690.78 403.5L690.53 404L690.28 404.5L690.02 405L689.75 405.5L689.48 406L689.2 406.5L688.92 407L688.64 407.5L688.36 408L688.07 408.5L687.78 409L687.5 409.5L687.21 410L686.92 410.5L686.63 411L686.33 411.5L686.03 412L685.73 412.5L685.42 413L685.11 413.5L684.79 414L684.48 414.5L684.17 415L683.85 415.5L683.54 416L683.23 416.5L682.92 417L682.62 417.5L682.31 418L682.02 418.5L681.72 419L681.42 419.5L681.12 420L680.82 420.5L680.52 421L680.23 421.5L679.93 422L679.64 422.5L679.36 423L679.08 423.5L678.81 424L678.54 424.5L678.29 425L678.04 425.5L677.8 426L677.57 426.5L677.35 427L677.13 427.5L676.91 428L676.7 428.5L676.5 429L676.29 429.5L676.09 430L675.88 430.5L675.68 431L675.47 431.5L675.26 432L675.05 432.5L674.82 433L674.57 433.5L674.31 434L674.06 434.5L673.82 435L673.61 435.5L673.43 436L673.29 436.5L673.21 437L673.14 437.5L673.08 438L673.04 438.5L672.99 439L672.95 439.5L672.91 440L672.87 440.5L672.82 441L672.78 441.5L672.73 442L672.69 442.5L672.64 443L672.6 443.5L672.55 444L672.51 444.5L672.47 445L672.43 445.5L672.39 446L672.35 446.5L672.32 447L672.28 447.5L672.25 448L672.23 448.5L672.2 449L672.17 449.5L672.14 450L672.12 450.5L672.09 451L672.07 451.5L672.05 452L672.02 452.5L672 453L671.98 453.5L671.96 454L671.93 454.5L671.91 455L671.89 455.5L671.88 456L671.86 456.5L671.84 457L671.82 457.5L671.81 458L671.79 458.5L671.77 459L671.76 459.5L671.74 460L671.73 460.5L671.72 461L671.7 461.5L671.69 462L671.68 462.5L671.66 463L671.65 463.5L671.63 464L671.62 464.5L671.61 465L671.59 465.5L671.58 466L671.57 466.5L671.56 467L671.54 467.5L671.53 468L671.52 468.5L671.51 469L671.5 469.5L671.49 470L671.47 470.5L671.46 471L671.46 471.5L671.45 472L671.44 472.5L671.43 473L671.42 473.5L671.42 474L671.41 474.5L671.4 475L671.4 475.5L671.4 476L671.39 476.5L671.39 477L671.39 477.5L671.39 478L671.39 478.5L671.39 499.8L669.39 499.8L669.39 478.5L669.39 478L669.39 477.5L669.38 477L669.38 476.5L669.38 476L669.37 475.5L669.37 475L669.36 474.5L669.36 474L669.35 473.5L669.34 473L669.34 472.5L669.33 472L669.32 471.5L669.31 471L669.3 470.5L669.29 470L669.28 469.5L669.27 469L669.25 468.5L669.24 468L669.23 467.5L669.22 467L669.21 466.5L669.19 466L669.18 465.5L669.17 465L669.15 464.5L669.14 464L669.12 463.5L669.11 463L669.1 462.5L669.08 462L669.07 461.5L669.06 461L669.04 460.5L669.03 460L669.01 459.5L669 459L668.98 458.5L668.97 458L668.95 457.5L668.93 457L668.92 456.5L668.9 456L668.88 455.5L668.86 455L668.84 454.5L668.82 454L668.8 453.5L668.77 453L668.75 452.5L668.73 452L668.7 451.5L668.68 451L668.65 450.5L668.63 450L668.6 449.5L668.58 449L668.55 448.5L668.52 448L668.49 447.5L668.46 447L668.42 446.5L668.38 446L668.34 445.5L668.3 445L668.26 444.5L668.22 444L668.18 443.5L668.13 443L668.09 442.5L668.04 442L668 441.5L667.95 441L667.9 440.5L667.86 440L667.82 439.5L667.78 439L667.74 438.5L667.69 438L667.63 437.5L667.57 437L667.48 436.5L667.34 436L667.16 435.5L666.95 435L666.71 434.5L666.46 434L666.21 433.5L665.96 433L665.72 432.5L665.51 432L665.3 431.5L665.09 431L664.89 430.5L664.69 430L664.48 429.5L664.28 429L664.07 428.5L663.86 428L663.64 427.5L663.43 427L663.2 426.5L662.97 426L662.73 425.5L662.49 425L662.23 424.5L661.97 424L661.7 423.5L661.42 423L661.13 422.5L660.84 422L660.55 421.5L660.25 421L659.95 420.5L659.65 420L659.35 419.5L659.05 419L658.76 418.5L658.46 418L658.16 417.5L657.85 417L657.55 416.5L657.23 416L656.92 415.5L656.61 415L656.29 414.5L655.98 414L655.67 413.5L655.36 413L655.05 412.5L654.74 412L654.44 411.5L654.14 411L653.85 410.5L653.56 410L653.28 409.5L652.99 409L652.7 408.5L652.42 408L652.13 407.5L651.85 407L651.57 406.5L651.3 406L651.02 405.5L650.76 405L650.5 404.5L650.24 404L650 403.5L649.76 403L649.53 402.5L649.3 402L649.09 401.5L648.88 401L648.67 400.5L648.48 400L648.28 399.5L648.09 399L647.9 398.5L647.72 398L647.54 397.5L647.36 397L647.18 396.5L647.01 396L646.83 395.5L646.66 395L646.5 394.5L646.53 394L646.7 393.5L646.87 393L647.04 392.5L647.22 392L647.4 391.5L647.58 391L647.76 390.5L647.94 390L648.13 389.5L648.32 389L648.52 388.5L648.72 388L648.92 387.5L649.13 387L649.35 386.5L649.57 386L649.8 385.5L650.05 385L650.29 384.5L650.55 384L650.81 383.5L651.08 383L651.35 382.5L651.63 382L651.91 381.5L652.19 381L652.47 380.5L652.76 380L653.05 379.5L653.33 379L653.62 378.5L653.91 378L654.2 377.5L654.5 377L654.8 376.5L655.11 376L655.42 375.5L655.73 375L656.04 374.5L656.36 374L656.67 373.5L656.98 373L657.3 372.5L657.61 372L657.91 371.5L658.22 371L658.52 370.5L658.81 370L659.11 369.5L659.41 369L659.71 368.5L660.01 368L660.31 367.5L660.61 367L660.9 366.5L661.19 366L661.47 365.5L661.75 365L662.02 364.5L662.28 364L662.54 363.5L662.78 363L663.02 362.5L663.25 362L663.48 361.5L663.7 361L663.92 360.5L664.14 360L664.35 359.5L664.56 359L664.76 358.5L664.96 358L665.16 357.5L665.36 357L665.56 356.5L665.76 356L665.96 355.5L666.18 355L666.39 354.5L666.6 354L666.81 353.5L667.01 353L667.19 352.5L667.35 352L667.49 351.5L667.6 351L667.69 350.5L667.76 350L667.84 349.5L667.9 349L667.96 348.5L668.02 348L668.07 347.5L668.12 347L668.17 346.5L668.21 346L668.25 345.5L668.29 345L668.32 344.5L668.36 344L668.39 343.5L668.42 343L668.45 342.5L668.48 342L668.51 341.5L668.54 341L668.57 340.5L668.6 340L668.62 339.5L668.64 339L668.67 338.5L668.69 338L668.71 337.5L668.73 337L668.75 336.5L668.77 336L668.79 335.5L668.81 335L668.83 334.5L668.85 334L668.87 333.5L668.88 333L668.9 332.5L668.92 332L668.94 331.5L668.95 331L668.97 330.5L668.99 330L669 329.5L669.02 329L669.04 328.5L669.05 328L669.07 327.5L669.08 327L669.1 326.5L669.11 326L669.12 325.5L669.14 325L669.15 324.5L669.16 324L669.17 323.5L669.18 323L669.19 322.5L669.2 322L669.21 321.5L669.22 321L669.22 320.5L669.23 320L669.23 319.5L669.24 319L669.24 318.5L669.25 318L669.25 317.5L669.26 317L669.26 316.5L669.26 316L669.27 315.5L669.27 315L669.28 314.5L669.28 314L669.28 313.5L669.29 313L669.29 312.5L669.3 312L669.3 311.5L669.3 311L669.31 310.5L669.31 310L669.31 309.5L669.32 309L669.32 308.5L669.32 308L669.33 307.5L669.33 307L669.33 306.5L669.34 306L669.34 305.5L669.34 305L669.34 304.5L669.35 304L669.35 303.5L669.35 303L669.36 302.5L669.36 302L669.36 301.5L669.36 301L669.37 300.5L669.37 300L669.37 299.5L669.37 299L669.38 298.5L669.38 298L669.38 297.5L669.38 297L669.39 296.5L669.39 296L669.39 295.5Z" fill="#5573cd" stroke="#4d4d4d" stroke-width="5.2" stroke-linejoin="round"/>
<path d="M746.7 295.5L746.7 309L746.7 309.5L746.7 310L746.71 310.5L746.72 311L746.73 311.5L746.75 312L746.77 312.5L746.8 313L746.82 313.5L746.85 314L746.88 314.5L746.91 315L746.95 315.5L746.98 316L747.02 316.5L747.05 317L747.09 317.5L747.13 318L747.16 318.5L747.2 319L747.24 319.5L747.27 320L747.3 320.5L747.34 321L747.37 321.5L747.41 322L747.44 322.5L747.48 323L747.52 323.5L747.56 324L747.6 324.5L747.64 325L747.68 325.5L747.73 326L747.77 326.5L747.81 327L747.86 327.5L747.9 328L747.94 328.5L747.99 329L748.03 329.5L748.07 330L748.12 330.5L748.16 331L748.2 331.5L748.24 332L748.29 332.5L748.33 333L748.38 333.5L748.43 334L748.48 334.5L748.53 335L748.59 335.5L748.65 336L748.71 336.5L748.78 337L748.86 337.5L748.94 338L749.03 338.5L749.12 339L749.22 339.5L749.32 340L749.42 340.5L749.53 341L749.64 341.5L749.75 342L749.87 342.5L749.98 343L750.09 343.5L750.21 344L750.32 344.5L750.43 345L750.55 345.5L750.66 346L750.78 346.5L750.9 347L751.02 347.5L751.14 348L751.26 348.5L751.39 349L751.52 349.5L751.65 350L751.78 350.5L751.91 351L752.05 351.5L752.19 352L752.33 352.5L752.48 353L752.63 353.5L752.78 354L752.95 354.5L753.12 355L753.29 355.5L753.48 356L753.66 356.5L753.85 357L754.05 357.5L754.25 358L754.45 358.5L754.65 359L754.85 359.5L755.05 360L755.25 360.5L755.45 361L755.65 361.5L755.84 362L756.03 362.5L756.21 363L756.39 363.5L756.56 364L756.72 364.5L756.88 365L757.03 365.5L757.17 366L757.31 366.5L757.45 367L757.59 367.5L757.72 368L757.86 368.5L757.99 369L758.12 369.5L758.25 370L758.37 370.5L758.49 371L758.61 371.5L758.73 372L758.84 372.5L758.96 373L759.06 373.5L759.17 374L759.27 374.5L759.37 375L759.47 375.5L759.56 376L759.65 376.5L759.74 377L759.83 377.5L759.91 378L760 378.5L760.08 379L760.17 379.5L760.25 380L760.33 380.5L760.41 381L760.48 381.5L760.56 382L760.63 382.5L760.7 383L760.77 383.5L760.83 384L760.89 384.5L760.95 385L761.01 385.5L761.06 386L761.11 386.5L761.16 387L761.21 387.5L761.25 388L761.29 388.5L761.33 389L761.37 389.5L761.41 390L761.44 390.5L761.48 391L761.51 391.5L761.54 392L761.57 392.5L761.6 393L761.62 393.5L761.65 394L761.67 394.5L761.68 395L761.7 395.5L761.69 396L761.69 396.5L761.67 397L761.66 397.5L761.64 398L761.62 398.5L761.59 399L761.57 399.5L761.54 400L761.51 400.5L761.47 401L761.44 401.5L761.4 402L761.37 402.5L761.33 403L761.29 403.5L761.25 404L761.19 404.5L761.14 405L761.07 405.5L761 406L760.92 406.5L760.84 407L760.76 407.5L760.66 408L760.57 408.5L760.47 409L760.37 409.5L760.26 410L760.15 410.5L760.04 411L759.93 411.5L759.82 412L759.7 412.5L759.59 413L759.47 413.5L759.35 414L759.23 414.5L759.09 415L758.95 415.5L758.8 416L758.65 416.5L758.49 417L758.33 417.5L758.17 418L758 418.5L757.83 419L757.66 419.5L757.48 420L757.31 420.5L757.13 421L756.95 421.5L756.78 422L756.6 422.5L756.43 423L756.26 423.5L756.1 424L755.93 424.5L755.77 425L755.6 425.5L755.44 426L755.28 426.5L755.11 427L754.95 427.5L754.78 428L754.61 428.5L754.45 429L754.28 429.5L754.12 430L753.95 430.5L753.78 431L753.62 431.5L753.45 432L753.28 432.5L753.11 433L752.94 433.5L752.77 434L752.6 434.5L752.43 435L752.26 435.5L752.08 436L751.9 436.5L751.71 437L751.52 437.5L751.33 438L751.15 438.5L750.98 439L750.83 439.5L750.7 440L750.58 440.5L750.47 441L750.36 441.5L750.26 442L750.17 442.5L750.08 443L749.99 443.5L749.91 444L749.83 444.5L749.75 445L749.67 445.5L749.59 446L749.51 446.5L749.43 447L749.34 447.5L749.25 448L749.16 448.5L749.05 449L748.94 449.5L748.84 450L748.75 450.5L748.69 451L748.64 451.5L748.6 452L748.56 452.5L748.53 453L748.49 453.5L748.47 454L748.44 454.5L748.41 455L748.39 455.5L748.37 456L748.34 456.5L748.32 457L748.29 457.5L748.27 458L748.24 458.5L748.22 459L748.2 459.5L748.18 460L748.16 460.5L748.14 461L748.12 461.5L748.09 462L748.07 462.5L748.05 463L748.03 463.5L748 464L747.98 464.5L747.95 465L747.92 465.5L747.89 466L747.85 466.5L747.82 467L747.79 467.5L747.75 468L747.71 468.5L747.68 469L747.64 469.5L747.61 470L747.57 470.5L747.54 471L747.5 471.5L747.47 472L747.44 472.5L747.41 473L747.38 473.5L747.36 474L747.33 474.5L747.31 475L747.29 475.5L747.28 476L747.26 476.5L747.24 477L747.22 477.5L747.2 478L747.19 478.5L747.17 479L747.15 479.5L747.14 480L747.12 480.5L747.1 481L747.09 481.5L747.08 482L747.06 482.5L747.05 483L747.04 483.5L747.03 484L747.02 484.5L747.01 485L747.01 485.5L747 486L747 486.5L747 487L747 487.5L747 499.8L740.1 499.8L740.1 487.5L740.1 487L740.09 486.5L740.09 486L740.09 485.5L740.08 485L740.07 484.5L740.06 484L740.05 483.5L740.04 483L740.03 482.5L740.02 482L740 481.5L739.99 481L739.97 480.5L739.96 480L739.94 479.5L739.92 479L739.91 478.5L739.89 478L739.87 477.5L739.85 477L739.84 476.5L739.82 476L739.8 475.5L739.78 475L739.76 474.5L739.74 474L739.71 473.5L739.68 473L739.65 472.5L739.62 472L739.59 471.5L739.56 471L739.52 470.5L739.49 470L739.45 469.5L739.41 469L739.38 468.5L739.34 468L739.31 467.5L739.27 467L739.24 466.5L739.21 466L739.18 465.5L739.15 465L739.12 464.5L739.09 464L739.07 463.5L739.04 463L739.02 462.5L739 462L738.98 461.5L738.96 461L738.94 460.5L738.92 460L738.89 459.5L738.87 459L738.85 458.5L738.83 458L738.8 457.5L738.78 457L738.75 456.5L738.73 456L738.7 455.5L738.68 455L738.65 454.5L738.63 454L738.6 453.5L738.57 453L738.53 452.5L738.5 452L738.45 451.5L738.41 451L738.35 450.5L738.26 450L738.15 449.5L738.04 449L737.94 448.5L737.84 448L737.75 447.5L737.67 447L737.58 446.5L737.5 446L737.42 445.5L737.34 445L737.26 444.5L737.18 444L737.1 443.5L737.01 443L736.92 442.5L736.83 442L736.73 441.5L736.63 441L736.52 440.5L736.4 440L736.26 439.5L736.11 439L735.94 438.5L735.76 438L735.58 437.5L735.39 437L735.2 436.5L735.01 436L734.83 435.5L734.66 435L734.49 434.5L734.32 434L734.15 433.5L733.98 433L733.81 432.5L733.65 432L733.48 431.5L733.31 431L733.14 430.5L732.98 430L732.81 429.5L732.64 429L732.48 428.5L732.31 428L732.15 427.5L731.98 427L731.82 426.5L731.65 426L731.49 425.5L731.33 425L731.16 424.5L731 424L730.83 423.5L730.66 423L730.49 422.5L730.31 422L730.14 421.5L729.96 421L729.79 420.5L729.61 420L729.44 419.5L729.27 419L729.09 418.5L728.93 418L728.76 417.5L728.6 417L728.44 416.5L728.29 416L728.14 415.5L728 415L727.87 414.5L727.74 414L727.62 413.5L727.5 413L727.39 412.5L727.28 412L727.16 411.5L727.05 411L726.94 410.5L726.83 410L726.73 409.5L726.62 409L726.52 408.5L726.43 408L726.34 407.5L726.25 407L726.17 406.5L726.09 406L726.02 405.5L725.96 405L725.9 404.5L725.85 404L725.8 403.5L725.77 403L725.73 402.5L725.69 402L725.66 401.5L725.62 401L725.59 400.5L725.56 400L725.53 399.5L725.5 399L725.47 398.5L725.45 398L725.43 397.5L725.42 397L725.41 396.5L725.4 396L725.4 395.5L725.41 395L725.43 394.5L725.45 394L725.47 393.5L725.5 393L725.52 392.5L725.55 392L725.58 391.5L725.62 391L725.65 390.5L725.69 390L725.73 389.5L725.76 389L725.81 388.5L725.85 388L725.89 387.5L725.93 387L725.98 386.5L726.03 386L726.08 385.5L726.14 385L726.2 384.5L726.26 384L726.33 383.5L726.39 383L726.46 382.5L726.53 382L726.61 381.5L726.69 381L726.76 380.5L726.84 380L726.93 379.5L727.01 379L727.09 378.5L727.18 378L727.27 377.5L727.35 377L727.44 376.5L727.53 376L727.63 375.5L727.72 375L727.82 374.5L727.92 374L728.03 373.5L728.14 373L728.25 372.5L728.36 372L728.48 371.5L728.6 371L728.72 370.5L728.85 370L728.97 369.5L729.1 369L729.23 368.5L729.37 368L729.5 367.5L729.64 367L729.78 366.5L729.92 366L730.07 365.5L730.22 365L730.37 364.5L730.54 364L730.71 363.5L730.88 363L731.07 362.5L731.26 362L731.45 361.5L731.64 361L731.84 360.5L732.04 360L732.24 359.5L732.44 359L732.65 358.5L732.85 358L733.04 357.5L733.24 357L733.43 356.5L733.62 356L733.8 355.5L733.98 355L734.15 354.5L734.31 354L734.47 353.5L734.62 353L734.76 352.5L734.9 352L735.04 351.5L735.18 351L735.32 350.5L735.45 350L735.58 349.5L735.71 349L735.83 348.5L735.95 348L736.08 347.5L736.2 347L736.32 346.5L736.43 346L736.55 345.5L736.66 345L736.77 344.5L736.89 344L737 343.5L737.11 343L737.23 342.5L737.34 342L737.45 341.5L737.56 341L737.67 340.5L737.78 340L737.88 339.5L737.97 339L738.07 338.5L738.16 338L738.24 337.5L738.31 337L738.38 336.5L738.45 336L738.51 335.5L738.56 335L738.62 334.5L738.67 334L738.72 333.5L738.76 333L738.81 332.5L738.85 332L738.89 331.5L738.94 331L738.98 330.5L739.02 330L739.06 329.5L739.11 329L739.15 328.5L739.19 328L739.24 327.5L739.28 327L739.32 326.5L739.37 326L739.41 325.5L739.45 325L739.49 324.5L739.53 324L739.57 323.5L739.61 323L739.65 322.5L739.69 322L739.72 321.5L739.76 321L739.79 320.5L739.82 320L739.86 319.5L739.89 319L739.93 318.5L739.97 318L740 317.5L740.04 317L740.08 316.5L740.11 316L740.15 315.5L740.18 315L740.21 314.5L740.24 314L740.27 313.5L740.3 313L740.32 312.5L740.34 312L740.36 311.5L740.38 311L740.39 310.5L740.39 310L740.4 309.5L740.4 309L740.4 295.5Z" fill="#df8920" stroke="#4d4d4d" stroke-width="5.2" stroke-linejoin="round"/>
<path d="M794.52 295.5L794.52 304L794.52 304.5L794.52 305L794.52 305.5L794.53 306L794.53 306.5L794.54 307L794.54 307.5L794.55 308L794.56 308.5L794.56 309L794.57 309.5L794.58 310L794.59 310.5L794.6 311L794.61 311.5L794.62 312L794.63 312.5L794.64 313L794.65 313.5L794.67 314L794.68 314.5L794.69 315L794.7 315.5L794.72 316L794.73 316.5L794.75 317L794.77 317.5L794.78 318L794.8 318.5L794.83 319L794.85 319.5L794.87 320L794.89 320.5L794.92 321L794.95 321.5L794.98 322L795.01 322.5L795.05 323L795.1 323.5L795.14 324L795.2 324.5L795.25 325L795.3 325.5L795.35 326L795.4 326.5L795.45 327L795.49 327.5L795.54 328L795.58 328.5L795.63 329L795.67 329.5L795.72 330L795.76 330.5L795.81 331L795.86 331.5L795.91 332L795.97 332.5L796.02 333L796.08 333.5L796.14 334L796.21 334.5L796.28 335L796.36 335.5L796.44 336L796.52 336.5L796.61 337L796.7 337.5L796.8 338L796.9 338.5L797 339L797.1 339.5L797.21 340L797.31 340.5L797.42 341L797.52 341.5L797.63 342L797.73 342.5L797.84 343L797.94 343.5L798.05 344L798.16 344.5L798.27 345L798.38 345.5L798.49 346L798.6 346.5L798.71 347L798.83 347.5L798.95 348L799.07 348.5L799.19 349L799.32 349.5L799.45 350L799.58 350.5L799.72 351L799.86 351.5L800 352L800.15 352.5L800.31 353L800.47 353.5L800.64 354L800.82 354.5L801.01 355L801.21 355.5L801.42 356L801.64 356.5L801.86 357L802.09 357.5L802.32 358L802.55 358.5L802.79 359L803.02 359.5L803.26 360L803.49 360.5L803.73 361L803.96 361.5L804.18 362L804.4 362.5L804.62 363L804.85 363.5L805.07 364L805.29 364.5L805.52 365L805.74 365.5L805.97 366L806.19 366.5L806.42 367L806.64 367.5L806.87 368L807.1 368.5L807.32 369L807.55 369.5L807.78 370L808 370.5L808.23 371L808.45 371.5L808.68 372L808.91 372.5L809.13 373L809.36 373.5L809.6 374L809.83 374.5L810.07 375L810.3 375.5L810.54 376L810.77 376.5L811.01 377L811.24 377.5L811.47 378L811.7 378.5L811.93 379L812.15 379.5L812.37 380L812.58 380.5L812.79 381L813 381.5L813.19 382L813.39 382.5L813.58 383L813.78 383.5L813.97 384L814.17 384.5L814.37 385L814.56 385.5L814.74 386L814.92 386.5L815.1 387L815.26 387.5L815.42 388L815.57 388.5L815.7 389L815.82 389.5L815.93 390L816.03 390.5L816.12 391L816.21 391.5L816.29 392L816.37 392.5L816.45 393L816.52 393.5L816.58 394L816.64 394.5L816.69 395L816.73 395.5L816.76 396L816.75 396.5L816.72 397L816.67 397.5L816.61 398L816.55 398.5L816.47 399L816.39 399.5L816.31 400L816.21 400.5L816.12 401L816.02 401.5L815.91 402L815.8 402.5L815.68 403L815.53 403.5L815.37 404L815.2 404.5L815.02 405L814.82 405.5L814.62 406L814.4 406.5L814.19 407L813.96 407.5L813.74 408L813.52 408.5L813.29 409L813.07 409.5L812.86 410L812.64 410.5L812.43 411L812.2 411.5L811.98 412L811.75 412.5L811.52 413L811.28 413.5L811.05 414L810.81 414.5L810.57 415L810.33 415.5L810.08 416L809.84 416.5L809.6 417L809.36 417.5L809.11 418L808.87 418.5L808.64 419L808.4 419.5L808.16 420L807.93 420.5L807.7 421L807.46 421.5L807.23 422L806.99 422.5L806.76 423L806.52 423.5L806.29 424L806.05 424.5L805.82 425L805.58 425.5L805.35 426L805.12 426.5L804.89 427L804.66 427.5L804.44 428L804.21 428.5L803.99 429L803.77 429.5L803.56 430L803.34 430.5L803.13 431L802.91 431.5L802.69 432L802.47 432.5L802.25 433L802.04 433.5L801.82 434L801.61 434.5L801.39 435L801.19 435.5L800.98 436L800.78 436.5L800.58 437L800.39 437.5L800.21 438L800.03 438.5L799.85 439L799.69 439.5L799.53 440L799.38 440.5L799.23 441L799.09 441.5L798.95 442L798.82 442.5L798.68 443L798.55 443.5L798.43 444L798.3 444.5L798.18 445L798.06 445.5L797.95 446L797.84 446.5L797.73 447L797.62 447.5L797.51 448L797.41 448.5L797.31 449L797.21 449.5L797.11 450L797.01 450.5L796.92 451L796.83 451.5L796.74 452L796.65 452.5L796.57 453L796.49 453.5L796.41 454L796.33 454.5L796.25 455L796.17 455.5L796.1 456L796.02 456.5L795.95 457L795.87 457.5L795.8 458L795.73 458.5L795.65 459L795.57 459.5L795.49 460L795.42 460.5L795.34 461L795.27 461.5L795.2 462L795.13 462.5L795.07 463L795.02 463.5L794.98 464L794.94 464.5L794.9 465L794.87 465.5L794.84 466L794.81 466.5L794.78 467L794.75 467.5L794.72 468L794.7 468.5L794.67 469L794.65 469.5L794.63 470L794.61 470.5L794.59 471L794.57 471.5L794.55 472L794.53 472.5L794.51 473L794.49 473.5L794.48 474L794.46 474.5L794.44 475L794.43 475.5L794.41 476L794.39 476.5L794.38 477L794.36 477.5L794.34 478L794.33 478.5L794.31 479L794.3 479.5L794.28 480L794.27 480.5L794.25 481L794.24 481.5L794.23 482L794.22 482.5L794.21 483L794.2 483.5L794.19 484L794.18 484.5L794.18 485L794.17 485.5L794.17 486L794.17 486.5L794.17 487L794.17 487.5L794.16 488L794.16 488.5L794.16 489L794.16 489.5L794.16 490L794.16 490.5L794.15 491L794.15 491.5L794.15 492L794.15 492.5L794.15 493L794.15 493.5L794.15 494L794.15 494.5L794.14 495L794.14 495.5L794.14 496L794.14 496.5L794.14 497L794.14 497.5L794.14 498L794.14 498.5L794.14 499L794.13 499.5L794.13 499.8L790.51 499.8L790.51 499.5L790.5 499L790.5 498.5L790.5 498L790.5 497.5L790.5 497L790.5 496.5L790.5 496L790.5 495.5L790.5 495L790.49 494.5L790.49 494L790.49 493.5L790.49 493L790.49 492.5L790.49 492L790.49 491.5L790.49 491L790.48 490.5L790.48 490L790.48 489.5L790.48 489L790.48 488.5L790.48 488L790.47 487.5L790.47 487L790.47 486.5L790.47 486L790.47 485.5L790.46 485L790.46 484.5L790.45 484L790.44 483.5L790.43 483L790.42 482.5L790.41 482L790.4 481.5L790.39 481L790.37 480.5L790.36 480L790.34 479.5L790.33 479L790.31 478.5L790.3 478L790.28 477.5L790.26 477L790.25 476.5L790.23 476L790.21 475.5L790.2 475L790.18 474.5L790.16 474L790.15 473.5L790.13 473L790.11 472.5L790.09 472L790.07 471.5L790.05 471L790.03 470.5L790.01 470L789.99 469.5L789.97 469L789.94 468.5L789.92 468L789.89 467.5L789.86 467L789.83 466.5L789.8 466L789.77 465.5L789.74 465L789.7 464.5L789.66 464L789.62 463.5L789.57 463L789.51 462.5L789.44 462L789.37 461.5L789.3 461L789.22 460.5L789.15 460L789.07 459.5L788.99 459L788.91 458.5L788.84 458L788.77 457.5L788.69 457L788.62 456.5L788.54 456L788.47 455.5L788.39 455L788.31 454.5L788.23 454L788.15 453.5L788.07 453L787.99 452.5L787.9 452L787.81 451.5L787.72 451L787.63 450.5L787.53 450L787.43 449.5L787.33 449L787.23 448.5L787.13 448L787.02 447.5L786.91 447L786.8 446.5L786.69 446L786.58 445.5L786.46 445L786.34 444.5L786.21 444L786.09 443.5L785.96 443L785.82 442.5L785.69 442L785.55 441.5L785.41 441L785.26 440.5L785.11 440L784.95 439.5L784.79 439L784.61 438.5L784.43 438L784.25 437.5L784.06 437L783.86 436.5L783.66 436L783.45 435.5L783.25 435L783.03 434.5L782.82 434L782.6 433.5L782.39 433L782.17 432.5L781.95 432L781.73 431.5L781.51 431L781.3 430.5L781.08 430L780.87 429.5L780.65 429L780.43 428.5L780.2 428L779.98 427.5L779.75 427L779.52 426.5L779.29 426L779.06 425.5L778.82 425L778.59 424.5L778.35 424L778.12 423.5L777.88 423L777.65 422.5L777.41 422L777.18 421.5L776.94 421L776.71 420.5L776.48 420L776.24 419.5L776 419L775.77 418.5L775.53 418L775.28 417.5L775.04 417L774.8 416.5L774.56 416L774.31 415.5L774.07 415L773.83 414.5L773.59 414L773.36 413.5L773.12 413L772.89 412.5L772.66 412L772.44 411.5L772.21 411L772 410.5L771.78 410L771.57 409.5L771.35 409L771.12 408.5L770.9 408L770.68 407.5L770.45 407L770.24 406.5L770.02 406L769.82 405.5L769.62 405L769.44 404.5L769.27 404L769.11 403.5L768.96 403L768.84 402.5L768.73 402L768.62 401.5L768.52 401L768.43 400.5L768.33 400L768.25 399.5L768.17 399L768.09 398.5L768.03 398L767.97 397.5L767.92 397L767.89 396.5L767.88 396L767.91 395.5L767.95 395L768 394.5L768.06 394L768.12 393.5L768.19 393L768.27 392.5L768.35 392L768.43 391.5L768.52 391L768.61 390.5L768.71 390L768.82 389.5L768.94 389L769.07 388.5L769.22 388L769.38 387.5L769.54 387L769.72 386.5L769.9 386L770.08 385.5L770.27 385L770.47 384.5L770.67 384L770.86 383.5L771.06 383L771.25 382.5L771.45 382L771.64 381.5L771.85 381L772.06 380.5L772.27 380L772.49 379.5L772.71 379L772.94 378.5L773.17 378L773.4 377.5L773.63 377L773.87 376.5L774.1 376L774.34 375.5L774.57 375L774.81 374.5L775.04 374L775.28 373.5L775.51 373L775.73 372.5L775.96 372L776.19 371.5L776.41 371L776.64 370.5L776.86 370L777.09 369.5L777.32 369L777.54 368.5L777.77 368L778 367.5L778.22 367L778.45 366.5L778.67 366L778.9 365.5L779.12 365L779.35 364.5L779.57 364L779.79 363.5L780.02 363L780.24 362.5L780.46 362L780.68 361.5L780.91 361L781.15 360.5L781.38 360L781.62 359.5L781.85 359L782.09 358.5L782.32 358L782.55 357.5L782.78 357L783 356.5L783.22 356L783.43 355.5L783.63 355L783.82 354.5L784 354L784.17 353.5L784.33 353L784.49 352.5L784.64 352L784.78 351.5L784.92 351L785.06 350.5L785.19 350L785.32 349.5L785.45 349L785.57 348.5L785.69 348L785.81 347.5L785.93 347L786.04 346.5L786.15 346L786.26 345.5L786.37 345L786.48 344.5L786.59 344L786.7 343.5L786.8 343L786.91 342.5L787.01 342L787.12 341.5L787.22 341L787.33 340.5L787.43 340L787.54 339.5L787.64 339L787.74 338.5L787.84 338L787.94 337.5L788.03 337L788.12 336.5L788.2 336L788.28 335.5L788.36 335L788.43 334.5L788.5 334L788.56 333.5L788.62 333L788.67 332.5L788.73 332L788.78 331.5L788.83 331L788.88 330.5L788.92 330L788.97 329.5L789.01 329L789.06 328.5L789.1 328L789.15 327.5L789.19 327L789.24 326.5L789.29 326L789.34 325.5L789.39 325L789.44 324.5L789.5 324L789.54 323.5L789.59 323L789.63 322.5L789.66 322L789.69 321.5L789.72 321L789.75 320.5L789.77 320L789.79 319.5L789.81 319L789.84 318.5L789.86 318L789.87 317.5L789.89 317L789.91 316.5L789.92 316L789.94 315.5L789.95 315L789.96 314.5L789.97 314L789.99 313.5L790 313L790.01 312.5L790.02 312L790.03 311.5L790.04 311L790.05 310.5L790.06 310L790.07 309.5L790.08 309L790.08 308.5L790.09 308L790.1 307.5L790.1 307L790.11 306.5L790.11 306L790.12 305.5L790.12 305L790.12 304.5L790.12 304L790.12 295.5Z" fill="#5573cd" stroke="#4d4d4d" stroke-width="5.2" stroke-linejoin="round"/>
<rect x="131.18" y="380.2" width="5.4" height="28.8" fill="#4d4d4d"/>
<rect x="126.23" y="384" width="15.3" height="20.5" fill="#4d4d4d"/>
<rect x="179.95" y="381" width="5.4" height="28" fill="#4d4d4d"/>
<rect x="175" y="385.5" width="15.3" height="19.5" fill="#4d4d4d"/>
<rect x="253.11" y="378" width="5.4" height="33" fill="#4d4d4d"/>
<rect x="248.16" y="384.6" width="15.3" height="19.4" fill="#4d4d4d"/>
<rect x="301.89" y="380" width="5.4" height="30" fill="#4d4d4d"/>
<rect x="296.94" y="385.5" width="15.3" height="19.5" fill="#4d4d4d"/>
<rect x="375.05" y="377.4" width="5.4" height="32.4" fill="#4d4d4d"/>
<rect x="370.1" y="384" width="15.3" height="21" fill="#4d4d4d"/>
<rect x="423.82" y="378" width="5.4" height="34" fill="#4d4d4d"/>
<rect x="418.87" y="385" width="15.3" height="20.5" fill="#4d4d4d"/>
<rect x="496.98" y="373.7" width="5.4" height="41.7" fill="#4d4d4d"/>
<rect x="493.18" y="382.2" width="13" height="24" fill="#4d4d4d"/>
<rect x="545.75" y="381" width="5.4" height="28.8" fill="#4d4d4d"/>
<rect x="540.8" y="384.6" width="15.3" height="21.6" fill="#4d4d4d"/>
<rect x="618.91" y="361" width="5.4" height="71" fill="#4d4d4d"/>
<rect x="613.96" y="381" width="15.3" height="31.2" fill="#4d4d4d"/>
<rect x="667.69" y="379" width="5.4" height="31.5" fill="#4d4d4d"/>
<rect x="662.74" y="384.6" width="15.3" height="21.1" fill="#4d4d4d"/>
<rect x="740.85" y="300" width="5.4" height="200" fill="#4d4d4d"/>
<rect x="735.9" y="379" width="15.3" height="56" fill="#4d4d4d"/>
<rect x="789.62" y="375" width="5.4" height="40.8" fill="#4d4d4d"/>
<rect x="784.67" y="383.4" width="15.3" height="24" fill="#4d4d4d"/>
<circle cx="133.88" cy="394" r="3.3" fill="#fff"/>
<circle cx="182.65" cy="395.3" r="3.3" fill="#fff"/>
<circle cx="255.81" cy="394.2" r="3.3" fill="#fff"/>
<circle cx="304.59" cy="395.3" r="3.3" fill="#fff"/>
<circle cx="377.75" cy="394.2" r="3.3" fill="#fff"/>
<circle cx="426.52" cy="395.3" r="3.3" fill="#fff"/>
<circle cx="499.68" cy="394.2" r="3.3" fill="#fff"/>
<circle cx="548.45" cy="395.3" r="3.3" fill="#fff"/>
<circle cx="621.61" cy="394.2" r="3.3" fill="#fff"/>
<circle cx="670.39" cy="394.9" r="3.3" fill="#fff"/>
<circle cx="743.55" cy="394.2" r="3.3" fill="#fff"/>
<circle cx="792.32" cy="394.9" r="3.3" fill="#fff"/>
</g>
<g clip-path="url(#c2)">
<path d="M133.88 512L133.88 606L133.88 606.5L133.94 607L134.04 607.5L134.19 608L134.39 608.5L134.63 609L135.04 609.5L135.84 610L136.88 610.5L138.44 611L140.55 611.5L142.8 612L145.34 612.5L147.88 613L150.25 613.5L152.54 614L152.99 614.5L150.71 615L148.36 615.5L145.86 616L143.28 616.5L141 617L138.83 617.5L137.12 618L136.03 618.5L135.17 619L134.68 619.5L134.44 620L134.23 620.5L134.07 621L133.95 621.5L133.89 622L133.88 622.5L133.88 653L133.88 653L133.88 622.5L133.87 622L133.81 621.5L133.69 621L133.53 620.5L133.32 620L133.08 619.5L132.59 619L131.73 618.5L130.64 618L128.93 617.5L126.76 617L124.48 616.5L121.9 616L119.4 615.5L117.05 615L114.77 614.5L115.22 614L117.51 613.5L119.88 613L122.42 612.5L124.96 612L127.21 611.5L129.32 611L130.88 610.5L131.92 610L132.72 609.5L133.13 609L133.37 608.5L133.57 608L133.72 607.5L133.82 607L133.88 606.5L133.88 606L133.88 512Z" fill="#df8920" stroke="#000" stroke-width="2.1" stroke-linejoin="round"/>
<path d="M182.8 539L182.8 606L182.81 606.5L182.83 607L182.89 607.5L182.98 608L183.09 608.5L183.22 609L183.38 609.5L183.69 610L184.17 610.5L184.83 611L185.73 611.5L187.52 612L190.18 612.5L195.47 613L203.15 613.5L206.55 614L206.84 614.5L204.32 615L197.05 615.5L190.8 616L187.98 616.5L186.01 617L184.98 617.5L184.29 618L183.77 618.5L183.43 619L183.24 619.5L183.11 620L183 620.5L182.91 621L182.84 621.5L182.81 622L182.8 622.5L182.8 631.9L182.5 631.9L182.5 622.5L182.5 622L182.46 621.5L182.4 621L182.31 620.5L182.2 620L182.06 619.5L181.88 619L181.54 618.5L181.02 618L180.33 617.5L179.3 617L177.32 616.5L174.5 616L168.26 615.5L160.99 615L158.47 614.5L158.76 614L162.16 613.5L169.83 613L175.13 612.5L177.79 612L179.58 611.5L180.48 611L181.14 610.5L181.62 610L181.93 609.5L182.09 609L182.22 608.5L182.33 608L182.41 607.5L182.47 607L182.5 606.5L182.5 606L182.5 539Z" fill="#5573cd" stroke="#4d4d4d" stroke-width="5.2" stroke-linejoin="round"/>
<path d="M255.96 512L255.96 600L255.96 600.5L255.97 601L255.98 601.5L256.01 602L256.03 602.5L256.06 603L256.1 603.5L256.14 604L256.18 604.5L256.25 605L256.35 605.5L256.48 606L256.63 606.5L256.81 607L257.02 607.5L257.28 608L257.71 608.5L258.3 609L259 609.5L259.82 610L260.98 610.5L262.26 611L263.4 611.5L264.51 612L265.5 612.5L266.22 613L266.82 613.5L267.28 614L267.35 614.5L266.92 615L266.35 615.5L265.67 616L264.72 616.5L263.62 617L262.51 617.5L261.23 618L260.02 618.5L259.15 619L258.43 619.5L257.81 620L257.35 620.5L257.07 621L256.85 621.5L256.66 622L256.5 622.5L256.37 623L256.27 623.5L256.19 624L256.15 624.5L256.11 625L256.07 625.5L256.04 626L256.01 626.5L255.99 627L255.97 627.5L255.96 628L255.96 628.5L255.96 716.1L255.66 716.1L255.66 628.5L255.66 628L255.65 627.5L255.64 627L255.62 626.5L255.59 626L255.56 625.5L255.52 625L255.48 624.5L255.43 624L255.36 623.5L255.25 623L255.12 622.5L254.96 622L254.77 621.5L254.56 621L254.28 620.5L253.81 620L253.2 619.5L252.47 619L251.6 618.5L250.39 618L249.12 617.5L248 617L246.9 616.5L245.96 616L245.28 615.5L244.71 615L244.28 614.5L244.35 614L244.81 613.5L245.4 613L246.13 612.5L247.12 612L248.22 611.5L249.37 611L250.65 610.5L251.81 610L252.62 609.5L253.33 609L253.92 608.5L254.35 608L254.6 607.5L254.81 607L255 606.5L255.15 606L255.28 605.5L255.37 605L255.44 604.5L255.49 604L255.53 603.5L255.56 603L255.6 602.5L255.62 602L255.64 601.5L255.66 601L255.66 600.5L255.66 600L255.66 512Z" fill="#df8920" stroke="#4d4d4d" stroke-width="5.2" stroke-linejoin="round"/>
<path d="M304.74 512L304.74 603L304.74 603.5L304.77 604L304.82 604.5L304.91 605L305.01 605.5L305.14 606L305.28 606.5L305.44 607L305.61 607.5L305.89 608L306.27 608.5L306.75 609L307.34 609.5L308.05 610L309.17 610.5L310.69 611L312.54 611.5L315.16 612L318.65 612.5L322.22 613L326.29 613.5L328.42 614L328.58 614.5L326.96 615L323.04 615.5L319.36 616L315.82 616.5L312.95 617L311.03 617.5L309.44 618L308.24 618.5L307.47 619L306.86 619.5L306.35 620L305.95 620.5L305.66 621L305.47 621.5L305.31 622L305.16 622.5L305.03 623L304.92 623.5L304.84 624L304.78 624.5L304.74 625L304.74 625.5L304.74 716.1L304.44 716.1L304.44 625.5L304.43 625L304.4 624.5L304.34 624L304.25 623.5L304.14 623L304.01 622.5L303.86 622L303.7 621.5L303.51 621L303.22 620.5L302.82 620L302.31 619.5L301.71 619L300.93 618.5L299.73 618L298.14 617.5L296.23 617L293.35 616.5L289.81 616L286.13 615.5L282.22 615L280.59 614.5L280.75 614L282.89 613.5L286.96 613L290.52 612.5L294.01 612L296.64 611.5L298.49 611L300 610.5L301.12 610L301.84 609.5L302.42 609L302.91 608.5L303.29 608L303.56 607.5L303.74 607L303.9 606.5L304.04 606L304.16 605.5L304.27 605L304.35 604.5L304.41 604L304.43 603.5L304.44 603L304.44 512Z" fill="#5573cd" stroke="#4d4d4d" stroke-width="5.2" stroke-linejoin="round"/>
<path d="M377.9 512L377.9 582L377.9 582.5L377.93 583L377.95 583.5L377.98 584L378.02 584.5L378.06 585L378.1 585.5L378.15 586L378.2 586.5L378.25 587L378.31 587.5L378.36 588L378.42 588.5L378.48 589L378.55 589.5L378.63 590L378.71 590.5L378.79 591L378.89 591.5L378.98 592L379.09 592.5L379.19 593L379.31 593.5L379.42 594L379.55 594.5L379.69 595L379.84 595.5L380.01 596L380.19 596.5L380.38 597L380.57 597.5L380.77 598L380.98 598.5L381.2 599L381.42 599.5L381.66 600L381.91 600.5L382.17 601L382.44 601.5L382.72 602L383.02 602.5L383.33 603L383.66 603.5L384.01 604L384.37 604.5L384.74 605L385.1 605.5L385.47 606L385.87 606.5L386.27 607L386.65 607.5L387.01 608L387.32 608.5L387.62 609L387.91 609.5L388.18 610L388.42 610.5L388.61 611L388.75 611.5L388.87 612L388.98 612.5L389.08 613L389.15 613.5L389.19 614L389.19 614.5L389.16 615L389.09 615.5L389 616L388.89 616.5L388.77 617L388.64 617.5L388.46 618L388.23 618.5L387.97 619L387.68 619.5L387.38 620L387.07 620.5L386.73 621L386.35 621.5L385.95 622L385.55 622.5L385.17 623L384.81 623.5L384.44 624L384.08 624.5L383.73 625L383.39 625.5L383.08 626L382.78 626.5L382.5 627L382.23 627.5L381.96 628L381.71 628.5L381.47 629L381.24 629.5L381.02 630L380.81 630.5L380.61 631L380.41 631.5L380.22 632L380.04 632.5L379.87 633L379.72 633.5L379.57 634L379.45 634.5L379.33 635L379.22 635.5L379.11 636L379 636.5L378.9 637L378.81 637.5L378.72 638L378.64 638.5L378.57 639L378.5 639.5L378.43 640L378.37 640.5L378.32 641L378.26 641.5L378.21 642L378.16 642.5L378.11 643L378.07 643.5L378.03 644L377.99 644.5L377.96 645L377.93 645.5L377.91 646L377.9 646.5L377.9 716.1L377.6 716.1L377.6 646.5L377.59 646L377.56 645.5L377.54 645L377.5 644.5L377.47 644L377.42 643.5L377.38 643L377.33 642.5L377.28 642L377.23 641.5L377.18 641L377.12 640.5L377.06 640L377 639.5L376.93 639L376.85 638.5L376.77 638L376.68 637.5L376.59 637L376.49 636.5L376.39 636L376.28 635.5L376.16 635L376.05 634.5L375.92 634L375.78 633.5L375.62 633L375.45 632.5L375.27 632L375.08 631.5L374.88 631L374.68 630.5L374.47 630L374.25 629.5L374.02 629L373.78 628.5L373.53 628L373.27 627.5L372.99 627L372.71 626.5L372.42 626L372.1 625.5L371.76 625L371.41 624.5L371.05 624L370.69 623.5L370.32 623L369.94 622.5L369.55 622L369.15 621.5L368.77 621L368.42 620.5L368.12 620L367.81 619.5L367.52 619L367.26 618.5L367.03 618L366.85 617.5L366.72 617L366.6 616.5L366.49 616L366.4 615.5L366.33 615L366.3 614.5L366.3 614L366.35 613.5L366.42 613L366.51 612.5L366.62 612L366.75 611.5L366.88 611L367.07 610.5L367.31 610L367.58 609.5L367.87 609L368.18 608.5L368.49 608L368.84 607.5L369.23 607L369.63 606.5L370.02 606L370.4 605.5L370.76 605L371.12 604.5L371.48 604L371.83 603.5L372.16 603L372.48 602.5L372.77 602L373.05 601.5L373.32 601L373.58 600.5L373.83 600L374.07 599.5L374.3 599L374.51 598.5L374.72 598L374.92 597.5L375.12 597L375.31 596.5L375.49 596L375.65 595.5L375.81 595L375.95 594.5L376.07 594L376.19 593.5L376.3 593L376.41 592.5L376.51 592L376.61 591.5L376.7 591L376.79 590.5L376.87 590L376.94 589.5L377.01 589L377.07 588.5L377.13 588L377.19 587.5L377.24 587L377.29 586.5L377.34 586L377.39 585.5L377.43 585L377.47 584.5L377.51 584L377.54 583.5L377.57 583L377.59 582.5L377.6 582L377.6 512Z" fill="#df8920" stroke="#4d4d4d" stroke-width="5.2" stroke-linejoin="round"/>
<path d="M426.67 512L426.67 592L426.67 592.5L426.67 593L426.68 593.5L426.7 594L426.71 594.5L426.73 595L426.76 595.5L426.79 596L426.82 596.5L426.85 597L426.89 597.5L426.95 598L427.03 598.5L427.14 599L427.26 599.5L427.41 600L427.57 600.5L427.75 601L427.95 601.5L428.21 602L428.54 602.5L428.94 603L429.42 603.5L430 604L430.94 604.5L432.19 605L433.54 605.5L434.78 606L436.01 606.5L437.28 607L438.57 607.5L439.88 608L441.18 608.5L442.47 609L443.72 609.5L444.94 610L446.1 610.5L447.19 611L448.23 611.5L449.35 612L450.24 612.5L450.52 613L450.61 613.5L450.66 614L450.67 614.5L450.62 615L450.54 615.5L450.35 616L449.56 616.5L448.45 617L447.4 617.5L446.33 618L445.18 618.5L443.97 619L442.72 619.5L441.44 620L440.14 620.5L438.83 621L437.54 621.5L436.26 622L435.02 622.5L433.8 623L432.46 623.5L431.17 624L430.15 624.5L429.53 625L429.03 625.5L428.61 626L428.27 626.5L428 627L427.79 627.5L427.61 628L427.44 628.5L427.29 629L427.16 629.5L427.05 630L426.96 630.5L426.9 631L426.86 631.5L426.82 632L426.79 632.5L426.76 633L426.74 633.5L426.72 634L426.7 634.5L426.69 635L426.68 635.5L426.67 636L426.67 636.5L426.67 716.1L426.37 716.1L426.37 636.5L426.37 636L426.36 635.5L426.35 635L426.34 634.5L426.32 634L426.3 633.5L426.28 633L426.25 632.5L426.22 632L426.18 631.5L426.14 631L426.08 630.5L425.99 630L425.88 629.5L425.75 629L425.6 628.5L425.43 628L425.25 627.5L425.04 627L424.77 626.5L424.43 626L424.01 625.5L423.51 625L422.89 624.5L421.87 624L420.58 623.5L419.24 623L418.02 622.5L416.78 622L415.5 621.5L414.21 621L412.9 620.5L411.6 620L410.32 619.5L409.07 619L407.86 618.5L406.71 618L405.64 617.5L404.59 617L403.48 616.5L402.69 616L402.5 615.5L402.42 615L402.37 614.5L402.38 614L402.43 613.5L402.52 613L402.8 612.5L403.69 612L404.81 611.5L405.85 611L406.94 610.5L408.1 610L409.32 609.5L410.57 609L411.86 608.5L413.16 608L414.47 607.5L415.76 607L417.03 606.5L418.26 606L419.5 605.5L420.85 605L422.1 604.5L423.04 604L423.62 603.5L424.1 603L424.5 602.5L424.83 602L425.09 601.5L425.29 601L425.47 600.5L425.63 600L425.78 599.5L425.9 599L426.01 598.5L426.09 598L426.15 597.5L426.19 597L426.22 596.5L426.25 596L426.28 595.5L426.31 595L426.33 594.5L426.34 594L426.36 593.5L426.37 593L426.37 592.5L426.37 592L426.37 512Z" fill="#5573cd" stroke="#4d4d4d" stroke-width="5.2" stroke-linejoin="round"/>
<path d="M499.83 512L499.83 554L499.83 554.5L499.85 555L499.87 555.5L499.88 556L499.91 556.5L499.93 557L499.95 557.5L499.98 558L500.01 558.5L500.04 559L500.07 559.5L500.1 560L500.14 560.5L500.17 561L500.21 561.5L500.25 562L500.29 562.5L500.32 563L500.36 563.5L500.41 564L500.45 564.5L500.49 565L500.54 565.5L500.59 566L500.64 566.5L500.7 567L500.76 567.5L500.82 568L500.88 568.5L500.95 569L501.02 569.5L501.09 570L501.16 570.5L501.23 571L501.31 571.5L501.38 572L501.46 572.5L501.54 573L501.63 573.5L501.72 574L501.82 574.5L501.92 575L502.02 575.5L502.12 576L502.23 576.5L502.34 577L502.44 577.5L502.55 578L502.66 578.5L502.77 579L502.87 579.5L502.98 580L503.08 580.5L503.19 581L503.3 581.5L503.4 582L503.51 582.5L503.63 583L503.74 583.5L503.86 584L503.98 584.5L504.1 585L504.23 585.5L504.35 586L504.48 586.5L504.61 587L504.75 587.5L504.88 588L505.02 588.5L505.16 589L505.3 589.5L505.44 590L505.59 590.5L505.74 591L505.89 591.5L506.04 592L506.2 592.5L506.36 593L506.52 593.5L506.69 594L506.85 594.5L507.01 595L507.17 595.5L507.33 596L507.49 596.5L507.65 597L507.82 597.5L507.98 598L508.15 598.5L508.31 599L508.47 599.5L508.63 600L508.79 600.5L508.95 601L509.1 601.5L509.25 602L509.39 602.5L509.53 603L509.67 603.5L509.82 604L509.96 604.5L510.1 605L510.24 605.5L510.36 606L510.49 606.5L510.6 607L510.7 607.5L510.78 608L510.86 608.5L510.93 609L511 609.5L511.06 610L511.13 610.5L511.19 611L511.24 611.5L511.29 612L511.33 612.5L511.37 613L511.4 613.5L511.42 614L511.42 614.5L511.4 615L511.38 615.5L511.34 616L511.3 616.5L511.25 617L511.2 617.5L511.14 618L511.08 618.5L511.01 619L510.94 619.5L510.87 620L510.8 620.5L510.72 621L510.62 621.5L510.51 622L510.39 622.5L510.26 623L510.13 623.5L509.99 624L509.85 624.5L509.7 625L509.56 625.5L509.41 626L509.27 626.5L509.13 627L508.98 627.5L508.82 628L508.67 628.5L508.51 629L508.34 629.5L508.18 630L508.01 630.5L507.85 631L507.69 631.5L507.53 632L507.37 632.5L507.21 633L507.04 633.5L506.88 634L506.72 634.5L506.56 635L506.4 635.5L506.23 636L506.08 636.5L505.92 637L505.77 637.5L505.62 638L505.47 638.5L505.33 639L505.19 639.5L505.05 640L504.91 640.5L504.77 641L504.64 641.5L504.51 642L504.38 642.5L504.25 643L504.13 643.5L504 644L503.88 644.5L503.76 645L503.65 645.5L503.54 646L503.43 646.5L503.32 647L503.21 647.5L503.1 648L503 648.5L502.89 649L502.79 649.5L502.68 650L502.57 650.5L502.47 651L502.36 651.5L502.25 652L502.14 652.5L502.04 653L501.94 653.5L501.84 654L501.74 654.5L501.65 655L501.56 655.5L501.48 656L501.4 656.5L501.32 657L501.25 657.5L501.17 658L501.1 658.5L501.03 659L500.96 659.5L500.9 660L500.83 660.5L500.77 661L500.71 661.5L500.65 662L500.6 662.5L500.55 663L500.5 663.5L500.46 664L500.41 664.5L500.37 665L500.33 665.5L500.29 666L500.25 666.5L500.22 667L500.18 667.5L500.14 668L500.11 668.5L500.08 669L500.04 669.5L500.01 670L499.99 670.5L499.96 671L499.93 671.5L499.91 672L499.89 672.5L499.87 673L499.85 673.5L499.84 674L499.83 674.5L499.83 716.1L499.53 716.1L499.53 674.5L499.52 674L499.51 673.5L499.49 673L499.47 672.5L499.45 672L499.43 671.5L499.4 671L499.37 670.5L499.35 670L499.32 669.5L499.28 669L499.25 668.5L499.22 668L499.18 667.5L499.14 667L499.11 666.5L499.07 666L499.03 665.5L498.99 665L498.95 664.5L498.9 664L498.86 663.5L498.81 663L498.76 662.5L498.71 662L498.65 661.5L498.59 661L498.53 660.5L498.46 660L498.4 659.5L498.33 659L498.26 658.5L498.19 658L498.11 657.5L498.04 657L497.96 656.5L497.88 656L497.8 655.5L497.71 655L497.62 654.5L497.52 654L497.42 653.5L497.32 653L497.22 652.5L497.11 652L497 651.5L496.89 651L496.79 650.5L496.68 650L496.57 649.5L496.47 649L496.36 648.5L496.26 648L496.15 647.5L496.04 647L495.93 646.5L495.82 646L495.71 645.5L495.6 645L495.48 644.5L495.36 644L495.23 643.5L495.11 643L494.98 642.5L494.85 642L494.72 641.5L494.59 641L494.45 640.5L494.31 640L494.17 639.5L494.03 639L493.89 638.5L493.74 638L493.59 637.5L493.44 637L493.28 636.5L493.13 636L492.96 635.5L492.8 635L492.64 634.5L492.48 634L492.32 633.5L492.15 633L491.99 632.5L491.83 632L491.67 631.5L491.51 631L491.35 630.5L491.18 630L491.02 629.5L490.85 629L490.69 628.5L490.54 628L490.38 627.5L490.23 627L490.09 626.5L489.95 626L489.8 625.5L489.66 625L489.51 624.5L489.37 624L489.23 623.5L489.1 623L488.97 622.5L488.85 622L488.74 621.5L488.64 621L488.56 620.5L488.49 620L488.42 619.5L488.35 619L488.28 618.5L488.22 618L488.16 617.5L488.11 617L488.06 616.5L488.02 616L487.98 615.5L487.96 615L487.94 614.5L487.94 614L487.96 613.5L487.99 613L488.03 612.5L488.07 612L488.12 611.5L488.17 611L488.23 610.5L488.3 610L488.36 609.5L488.43 609L488.5 608.5L488.58 608L488.66 607.5L488.76 607L488.87 606.5L489 606L489.12 605.5L489.26 605L489.4 604.5L489.54 604L489.69 603.5L489.83 603L489.97 602.5L490.11 602L490.26 601.5L490.41 601L490.57 600.5L490.73 600L490.89 599.5L491.05 599L491.21 598.5L491.38 598L491.54 597.5L491.71 597L491.87 596.5L492.03 596L492.19 595.5L492.35 595L492.51 594.5L492.67 594L492.84 593.5L493 593L493.16 592.5L493.32 592L493.47 591.5L493.62 591L493.77 590.5L493.92 590L494.06 589.5L494.2 589L494.34 588.5L494.48 588L494.61 587.5L494.75 587L494.88 586.5L495.01 586L495.13 585.5L495.26 585L495.38 584.5L495.5 584L495.62 583.5L495.73 583L495.85 582.5L495.96 582L496.06 581.5L496.17 581L496.28 580.5L496.38 580L496.49 579.5L496.59 579L496.7 578.5L496.81 578L496.92 577.5L497.02 577L497.13 576.5L497.24 576L497.34 575.5L497.44 575L497.54 574.5L497.64 574L497.73 573.5L497.82 573L497.9 572.5L497.98 572L498.05 571.5L498.13 571L498.2 570.5L498.27 570L498.34 569.5L498.41 569L498.48 568.5L498.54 568L498.6 567.5L498.66 567L498.72 566.5L498.77 566L498.82 565.5L498.87 565L498.91 564.5L498.95 564L499 563.5L499.04 563L499.07 562.5L499.11 562L499.15 561.5L499.19 561L499.22 560.5L499.26 560L499.29 559.5L499.32 559L499.35 558.5L499.38 558L499.41 557.5L499.43 557L499.45 556.5L499.48 556L499.49 555.5L499.51 555L499.53 554.5L499.53 554L499.53 512Z" fill="#df8920" stroke="#4d4d4d" stroke-width="5.2" stroke-linejoin="round"/>
<path d="M548.6 512L548.6 570L548.6 570.5L548.61 571L548.62 571.5L548.63 572L548.64 572.5L548.66 573L548.69 573.5L548.71 574L548.74 574.5L548.77 575L548.8 575.5L548.83 576L548.87 576.5L548.91 577L548.94 577.5L548.98 578L549.02 578.5L549.06 579L549.11 579.5L549.17 580L549.23 580.5L549.3 581L549.37 581.5L549.45 582L549.53 582.5L549.62 583L549.72 583.5L549.82 584L549.92 584.5L550.03 585L550.15 585.5L550.29 586L550.45 586.5L550.64 587L550.84 587.5L551.06 588L551.29 588.5L551.54 589L551.8 589.5L552.07 590L552.39 590.5L552.74 591L553.12 591.5L553.53 592L553.95 592.5L554.38 593L554.84 593.5L555.34 594L555.86 594.5L556.4 595L556.94 595.5L557.48 596L558.02 596.5L558.56 597L559.1 597.5L559.65 598L560.21 598.5L560.76 599L561.32 599.5L561.87 600L562.43 600.5L563 601L563.58 601.5L564.17 602L564.74 602.5L565.31 603L565.84 603.5L566.33 604L566.78 604.5L567.2 605L567.61 605.5L568.01 606L568.39 606.5L568.75 607L569.1 607.5L569.43 608L569.74 608.5L570.04 609L570.31 609.5L570.56 610L570.78 610.5L570.99 611L571.19 611.5L571.4 612L571.62 612.5L571.85 613L572.11 613.5L572.41 614L572.48 614.5L572.17 615L571.9 615.5L571.66 616L571.44 616.5L571.23 617L571.03 617.5L570.82 618L570.6 618.5L570.36 619L570.09 619.5L569.8 620L569.49 620.5L569.17 621L568.82 621.5L568.46 622L568.09 622.5L567.69 623L567.29 623.5L566.86 624L566.42 624.5L565.94 625L565.41 625.5L564.86 626L564.28 626.5L563.7 627L563.11 627.5L562.54 628L561.98 628.5L561.43 629L560.87 629.5L560.32 630L559.76 630.5L559.21 631L558.66 631.5L558.12 632L557.59 632.5L557.05 633L556.51 633.5L555.97 634L555.44 634.5L554.94 635L554.47 635.5L554.03 636L553.61 636.5L553.2 637L552.81 637.5L552.46 638L552.13 638.5L551.85 639L551.59 639.5L551.34 640L551.1 640.5L550.88 641L550.67 641.5L550.49 642L550.32 642.5L550.18 643L550.06 643.5L549.94 644L549.84 644.5L549.74 645L549.64 645.5L549.55 646L549.46 646.5L549.38 647L549.31 647.5L549.24 648L549.18 648.5L549.12 649L549.07 649.5L549.03 650L548.99 650.5L548.95 651L548.91 651.5L548.88 652L548.84 652.5L548.81 653L548.77 653.5L548.74 654L548.72 654.5L548.69 655L548.67 655.5L548.65 656L548.63 656.5L548.62 657L548.61 657.5L548.6 658L548.6 658.5L548.6 716.1L548.3 716.1L548.3 658.5L548.3 658L548.3 657.5L548.29 657L548.28 656.5L548.26 656L548.24 655.5L548.22 655L548.19 654.5L548.16 654L548.13 653.5L548.1 653L548.07 652.5L548.03 652L547.99 651.5L547.96 651L547.92 650.5L547.88 650L547.83 649.5L547.78 649L547.73 648.5L547.66 648L547.6 647.5L547.52 647L547.44 646.5L547.36 646L547.27 645.5L547.17 645L547.07 644.5L546.96 644L546.85 643.5L546.73 643L546.58 642.5L546.42 642L546.23 641.5L546.03 641L545.8 640.5L545.57 640L545.32 639.5L545.06 639L544.77 638.5L544.45 638L544.09 637.5L543.71 637L543.3 636.5L542.87 636L542.44 635.5L541.97 635L541.46 634.5L540.94 634L540.4 633.5L539.86 633L539.32 632.5L538.78 632L538.24 631.5L537.7 631L537.14 630.5L536.59 630L536.03 629.5L535.48 629L534.92 628.5L534.37 628L533.79 627.5L533.21 627L532.62 626.5L532.05 626L531.49 625.5L530.97 625L530.48 624.5L530.04 624L529.62 623.5L529.21 623L528.82 622.5L528.44 622L528.08 621.5L527.74 621L527.41 620.5L527.11 620L526.81 619.5L526.54 619L526.3 618.5L526.08 618L525.87 617.5L525.67 617L525.47 616.5L525.25 616L525.01 615.5L524.74 615L524.43 614.5L524.49 614L524.79 613.5L525.06 613L525.29 612.5L525.51 612L525.71 611.5L525.92 611L526.13 610.5L526.35 610L526.6 609.5L526.87 609L527.17 608.5L527.48 608L527.81 607.5L528.15 607L528.52 606.5L528.9 606L529.29 605.5L529.7 605L530.13 604.5L530.58 604L531.07 603.5L531.6 603L532.16 602.5L532.74 602L533.33 601.5L533.91 601L534.48 600.5L535.03 600L535.59 599.5L536.14 599L536.7 598.5L537.25 598L537.81 597.5L538.35 597L538.89 596.5L539.42 596L539.97 595.5L540.51 595L541.05 594.5L541.57 594L542.06 593.5L542.53 593L542.96 592.5L543.38 592L543.78 591.5L544.17 591L544.52 590.5L544.83 590L545.11 589.5L545.37 589L545.62 588.5L545.85 588L546.07 587.5L546.27 587L546.45 586.5L546.62 586L546.75 585.5L546.87 585L546.98 584.5L547.09 584L547.19 583.5L547.29 583L547.38 582.5L547.46 582L547.54 581.5L547.61 581L547.68 580.5L547.74 580L547.79 579.5L547.84 579L547.89 578.5L547.93 578L547.96 577.5L548 577L548.04 576.5L548.07 576L548.11 575.5L548.14 575L548.17 574.5L548.2 574L548.22 573.5L548.24 573L548.26 572.5L548.28 572L548.29 571.5L548.3 571L548.3 570.5L548.3 570L548.3 512Z" fill="#5573cd" stroke="#4d4d4d" stroke-width="5.2" stroke-linejoin="round"/>
<path d="M623.38 512L623.38 512.5L623.38 513L623.38 513.5L623.38 514L623.38 514.5L623.38 515L623.38 515.5L623.39 516L623.39 516.5L623.39 517L623.39 517.5L623.39 518L623.39 518.5L623.39 519L623.39 519.5L623.39 520L623.4 520.5L623.4 521L623.4 521.5L623.4 522L623.4 522.5L623.4 523L623.4 523.5L623.41 524L623.41 524.5L623.41 525L623.41 525.5L623.41 526L623.41 526.5L623.42 527L623.42 527.5L623.43 528L623.43 528.5L623.44 529L623.45 529.5L623.46 530L623.47 530.5L623.48 531L623.5 531.5L623.51 532L623.53 532.5L623.54 533L623.56 533.5L623.57 534L623.59 534.5L623.61 535L623.62 535.5L623.64 536L623.66 536.5L623.68 537L623.7 537.5L623.72 538L623.73 538.5L623.75 539L623.77 539.5L623.79 540L623.81 540.5L623.83 541L623.85 541.5L623.88 542L623.9 542.5L623.93 543L623.95 543.5L623.98 544L624.01 544.5L624.04 545L624.06 545.5L624.09 546L624.12 546.5L624.15 547L624.18 547.5L624.21 548L624.24 548.5L624.28 549L624.31 549.5L624.34 550L624.38 550.5L624.41 551L624.45 551.5L624.49 552L624.52 552.5L624.56 553L624.6 553.5L624.64 554L624.68 554.5L624.72 555L624.76 555.5L624.79 556L624.83 556.5L624.87 557L624.91 557.5L624.95 558L624.99 558.5L625.04 559L625.08 559.5L625.13 560L625.17 560.5L625.22 561L625.28 561.5L625.33 562L625.39 562.5L625.45 563L625.51 563.5L625.58 564L625.65 564.5L625.73 565L625.8 565.5L625.88 566L625.97 566.5L626.05 567L626.14 567.5L626.23 568L626.32 568.5L626.42 569L626.51 569.5L626.61 570L626.7 570.5L626.8 571L626.91 571.5L627.02 572L627.13 572.5L627.25 573L627.37 573.5L627.49 574L627.62 574.5L627.74 575L627.87 575.5L627.99 576L628.11 576.5L628.24 577L628.37 577.5L628.5 578L628.63 578.5L628.76 579L628.89 579.5L629.03 580L629.16 580.5L629.3 581L629.43 581.5L629.57 582L629.7 582.5L629.83 583L629.96 583.5L630.09 584L630.21 584.5L630.34 585L630.47 585.5L630.59 586L630.72 586.5L630.85 587L630.97 587.5L631.1 588L631.22 588.5L631.35 589L631.47 589.5L631.59 590L631.71 590.5L631.83 591L631.95 591.5L632.06 592L632.18 592.5L632.29 593L632.4 593.5L632.5 594L632.6 594.5L632.71 595L632.81 595.5L632.92 596L633.03 596.5L633.13 597L633.24 597.5L633.34 598L633.45 598.5L633.55 599L633.65 599.5L633.74 600L633.83 600.5L633.92 601L634 601.5L634.08 602L634.16 602.5L634.22 603L634.28 603.5L634.33 604L634.38 604.5L634.43 605L634.47 605.5L634.51 606L634.56 606.5L634.6 607L634.64 607.5L634.68 608L634.72 608.5L634.76 609L634.79 609.5L634.82 610L634.85 610.5L634.88 611L634.9 611.5L634.92 612L634.94 612.5L634.95 613L634.96 613.5L634.96 614L634.96 614.5L634.96 615L634.95 615.5L634.94 616L634.92 616.5L634.9 617L634.88 617.5L634.86 618L634.83 618.5L634.8 619L634.76 619.5L634.73 620L634.69 620.5L634.65 621L634.61 621.5L634.57 622L634.52 622.5L634.48 623L634.44 623.5L634.39 624L634.34 624.5L634.29 625L634.23 625.5L634.17 626L634.1 626.5L634.02 627L633.94 627.5L633.85 628L633.76 628.5L633.66 629L633.56 629.5L633.46 630L633.36 630.5L633.26 631L633.15 631.5L633.04 632L632.94 632.5L632.83 633L632.73 633.5L632.62 634L632.52 634.5L632.42 635L632.32 635.5L632.21 636L632.1 636.5L631.99 637L631.88 637.5L631.77 638L631.66 638.5L631.54 639L631.42 639.5L631.31 640L631.19 640.5L631.07 641L630.95 641.5L630.83 642L630.71 642.5L630.58 643L630.46 643.5L630.34 644L630.21 644.5L630.09 645L629.96 645.5L629.83 646L629.69 646.5L629.56 647L629.42 647.5L629.28 648L629.15 648.5L629.01 649L628.88 649.5L628.74 650L628.61 650.5L628.47 651L628.34 651.5L628.2 652L628.06 652.5L627.92 653L627.78 653.5L627.65 654L627.52 654.5L627.39 655L627.28 655.5L627.16 656L627.06 656.5L626.95 657L626.85 657.5L626.75 658L626.65 658.5L626.55 659L626.46 659.5L626.37 660L626.28 660.5L626.19 661L626.11 661.5L626.02 662L625.94 662.5L625.86 663L625.78 663.5L625.71 664L625.63 664.5L625.56 665L625.49 665.5L625.42 666L625.35 666.5L625.28 667L625.21 667.5L625.15 668L625.08 668.5L625.02 669L624.96 669.5L624.9 670L624.85 670.5L624.79 671L624.74 671.5L624.69 672L624.65 672.5L624.6 673L624.56 673.5L624.52 674L624.48 674.5L624.44 675L624.41 675.5L624.37 676L624.34 676.5L624.3 677L624.27 677.5L624.23 678L624.2 678.5L624.16 679L624.12 679.5L624.09 680L624.05 680.5L624.01 681L623.97 681.5L623.93 682L623.9 682.5L623.86 683L623.83 683.5L623.79 684L623.76 684.5L623.73 685L623.7 685.5L623.68 686L623.65 686.5L623.63 687L623.61 687.5L623.59 688L623.56 688.5L623.54 689L623.52 689.5L623.5 690L623.48 690.5L623.46 691L623.44 691.5L623.42 692L623.4 692.5L623.38 693L623.37 693.5L623.35 694L623.34 694.5L623.32 695L623.31 695.5L623.3 696L623.29 696.5L623.28 697L623.27 697.5L623.27 698L623.26 698.5L623.26 699L623.25 699.5L623.25 700L623.25 700.5L623.24 701L623.24 701.5L623.23 702L623.23 702.5L623.23 703L623.22 703.5L623.22 704L623.22 704.5L623.21 705L623.21 705.5L623.21 706L623.2 706.5L623.2 707L623.2 707.5L623.19 708L623.19 708.5L623.19 709L623.18 709.5L623.18 710L623.18 710.5L623.18 711L623.17 711.5L623.17 712L623.17 712.5L623.16 713L623.16 713.5L623.16 714L623.16 714.5L623.16 715L623.15 715.5L623.15 716L623.15 716.1L620.08 716.1L620.08 716L620.07 715.5L620.07 715L620.07 714.5L620.07 714L620.06 713.5L620.06 713L620.06 712.5L620.06 712L620.05 711.5L620.05 711L620.05 710.5L620.05 710L620.04 709.5L620.04 709L620.04 708.5L620.03 708L620.03 707.5L620.03 707L620.02 706.5L620.02 706L620.02 705.5L620.01 705L620.01 704.5L620.01 704L620 703.5L620 703L620 702.5L619.99 702L619.99 701.5L619.99 701L619.98 700.5L619.98 700L619.97 699.5L619.97 699L619.97 698.5L619.96 698L619.95 697.5L619.95 697L619.94 696.5L619.93 696L619.92 695.5L619.9 695L619.89 694.5L619.88 694L619.86 693.5L619.84 693L619.83 692.5L619.81 692L619.79 691.5L619.77 691L619.75 690.5L619.73 690L619.71 689.5L619.69 689L619.66 688.5L619.64 688L619.62 687.5L619.6 687L619.57 686.5L619.55 686L619.52 685.5L619.5 685L619.47 684.5L619.43 684L619.4 683.5L619.36 683L619.33 682.5L619.29 682L619.25 681.5L619.22 681L619.18 680.5L619.14 680L619.1 679.5L619.06 679L619.03 678.5L618.99 678L618.96 677.5L618.92 677L618.89 676.5L618.85 676L618.82 675.5L618.78 675L618.75 674.5L618.71 674L618.67 673.5L618.63 673L618.58 672.5L618.54 672L618.49 671.5L618.43 671L618.38 670.5L618.32 670L618.27 669.5L618.21 669L618.14 668.5L618.08 668L618.01 667.5L617.95 667L617.88 666.5L617.81 666L617.74 665.5L617.67 665L617.59 664.5L617.52 664L617.44 663.5L617.37 663L617.29 662.5L617.2 662L617.12 661.5L617.04 661L616.95 660.5L616.86 660L616.77 659.5L616.67 659L616.58 658.5L616.48 658L616.38 657.5L616.28 657L616.17 656.5L616.06 656L615.95 655.5L615.83 655L615.71 654.5L615.58 654L615.44 653.5L615.31 653L615.17 652.5L615.03 652L614.89 651.5L614.75 651L614.62 650.5L614.48 650L614.35 649.5L614.21 649L614.08 648.5L613.94 648L613.81 647.5L613.67 647L613.53 646.5L613.4 646L613.27 645.5L613.14 645L613.01 644.5L612.89 644L612.77 643.5L612.64 643L612.52 642.5L612.4 642L612.28 641.5L612.16 641L612.04 640.5L611.92 640L611.8 639.5L611.69 639L611.57 638.5L611.46 638L611.34 637.5L611.23 637L611.12 636.5L611.02 636L610.91 635.5L610.81 635L610.7 634.5L610.6 634L610.5 633.5L610.39 633L610.29 632.5L610.18 632L610.08 631.5L609.97 631L609.87 630.5L609.76 630L609.66 629.5L609.56 629L609.47 628.5L609.38 628L609.29 627.5L609.21 627L609.13 626.5L609.06 626L608.99 625.5L608.93 625L608.88 624.5L608.84 624L608.79 623.5L608.75 623L608.7 622.5L608.66 622L608.62 621.5L608.58 621L608.54 620.5L608.5 620L608.46 619.5L608.43 619L608.4 618.5L608.37 618L608.35 617.5L608.32 617L608.3 616.5L608.29 616L608.28 615.5L608.27 615L608.26 614.5L608.26 614L608.27 613.5L608.28 613L608.29 612.5L608.31 612L608.33 611.5L608.35 611L608.38 610.5L608.41 610L608.44 609.5L608.47 609L608.51 608.5L608.55 608L608.59 607.5L608.63 607L608.67 606.5L608.71 606L608.76 605.5L608.8 605L608.85 604.5L608.89 604L608.94 603.5L609 603L609.07 602.5L609.14 602L609.22 601.5L609.31 601L609.39 600.5L609.48 600L609.58 599.5L609.68 599L609.78 598.5L609.88 598L609.99 597.5L610.09 597L610.2 596.5L610.31 596L610.41 595.5L610.52 595L610.62 594.5L610.73 594L610.83 593.5L610.94 593L611.05 592.5L611.16 592L611.28 591.5L611.4 591L611.52 590.5L611.64 590L611.76 589.5L611.88 589L612 588.5L612.13 588L612.25 587.5L612.38 587L612.51 586.5L612.63 586L612.76 585.5L612.89 585L613.01 584.5L613.14 584L613.27 583.5L613.4 583L613.53 582.5L613.66 582L613.8 581.5L613.93 581L614.06 580.5L614.2 580L614.33 579.5L614.47 579L614.6 578.5L614.73 578L614.86 577.5L614.99 577L615.11 576.5L615.24 576L615.36 575.5L615.49 575L615.61 574.5L615.73 574L615.85 573.5L615.97 573L616.09 572.5L616.21 572L616.32 571.5L616.42 571L616.52 570.5L616.62 570L616.72 569.5L616.81 569L616.9 568.5L617 568L617.09 567.5L617.17 567L617.26 566.5L617.34 566L617.42 565.5L617.5 565L617.58 564.5L617.65 564L617.72 563.5L617.78 563L617.84 562.5L617.9 562L617.95 561.5L618 561L618.05 560.5L618.1 560L618.15 559.5L618.19 559L618.23 558.5L618.27 558L618.31 557.5L618.35 557L618.39 556.5L618.43 556L618.47 555.5L618.51 555L618.55 554.5L618.59 554L618.63 553.5L618.66 553L618.7 552.5L618.74 552L618.78 551.5L618.81 551L618.85 550.5L618.88 550L618.92 549.5L618.95 549L618.98 548.5L619.01 548L619.04 547.5L619.07 547L619.1 546.5L619.13 546L619.16 545.5L619.19 545L619.22 544.5L619.25 544L619.27 543.5L619.3 543L619.32 542.5L619.35 542L619.37 541.5L619.39 541L619.42 540.5L619.44 540L619.46 539.5L619.47 539L619.49 538.5L619.51 538L619.53 537.5L619.55 537L619.57 536.5L619.58 536L619.6 535.5L619.62 535L619.64 534.5L619.65 534L619.67 533.5L619.69 533L619.7 532.5L619.72 532L619.73 531.5L619.74 531L619.75 530.5L619.77 530L619.78 529.5L619.78 529L619.79 528.5L619.8 528L619.81 527.5L619.81 527L619.81 526.5L619.81 526L619.82 525.5L619.82 525L619.82 524.5L619.82 524L619.82 523.5L619.82 523L619.83 522.5L619.83 522L619.83 521.5L619.83 521L619.83 520.5L619.83 520L619.83 519.5L619.83 519L619.84 518.5L619.84 518L619.84 517.5L619.84 517L619.84 516.5L619.84 516L619.84 515.5L619.84 515L619.84 514.5L619.85 514L619.85 513.5L619.85 513L619.85 512.5L619.85 512Z" fill="#df8920" stroke="#4d4d4d" stroke-width="5.2" stroke-linejoin="round"/>
<path d="M671.11 512L671.11 512.5L671.11 513L671.11 513.5L671.11 514L671.11 514.5L671.11 515L671.11 515.5L671.12 516L671.12 516.5L671.12 517L671.12 517.5L671.12 518L671.12 518.5L671.12 519L671.13 519.5L671.13 520L671.13 520.5L671.13 521L671.13 521.5L671.13 522L671.14 522.5L671.14 523L671.14 523.5L671.14 524L671.14 524.5L671.15 525L671.15 525.5L671.15 526L671.15 526.5L671.15 527L671.16 527.5L671.16 528L671.16 528.5L671.16 529L671.16 529.5L671.17 530L671.17 530.5L671.17 531L671.17 531.5L671.18 532L671.18 532.5L671.18 533L671.18 533.5L671.19 534L671.19 534.5L671.19 535L671.19 535.5L671.2 536L671.2 536.5L671.21 537L671.22 537.5L671.22 538L671.23 538.5L671.24 539L671.25 539.5L671.26 540L671.27 540.5L671.28 541L671.29 541.5L671.3 542L671.31 542.5L671.32 543L671.33 543.5L671.35 544L671.36 544.5L671.37 545L671.39 545.5L671.4 546L671.42 546.5L671.43 547L671.45 547.5L671.46 548L671.48 548.5L671.49 549L671.51 549.5L671.53 550L671.54 550.5L671.56 551L671.58 551.5L671.6 552L671.62 552.5L671.65 553L671.67 553.5L671.7 554L671.73 554.5L671.76 555L671.79 555.5L671.82 556L671.85 556.5L671.88 557L671.92 557.5L671.96 558L671.99 558.5L672.03 559L672.07 559.5L672.11 560L672.15 560.5L672.2 561L672.24 561.5L672.29 562L672.34 562.5L672.4 563L672.46 563.5L672.52 564L672.58 564.5L672.65 565L672.73 565.5L672.81 566L672.89 566.5L672.98 567L673.08 567.5L673.19 568L673.33 568.5L673.48 569L673.65 569.5L673.83 570L674.01 570.5L674.23 571L674.48 571.5L674.74 572L675.02 572.5L675.31 573L675.59 573.5L675.87 574L676.14 574.5L676.41 575L676.69 575.5L676.96 576L677.23 576.5L677.51 577L677.78 577.5L678.06 578L678.34 578.5L678.61 579L678.89 579.5L679.17 580L679.45 580.5L679.73 581L680 581.5L680.28 582L680.56 582.5L680.84 583L681.12 583.5L681.4 584L681.68 584.5L681.96 585L682.24 585.5L682.53 586L682.81 586.5L683.09 587L683.38 587.5L683.66 588L683.95 588.5L684.24 589L684.54 589.5L684.84 590L685.14 590.5L685.45 591L685.75 591.5L686.05 592L686.36 592.5L686.66 593L686.96 593.5L687.25 594L687.54 594.5L687.83 595L688.11 595.5L688.38 596L688.64 596.5L688.9 597L689.17 597.5L689.43 598L689.69 598.5L689.95 599L690.2 599.5L690.45 600L690.7 600.5L690.94 601L691.17 601.5L691.4 602L691.62 602.5L691.83 603L692.03 603.5L692.23 604L692.41 604.5L692.59 605L692.78 605.5L692.96 606L693.13 606.5L693.3 607L693.46 607.5L693.62 608L693.76 608.5L693.88 609L694 609.5L694.09 610L694.17 610.5L694.24 611L694.3 611.5L694.37 612L694.42 612.5L694.47 613L694.5 613.5L694.53 614L694.53 614.5L694.51 615L694.48 615.5L694.43 616L694.38 616.5L694.32 617L694.25 617.5L694.18 618L694.11 618.5L694.02 619L693.91 619.5L693.79 620L693.65 620.5L693.5 621L693.34 621.5L693.17 622L693 622.5L692.82 623L692.63 623.5L692.45 624L692.26 624.5L692.06 625L691.86 625.5L691.64 626L691.41 626.5L691.17 627L690.92 627.5L690.67 628L690.41 628.5L690.14 629L689.87 629.5L689.6 630L689.33 630.5L689.05 631L688.78 631.5L688.5 632L688.23 632.5L687.95 633L687.66 633.5L687.37 634L687.07 634.5L686.77 635L686.46 635.5L686.16 636L685.85 636.5L685.54 637L685.23 637.5L684.92 638L684.61 638.5L684.31 639L684.01 639.5L683.71 640L683.42 640.5L683.13 641L682.85 641.5L682.56 642L682.28 642.5L682 643L681.72 643.5L681.44 644L681.16 644.5L680.88 645L680.61 645.5L680.33 646L680.05 646.5L679.77 647L679.49 647.5L679.21 648L678.92 648.5L678.63 649L678.33 649.5L678.02 650L677.71 650.5L677.4 651L677.09 651.5L676.77 652L676.47 652.5L676.17 653L675.88 653.5L675.6 654L675.33 654.5L675.08 655L674.85 655.5L674.64 656L674.44 656.5L674.25 657L674.07 657.5L673.9 658L673.75 658.5L673.61 659L673.49 659.5L673.38 660L673.29 660.5L673.2 661L673.12 661.5L673.04 662L672.95 662.5L672.87 663L672.79 663.5L672.71 664L672.63 664.5L672.55 665L672.47 665.5L672.4 666L672.33 666.5L672.27 667L672.22 667.5L672.16 668L672.12 668.5L672.08 669L672.04 669.5L672 670L671.96 670.5L671.92 671L671.89 671.5L671.85 672L671.82 672.5L671.79 673L671.76 673.5L671.73 674L671.71 674.5L671.68 675L671.66 675.5L671.63 676L671.61 676.5L671.59 677L671.57 677.5L671.55 678L671.53 678.5L671.51 679L671.49 679.5L671.48 680L671.46 680.5L671.44 681L671.42 681.5L671.41 682L671.39 682.5L671.37 683L671.36 683.5L671.34 684L671.33 684.5L671.31 685L671.3 685.5L671.28 686L671.27 686.5L671.26 687L671.24 687.5L671.23 688L671.22 688.5L671.21 689L671.2 689.5L671.19 690L671.18 690.5L671.17 691L671.16 691.5L671.16 692L671.15 692.5L671.15 693L671.14 693.5L671.14 694L671.14 694.5L671.13 695L671.13 695.5L671.13 696L671.13 696.5L671.12 697L671.12 697.5L671.12 698L671.12 698.5L671.11 699L671.11 699.5L671.11 700L671.11 700.5L671.11 701L671.1 701.5L671.1 702L671.1 702.5L671.1 703L671.1 703.5L671.09 704L671.09 704.5L671.09 705L671.09 705.5L671.09 706L671.08 706.5L671.08 707L671.08 707.5L671.08 708L671.08 708.5L671.08 709L671.07 709.5L671.07 710L671.07 710.5L671.07 711L671.07 711.5L671.07 712L671.07 712.5L671.06 713L671.06 713.5L671.06 714L671.06 714.5L671.06 715L671.06 715.5L671.06 716L671.06 716.1L669.72 716.1L669.72 716L669.72 715.5L669.71 715L669.71 714.5L669.71 714L669.71 713.5L669.71 713L669.71 712.5L669.71 712L669.7 711.5L669.7 711L669.7 710.5L669.7 710L669.7 709.5L669.7 709L669.7 708.5L669.69 708L669.69 707.5L669.69 707L669.69 706.5L669.69 706L669.69 705.5L669.68 705L669.68 704.5L669.68 704L669.68 703.5L669.68 703L669.67 702.5L669.67 702L669.67 701.5L669.67 701L669.67 700.5L669.66 700L669.66 699.5L669.66 699L669.66 698.5L669.65 698L669.65 697.5L669.65 697L669.65 696.5L669.65 696L669.64 695.5L669.64 695L669.64 694.5L669.63 694L669.63 693.5L669.63 693L669.62 692.5L669.62 692L669.61 691.5L669.6 691L669.59 690.5L669.58 690L669.57 689.5L669.56 689L669.55 688.5L669.54 688L669.53 687.5L669.52 687L669.5 686.5L669.49 686L669.48 685.5L669.46 685L669.45 684.5L669.43 684L669.42 683.5L669.4 683L669.38 682.5L669.37 682L669.35 681.5L669.33 681L669.32 680.5L669.3 680L669.28 679.5L669.26 679L669.24 678.5L669.23 678L669.21 677.5L669.19 677L669.16 676.5L669.14 676L669.12 675.5L669.09 675L669.07 674.5L669.04 674L669.01 673.5L668.98 673L668.95 672.5L668.92 672L668.89 671.5L668.85 671L668.81 670.5L668.78 670L668.74 669.5L668.7 669L668.65 668.5L668.61 668L668.56 667.5L668.5 667L668.44 666.5L668.37 666L668.3 665.5L668.22 665L668.15 664.5L668.07 664L667.98 663.5L667.9 663L667.82 662.5L667.74 662L667.65 661.5L667.57 661L667.48 660.5L667.39 660L667.28 659.5L667.16 659L667.03 658.5L666.87 658L666.71 657.5L666.53 657L666.34 656.5L666.14 656L665.92 655.5L665.69 655L665.44 654.5L665.17 654L664.89 653.5L664.6 653L664.3 652.5L664 652L663.69 651.5L663.38 651L663.06 650.5L662.75 650L662.44 649.5L662.14 649L661.85 648.5L661.57 648L661.29 647.5L661 647L660.73 646.5L660.45 646L660.17 645.5L659.89 645L659.61 644.5L659.33 644L659.05 643.5L658.77 643L658.49 642.5L658.21 642L657.93 641.5L657.64 641L657.35 640.5L657.06 640L656.77 639.5L656.46 639L656.16 638.5L655.85 638L655.54 637.5L655.24 637L654.93 636.5L654.62 636L654.31 635.5L654 635L653.7 634.5L653.4 634L653.11 633.5L652.83 633L652.55 632.5L652.27 632L652 631.5L651.72 631L651.45 630.5L651.17 630L650.9 629.5L650.63 629L650.37 628.5L650.11 628L649.85 627.5L649.61 627L649.37 626.5L649.14 626L648.92 625.5L648.71 625L648.51 624.5L648.33 624L648.14 623.5L647.96 623L647.78 622.5L647.6 622L647.43 621.5L647.27 621L647.12 620.5L646.99 620L646.86 619.5L646.76 619L646.67 618.5L646.59 618L646.52 617.5L646.46 617L646.4 616.5L646.34 616L646.3 615.5L646.26 615L646.24 614.5L646.25 614L646.27 613.5L646.31 613L646.35 612.5L646.41 612L646.47 611.5L646.54 611L646.61 610.5L646.68 610L646.78 609.5L646.89 609L647.02 608.5L647.16 608L647.31 607.5L647.47 607L647.64 606.5L647.82 606L648 605.5L648.18 605L648.36 604.5L648.55 604L648.74 603.5L648.94 603L649.16 602.5L649.38 602L649.6 601.5L649.84 601L650.08 600.5L650.32 600L650.57 599.5L650.83 599L651.08 598.5L651.34 598L651.61 597.5L651.87 597L652.13 596.5L652.4 596L652.67 595.5L652.95 595L653.23 594.5L653.52 594L653.82 593.5L654.11 593L654.42 592.5L654.72 592L655.02 591.5L655.33 591L655.63 590.5L655.93 590L656.23 589.5L656.53 589L656.82 588.5L657.11 588L657.4 587.5L657.68 587L657.96 586.5L658.25 586L658.53 585.5L658.81 585L659.09 584.5L659.37 584L659.65 583.5L659.93 583L660.21 582.5L660.49 582L660.77 581.5L661.05 581L661.33 580.5L661.6 580L661.88 579.5L662.16 579L662.44 578.5L662.71 578L662.99 577.5L663.27 577L663.54 576.5L663.82 576L664.09 575.5L664.36 575L664.63 574.5L664.9 574L665.18 573.5L665.47 573L665.75 572.5L666.03 572L666.3 571.5L666.54 571L666.76 570.5L666.95 570L667.13 569.5L667.29 569L667.45 568.5L667.58 568L667.7 567.5L667.79 567L667.88 566.5L667.97 566L668.04 565.5L668.12 565L668.19 564.5L668.25 564L668.32 563.5L668.37 563L668.43 562.5L668.48 562L668.53 561.5L668.58 561L668.62 560.5L668.66 560L668.7 559.5L668.74 559L668.78 558.5L668.82 558L668.85 557.5L668.89 557L668.92 556.5L668.96 556L668.99 555.5L669.02 555L669.05 554.5L669.07 554L669.1 553.5L669.13 553L669.15 552.5L669.17 552L669.19 551.5L669.21 551L669.23 550.5L669.25 550L669.26 549.5L669.28 549L669.3 548.5L669.31 548L669.33 547.5L669.34 547L669.36 546.5L669.37 546L669.39 545.5L669.4 545L669.41 544.5L669.43 544L669.44 543.5L669.45 543L669.46 542.5L669.47 542L669.49 541.5L669.5 541L669.51 540.5L669.52 540L669.53 539.5L669.53 539L669.54 538.5L669.55 538L669.56 537.5L669.56 537L669.57 536.5L669.57 536L669.58 535.5L669.58 535L669.59 534.5L669.59 534L669.59 533.5L669.59 533L669.6 532.5L669.6 532L669.6 531.5L669.6 531L669.6 530.5L669.61 530L669.61 529.5L669.61 529L669.61 528.5L669.62 528L669.62 527.5L669.62 527L669.62 526.5L669.62 526L669.63 525.5L669.63 525L669.63 524.5L669.63 524L669.63 523.5L669.64 523L669.64 522.5L669.64 522L669.64 521.5L669.64 521L669.64 520.5L669.65 520L669.65 519.5L669.65 519L669.65 518.5L669.65 518L669.65 517.5L669.65 517L669.66 516.5L669.66 516L669.66 515.5L669.66 515L669.66 514.5L669.66 514L669.66 513.5L669.67 513L669.67 512.5L669.67 512Z" fill="#5573cd" stroke="#4d4d4d" stroke-width="5.2" stroke-linejoin="round"/>
<path d="M747.3 512L747.3 524L747.3 524.5L747.3 525L747.31 525.5L747.33 526L747.34 526.5L747.36 527L747.39 527.5L747.41 528L747.44 528.5L747.47 529L747.49 529.5L747.53 530L747.56 530.5L747.59 531L747.62 531.5L747.65 532L747.68 532.5L747.72 533L747.75 533.5L747.79 534L747.82 534.5L747.86 535L747.91 535.5L747.95 536L748 536.5L748.04 537L748.09 537.5L748.14 538L748.2 538.5L748.25 539L748.3 539.5L748.36 540L748.42 540.5L748.47 541L748.53 541.5L748.59 542L748.65 542.5L748.71 543L748.77 543.5L748.84 544L748.9 544.5L748.96 545L749.02 545.5L749.08 546L749.15 546.5L749.21 547L749.28 547.5L749.35 548L749.42 548.5L749.49 549L749.56 549.5L749.63 550L749.71 550.5L749.79 551L749.86 551.5L749.94 552L750.02 552.5L750.1 553L750.18 553.5L750.26 554L750.34 554.5L750.42 555L750.5 555.5L750.58 556L750.66 556.5L750.74 557L750.82 557.5L750.9 558L750.98 558.5L751.05 559L751.13 559.5L751.21 560L751.29 560.5L751.37 561L751.45 561.5L751.53 562L751.61 562.5L751.69 563L751.77 563.5L751.85 564L751.93 564.5L752.01 565L752.09 565.5L752.18 566L752.26 566.5L752.34 567L752.42 567.5L752.51 568L752.59 568.5L752.68 569L752.76 569.5L752.85 570L752.93 570.5L753.02 571L753.11 571.5L753.2 572L753.29 572.5L753.38 573L753.47 573.5L753.57 574L753.66 574.5L753.75 575L753.84 575.5L753.93 576L754.01 576.5L754.1 577L754.18 577.5L754.26 578L754.34 578.5L754.42 579L754.5 579.5L754.58 580L754.66 580.5L754.74 581L754.82 581.5L754.89 582L754.97 582.5L755.05 583L755.12 583.5L755.2 584L755.27 584.5L755.35 585L755.42 585.5L755.49 586L755.56 586.5L755.64 587L755.71 587.5L755.78 588L755.85 588.5L755.92 589L755.99 589.5L756.06 590L756.12 590.5L756.19 591L756.26 591.5L756.34 592L756.41 592.5L756.48 593L756.56 593.5L756.63 594L756.7 594.5L756.77 595L756.85 595.5L756.92 596L756.98 596.5L757.05 597L757.12 597.5L757.18 598L757.24 598.5L757.3 599L757.36 599.5L757.41 600L757.46 600.5L757.5 601L757.54 601.5L757.58 602L757.61 602.5L757.64 603L757.67 603.5L757.7 604L757.73 604.5L757.76 605L757.79 605.5L757.82 606L757.85 606.5L757.88 607L757.9 607.5L757.93 608L757.95 608.5L757.97 609L757.99 609.5L758.01 610L758.03 610.5L758.05 611L758.06 611.5L758.07 612L758.08 612.5L758.09 613L758.09 613.5L758.1 614L758.1 614.5L758.09 615L758.09 615.5L758.08 616L758.07 616.5L758.06 617L758.05 617.5L758.03 618L758.02 618.5L758 619L757.98 619.5L757.96 620L757.93 620.5L757.91 621L757.88 621.5L757.86 622L757.83 622.5L757.8 623L757.77 623.5L757.74 624L757.71 624.5L757.68 625L757.65 625.5L757.62 626L757.58 626.5L757.55 627L757.51 627.5L757.46 628L757.41 628.5L757.35 629L757.3 629.5L757.24 630L757.17 630.5L757.1 631L757.03 631.5L756.96 632L756.89 632.5L756.81 633L756.73 633.5L756.66 634L756.58 634.5L756.5 635L756.42 635.5L756.34 636L756.27 636.5L756.19 637L756.11 637.5L756.04 638L755.97 638.5L755.9 639L755.82 639.5L755.75 640L755.67 640.5L755.6 641L755.52 641.5L755.45 642L755.37 642.5L755.29 643L755.21 643.5L755.13 644L755.06 644.5L754.98 645L754.9 645.5L754.82 646L754.74 646.5L754.66 647L754.58 647.5L754.5 648L754.42 648.5L754.34 649L754.26 649.5L754.18 650L754.1 650.5L754.02 651L753.94 651.5L753.85 652L753.77 652.5L753.69 653L753.61 653.5L753.53 654L753.44 654.5L753.36 655L753.28 655.5L753.2 656L753.11 656.5L753.03 657L752.95 657.5L752.87 658L752.79 658.5L752.7 659L752.62 659.5L752.54 660L752.46 660.5L752.37 661L752.29 661.5L752.21 662L752.13 662.5L752.04 663L751.96 663.5L751.88 664L751.79 664.5L751.71 665L751.63 665.5L751.55 666L751.46 666.5L751.38 667L751.29 667.5L751.21 668L751.12 668.5L751.03 669L750.94 669.5L750.85 670L750.77 670.5L750.68 671L750.59 671.5L750.5 672L750.41 672.5L750.32 673L750.23 673.5L750.14 674L750.06 674.5L749.97 675L749.89 675.5L749.81 676L749.72 676.5L749.64 677L749.57 677.5L749.49 678L749.42 678.5L749.35 679L749.28 679.5L749.21 680L749.15 680.5L749.08 681L749.02 681.5L748.95 682L748.89 682.5L748.83 683L748.77 683.5L748.71 684L748.65 684.5L748.59 685L748.53 685.5L748.48 686L748.42 686.5L748.37 687L748.31 687.5L748.26 688L748.21 688.5L748.17 689L748.12 689.5L748.08 690L748.03 690.5L747.99 691L747.95 691.5L747.92 692L747.88 692.5L747.85 693L747.81 693.5L747.78 694L747.74 694.5L747.71 695L747.67 695.5L747.64 696L747.61 696.5L747.57 697L747.54 697.5L747.51 698L747.48 698.5L747.46 699L747.43 699.5L747.41 700L747.38 700.5L747.36 701L747.35 701.5L747.33 702L747.32 702.5L747.31 703L747.3 703.5L747.3 704L747.3 704.5L747.3 716.1L739.8 716.1L739.8 704.5L739.8 704L739.79 703.5L739.79 703L739.78 702.5L739.76 702L739.75 701.5L739.73 701L739.71 700.5L739.69 700L739.66 699.5L739.64 699L739.61 698.5L739.58 698L739.55 697.5L739.52 697L739.49 696.5L739.45 696L739.42 695.5L739.38 695L739.35 694.5L739.31 694L739.28 693.5L739.24 693L739.21 692.5L739.18 692L739.14 691.5L739.1 691L739.06 690.5L739.02 690L738.97 689.5L738.93 689L738.88 688.5L738.83 688L738.78 687.5L738.73 687L738.67 686.5L738.62 686L738.56 685.5L738.5 685L738.45 684.5L738.39 684L738.33 683.5L738.26 683L738.2 682.5L738.14 682L738.08 681.5L738.01 681L737.95 680.5L737.88 680L737.82 679.5L737.75 679L737.68 678.5L737.6 678L737.53 677.5L737.45 677L737.37 676.5L737.29 676L737.21 675.5L737.12 675L737.04 674.5L736.95 674L736.86 673.5L736.77 673L736.69 672.5L736.6 672L736.51 671.5L736.42 671L736.33 670.5L736.24 670L736.15 669.5L736.06 669L735.97 668.5L735.89 668L735.8 667.5L735.71 667L735.63 666.5L735.55 666L735.46 665.5L735.38 665L735.3 664.5L735.22 664L735.13 663.5L735.05 663L734.97 662.5L734.89 662L734.8 661.5L734.72 661L734.64 660.5L734.55 660L734.47 659.5L734.39 659L734.31 658.5L734.23 658L734.14 657.5L734.06 657L733.98 656.5L733.9 656L733.81 655.5L733.73 655L733.65 654.5L733.57 654L733.48 653.5L733.4 653L733.32 652.5L733.24 652L733.16 651.5L733.08 651L733 650.5L732.92 650L732.84 649.5L732.76 649L732.68 648.5L732.6 648L732.52 647.5L732.44 647L732.36 646.5L732.28 646L732.2 645.5L732.12 645L732.04 644.5L731.96 644L731.88 643.5L731.8 643L731.72 642.5L731.65 642L731.57 641.5L731.5 641L731.42 640.5L731.35 640L731.27 639.5L731.2 639L731.13 638.5L731.05 638L730.98 637.5L730.9 637L730.83 636.5L730.75 636L730.67 635.5L730.59 635L730.51 634.5L730.44 634L730.36 633.5L730.28 633L730.21 632.5L730.13 632L730.06 631.5L729.99 631L729.92 630.5L729.86 630L729.8 629.5L729.74 629L729.68 628.5L729.63 628L729.59 627.5L729.55 627L729.51 626.5L729.48 626L729.45 625.5L729.41 625L729.38 624.5L729.35 624L729.32 623.5L729.29 623L729.27 622.5L729.24 622L729.21 621.5L729.19 621L729.16 620.5L729.14 620L729.12 619.5L729.1 619L729.08 618.5L729.06 618L729.04 617.5L729.03 617L729.02 616.5L729.01 616L729 615.5L729 615L729 614.5L729 614L729 613.5L729.01 613L729.01 612.5L729.02 612L729.03 611.5L729.05 611L729.06 610.5L729.08 610L729.1 609.5L729.12 609L729.14 608.5L729.17 608L729.19 607.5L729.22 607L729.24 606.5L729.27 606L729.3 605.5L729.33 605L729.36 604.5L729.39 604L729.42 603.5L729.45 603L729.48 602.5L729.52 602L729.55 601.5L729.59 601L729.64 600.5L729.69 600L729.74 599.5L729.79 599L729.85 598.5L729.91 598L729.98 597.5L730.04 597L730.11 596.5L730.18 596L730.25 595.5L730.32 595L730.39 594.5L730.46 594L730.54 593.5L730.61 593L730.68 592.5L730.76 592L730.83 591.5L730.9 591L730.97 590.5L731.04 590L731.11 589.5L731.18 589L731.25 588.5L731.32 588L731.39 587.5L731.46 587L731.53 586.5L731.6 586L731.67 585.5L731.75 585L731.82 584.5L731.9 584L731.97 583.5L732.05 583L732.12 582.5L732.2 582L732.28 581.5L732.35 581L732.43 580.5L732.51 580L732.59 579.5L732.67 579L732.75 578.5L732.83 578L732.91 577.5L733 577L733.08 576.5L733.17 576L733.25 575.5L733.34 575L733.44 574.5L733.53 574L733.62 573.5L733.71 573L733.8 572.5L733.9 572L733.99 571.5L734.07 571L734.16 570.5L734.25 570L734.33 569.5L734.42 569L734.5 568.5L734.59 568L734.67 567.5L734.75 567L734.84 566.5L734.92 566L735 565.5L735.08 565L735.16 564.5L735.24 564L735.32 563.5L735.4 563L735.48 562.5L735.56 562L735.64 561.5L735.72 561L735.8 560.5L735.88 560L735.96 559.5L736.04 559L736.12 558.5L736.2 558L736.28 557.5L736.35 557L736.43 556.5L736.51 556L736.59 555.5L736.67 555L736.76 554.5L736.84 554L736.92 553.5L737 553L737.07 552.5L737.15 552L737.23 551.5L737.31 551L737.38 550.5L737.46 550L737.53 549.5L737.61 549L737.68 548.5L737.75 548L737.82 547.5L737.88 547L737.95 546.5L738.01 546L738.07 545.5L738.13 545L738.2 544.5L738.26 544L738.32 543.5L738.38 543L738.44 542.5L738.5 542L738.56 541.5L738.62 541L738.68 540.5L738.73 540L738.79 539.5L738.84 539L738.9 538.5L738.95 538L739 537.5L739.05 537L739.1 536.5L739.14 536L739.19 535.5L739.23 535L739.27 534.5L739.31 534L739.34 533.5L739.38 533L739.41 532.5L739.44 532L739.47 531.5L739.5 531L739.54 530.5L739.57 530L739.6 529.5L739.63 529L739.66 528.5L739.68 528L739.71 527.5L739.73 527L739.75 526.5L739.76 526L739.78 525.5L739.79 525L739.79 524.5L739.8 524L739.8 512Z" fill="#df8920" stroke="#4d4d4d" stroke-width="5.2" stroke-linejoin="round"/>
<path d="M794.67 512L794.67 524L794.67 524.5L794.67 525L794.68 525.5L794.69 526L794.7 526.5L794.71 527L794.73 527.5L794.75 528L794.77 528.5L794.79 529L794.81 529.5L794.84 530L794.86 530.5L794.88 531L794.91 531.5L794.94 532L794.97 532.5L795 533L795.04 533.5L795.09 534L795.14 534.5L795.19 535L795.24 535.5L795.3 536L795.36 536.5L795.41 537L795.47 537.5L795.53 538L795.59 538.5L795.66 539L795.72 539.5L795.79 540L795.86 540.5L795.94 541L796.01 541.5L796.09 542L796.17 542.5L796.25 543L796.33 543.5L796.42 544L796.5 544.5L796.59 545L796.67 545.5L796.75 546L796.84 546.5L796.92 547L797.01 547.5L797.09 548L797.18 548.5L797.26 549L797.35 549.5L797.44 550L797.53 550.5L797.62 551L797.71 551.5L797.81 552L797.9 552.5L798 553L798.1 553.5L798.21 554L798.31 554.5L798.42 555L798.53 555.5L798.65 556L798.77 556.5L798.89 557L799.01 557.5L799.13 558L799.26 558.5L799.39 559L799.52 559.5L799.65 560L799.78 560.5L799.92 561L800.05 561.5L800.19 562L800.32 562.5L800.46 563L800.6 563.5L800.73 564L800.87 564.5L801.01 565L801.15 565.5L801.29 566L801.43 566.5L801.58 567L801.73 567.5L801.89 568L802.05 568.5L802.21 569L802.38 569.5L802.56 570L802.75 570.5L802.94 571L803.15 571.5L803.38 572L803.61 572.5L803.85 573L804.09 573.5L804.34 574L804.59 574.5L804.84 575L805.09 575.5L805.33 576L805.56 576.5L805.8 577L806.04 577.5L806.28 578L806.52 578.5L806.76 579L807 579.5L807.24 580L807.48 580.5L807.72 581L807.96 581.5L808.2 582L808.43 582.5L808.67 583L808.9 583.5L809.13 584L809.36 584.5L809.59 585L809.83 585.5L810.07 586L810.31 586.5L810.55 587L810.78 587.5L811.02 588L811.25 588.5L811.48 589L811.7 589.5L811.92 590L812.12 590.5L812.32 591L812.5 591.5L812.67 592L812.83 592.5L812.99 593L813.14 593.5L813.3 594L813.45 594.5L813.59 595L813.74 595.5L813.88 596L814.02 596.5L814.16 597L814.3 597.5L814.43 598L814.56 598.5L814.68 599L814.81 599.5L814.92 600L815.04 600.5L815.15 601L815.26 601.5L815.36 602L815.46 602.5L815.56 603L815.65 603.5L815.73 604L815.82 604.5L815.89 605L815.97 605.5L816.03 606L816.09 606.5L816.15 607L816.21 607.5L816.27 608L816.33 608.5L816.38 609L816.43 609.5L816.48 610L816.53 610.5L816.57 611L816.61 611.5L816.65 612L816.68 612.5L816.71 613L816.74 613.5L816.76 614L816.76 614.5L816.74 615L816.71 615.5L816.67 616L816.63 616.5L816.58 617L816.53 617.5L816.48 618L816.42 618.5L816.35 619L816.29 619.5L816.22 620L816.14 620.5L816.07 621L815.99 621.5L815.92 622L815.84 622.5L815.75 623L815.65 623.5L815.55 624L815.44 624.5L815.32 625L815.19 625.5L815.06 626L814.92 626.5L814.78 627L814.63 627.5L814.48 628L814.33 628.5L814.18 629L814.02 629.5L813.86 630L813.71 630.5L813.54 631L813.37 631.5L813.2 632L813.02 632.5L812.83 633L812.64 633.5L812.44 634L812.24 634.5L812.04 635L811.83 635.5L811.63 636L811.42 636.5L811.21 637L811 637.5L810.8 638L810.59 638.5L810.39 639L810.18 639.5L809.97 640L809.76 640.5L809.55 641L809.33 641.5L809.12 642L808.9 642.5L808.68 643L808.46 643.5L808.25 644L808.03 644.5L807.82 645L807.61 645.5L807.39 646L807.19 646.5L806.98 647L806.77 647.5L806.56 648L806.35 648.5L806.14 649L805.93 649.5L805.73 650L805.52 650.5L805.31 651L805.11 651.5L804.91 652L804.71 652.5L804.51 653L804.31 653.5L804.12 654L803.92 654.5L803.74 655L803.55 655.5L803.37 656L803.19 656.5L803.02 657L802.84 657.5L802.67 658L802.5 658.5L802.33 659L802.16 659.5L802 660L801.84 660.5L801.68 661L801.52 661.5L801.36 662L801.21 662.5L801.05 663L800.91 663.5L800.76 664L800.61 664.5L800.47 665L800.33 665.5L800.19 666L800.05 666.5L799.91 667L799.78 667.5L799.65 668L799.52 668.5L799.39 669L799.26 669.5L799.13 670L799.01 670.5L798.88 671L798.76 671.5L798.64 672L798.52 672.5L798.4 673L798.28 673.5L798.17 674L798.05 674.5L797.93 675L797.82 675.5L797.7 676L797.59 676.5L797.48 677L797.38 677.5L797.27 678L797.17 678.5L797.07 679L796.98 679.5L796.89 680L796.8 680.5L796.71 681L796.63 681.5L796.55 682L796.46 682.5L796.38 683L796.3 683.5L796.23 684L796.15 684.5L796.08 685L796.01 685.5L795.94 686L795.88 686.5L795.82 687L795.76 687.5L795.7 688L795.65 688.5L795.6 689L795.55 689.5L795.51 690L795.46 690.5L795.42 691L795.38 691.5L795.34 692L795.3 692.5L795.26 693L795.23 693.5L795.19 694L795.16 694.5L795.12 695L795.09 695.5L795.06 696L795.02 696.5L794.99 697L794.96 697.5L794.93 698L794.9 698.5L794.87 699L794.83 699.5L794.79 700L794.76 700.5L794.72 701L794.68 701.5L794.65 702L794.62 702.5L794.6 703L794.58 703.5L794.57 704L794.57 704.5L794.57 705L794.57 705.5L794.56 706L794.56 706.5L794.56 707L794.56 707.5L794.56 708L794.55 708.5L794.55 709L794.55 709.5L794.55 710L794.55 710.5L794.55 711L794.55 711.5L794.54 712L794.54 712.5L794.54 713L794.54 713.5L794.54 714L794.54 714.5L794.54 715L794.54 715.5L794.54 716L794.54 716.1L790.1 716.1L790.1 716L790.1 715.5L790.1 715L790.1 714.5L790.1 714L790.1 713.5L790.1 713L790.1 712.5L790.1 712L790.09 711.5L790.09 711L790.09 710.5L790.09 710L790.09 709.5L790.09 709L790.09 708.5L790.08 708L790.08 707.5L790.08 707L790.08 706.5L790.08 706L790.07 705.5L790.07 705L790.07 704.5L790.07 704L790.06 703.5L790.04 703L790.02 702.5L789.99 702L789.96 701.5L789.92 701L789.88 700.5L789.85 700L789.81 699.5L789.77 699L789.74 698.5L789.71 698L789.68 697.5L789.65 697L789.62 696.5L789.58 696L789.55 695.5L789.52 695L789.48 694.5L789.45 694L789.41 693.5L789.38 693L789.34 692.5L789.3 692L789.26 691.5L789.22 691L789.18 690.5L789.13 690L789.09 689.5L789.04 689L788.99 688.5L788.94 688L788.88 687.5L788.82 687L788.76 686.5L788.7 686L788.63 685.5L788.56 685L788.49 684.5L788.41 684L788.34 683.5L788.26 683L788.18 682.5L788.09 682L788.01 681.5L787.93 681L787.84 680.5L787.75 680L787.66 679.5L787.57 679L787.47 678.5L787.37 678L787.26 677.5L787.16 677L787.05 676.5L786.94 676L786.82 675.5L786.71 675L786.59 674.5L786.47 674L786.36 673.5L786.24 673L786.12 672.5L786 672L785.88 671.5L785.76 671L785.63 670.5L785.51 670L785.38 669.5L785.25 669L785.12 668.5L784.99 668L784.86 667.5L784.73 667L784.59 666.5L784.45 666L784.31 665.5L784.17 665L784.03 664.5L783.88 664L783.73 663.5L783.59 663L783.43 662.5L783.28 662L783.12 661.5L782.96 661L782.8 660.5L782.64 660L782.48 659.5L782.31 659L782.14 658.5L781.97 658L781.8 657.5L781.62 657L781.45 656.5L781.27 656L781.09 655.5L780.9 655L780.72 654.5L780.52 654L780.33 653.5L780.13 653L779.93 652.5L779.73 652L779.53 651.5L779.33 651L779.12 650.5L778.91 650L778.71 649.5L778.5 649L778.29 648.5L778.08 648L777.87 647.5L777.66 647L777.45 646.5L777.25 646L777.03 645.5L776.82 645L776.61 644.5L776.39 644L776.18 643.5L775.96 643L775.74 642.5L775.52 642L775.31 641.5L775.09 641L774.88 640.5L774.67 640L774.46 639.5L774.25 639L774.05 638.5L773.84 638L773.64 637.5L773.43 637L773.22 636.5L773.01 636L772.81 635.5L772.6 635L772.4 634.5L772.2 634L772 633.5L771.81 633L771.62 632.5L771.44 632L771.27 631.5L771.1 631L770.93 630.5L770.78 630L770.62 629.5L770.46 629L770.31 628.5L770.16 628L770.01 627.5L769.86 627L769.72 626.5L769.58 626L769.45 625.5L769.32 625L769.2 624.5L769.09 624L768.99 623.5L768.89 623L768.8 622.5L768.72 622L768.65 621.5L768.57 621L768.5 620.5L768.42 620L768.35 619.5L768.29 619L768.22 618.5L768.16 618L768.11 617.5L768.06 617L768.01 616.5L767.97 616L767.93 615.5L767.9 615L767.88 614.5L767.88 614L767.9 613.5L767.93 613L767.96 612.5L767.99 612L768.03 611.5L768.07 611L768.11 610.5L768.16 610L768.21 609.5L768.26 609L768.31 608.5L768.37 608L768.43 607.5L768.49 607L768.55 606.5L768.61 606L768.67 605.5L768.75 605L768.82 604.5L768.91 604L768.99 603.5L769.08 603L769.18 602.5L769.28 602L769.38 601.5L769.49 601L769.6 600.5L769.72 600L769.83 599.5L769.96 599L770.08 598.5L770.21 598L770.34 597.5L770.48 597L770.62 596.5L770.76 596L770.9 595.5L771.05 595L771.19 594.5L771.34 594L771.5 593.5L771.65 593L771.81 592.5L771.97 592L772.14 591.5L772.32 591L772.52 590.5L772.72 590L772.94 589.5L773.16 589L773.39 588.5L773.62 588L773.86 587.5L774.09 587L774.33 586.5L774.57 586L774.81 585.5L775.05 585L775.28 584.5L775.51 584L775.74 583.5L775.97 583L776.21 582.5L776.44 582L776.68 581.5L776.92 581L777.16 580.5L777.4 580L777.64 579.5L777.88 579L778.12 578.5L778.36 578L778.6 577.5L778.84 577L779.08 576.5L779.31 576L779.55 575.5L779.8 575L780.05 574.5L780.3 574L780.55 573.5L780.79 573L781.03 572.5L781.26 572L781.49 571.5L781.7 571L781.89 570.5L782.08 570L782.26 569.5L782.43 569L782.59 568.5L782.75 568L782.91 567.5L783.06 567L783.21 566.5L783.35 566L783.49 565.5L783.63 565L783.77 564.5L783.91 564L784.04 563.5L784.18 563L784.32 562.5L784.45 562L784.59 561.5L784.72 561L784.86 560.5L784.99 560L785.12 559.5L785.25 559L785.38 558.5L785.51 558L785.63 557.5L785.75 557L785.87 556.5L785.99 556L786.11 555.5L786.22 555L786.33 554.5L786.43 554L786.54 553.5L786.64 553L786.74 552.5L786.83 552L786.93 551.5L787.02 551L787.11 550.5L787.2 550L787.29 549.5L787.38 549L787.46 548.5L787.55 548L787.63 547.5L787.72 547L787.8 546.5L787.89 546L787.97 545.5L788.05 545L788.14 544.5L788.22 544L788.31 543.5L788.39 543L788.47 542.5L788.55 542L788.63 541.5L788.7 541L788.78 540.5L788.85 540L788.92 539.5L788.98 539L789.05 538.5L789.11 538L789.17 537.5L789.23 537L789.28 536.5L789.34 536L789.4 535.5L789.45 535L789.5 534.5L789.55 534L789.6 533.5L789.64 533L789.67 532.5L789.7 532L789.73 531.5L789.76 531L789.78 530.5L789.8 530L789.83 529.5L789.85 529L789.87 528.5L789.89 528L789.91 527.5L789.93 527L789.94 526.5L789.95 526L789.96 525.5L789.97 525L789.97 524.5L789.97 524L789.97 512Z" fill="#5573cd" stroke="#4d4d4d" stroke-width="5.2" stroke-linejoin="round"/>
<rect x="126.23" y="605.2" width="15.3" height="17.9" fill="#4d4d4d"/>
<rect x="175" y="605.2" width="15.3" height="17.9" fill="#4d4d4d"/>
<rect x="248.16" y="605.2" width="15.3" height="17.9" fill="#4d4d4d"/>
<rect x="296.94" y="605.2" width="15.3" height="17.9" fill="#4d4d4d"/>
<rect x="370.1" y="605.2" width="15.3" height="17.9" fill="#4d4d4d"/>
<rect x="418.87" y="605.2" width="15.3" height="17.9" fill="#4d4d4d"/>
<rect x="492.18" y="604.9" width="15" height="18.5" fill="#4d4d4d"/>
<rect x="540.8" y="605.2" width="15.3" height="17.9" fill="#4d4d4d"/>
<rect x="618.91" y="596.5" width="5.4" height="34.6" fill="#4d4d4d"/>
<rect x="613.96" y="603" width="15.3" height="21.6" fill="#4d4d4d"/>
<rect x="662.74" y="605.2" width="15.3" height="17.9" fill="#4d4d4d"/>
<rect x="739.8" y="500" width="7.5" height="220" fill="#4d4d4d"/>
<rect x="735.9" y="545" width="15.3" height="141" fill="#4d4d4d"/>
<rect x="784.67" y="604.9" width="15.3" height="19" fill="#4d4d4d"/>
<circle cx="133.88" cy="614.3" r="3.3" fill="#fff"/>
<circle cx="182.65" cy="614.3" r="3.3" fill="#fff"/>
<circle cx="255.81" cy="614.3" r="3.3" fill="#fff"/>
<circle cx="304.59" cy="614.3" r="3.3" fill="#fff"/>
<circle cx="377.75" cy="614.3" r="3.3" fill="#fff"/>
<circle cx="426.52" cy="614.3" r="3.3" fill="#fff"/>
<circle cx="499.68" cy="614.3" r="3.3" fill="#fff"/>
<circle cx="548.45" cy="614.3" r="3.3" fill="#fff"/>
<circle cx="621.61" cy="614.3" r="3.3" fill="#fff"/>
<circle cx="670.39" cy="614.3" r="3.3" fill="#fff"/>
<circle cx="743.55" cy="614.3" r="3.3" fill="#fff"/>
<circle cx="792.32" cy="614.3" r="3.3" fill="#fff"/>
</g>
<path d="M85.3 91.4H97.7M85.3 181.45H97.7M85.3 271.5H97.7M158.67 271.5V283.9M280.6 271.5V283.9M402.53 271.5V283.9M524.47 271.5V283.9M646.4 271.5V283.9M768.33 271.5V283.9" stroke="#000" stroke-width="2.85" fill="none"/>
<rect x="97.7" y="91.4" width="731.6" height="180.1" fill="none" stroke="#000" stroke-width="2.85"/>
<text class="t" transform="translate(74.1 101) scale(1.03 1)" text-anchor="end">2</text>
<text class="t" transform="translate(74.1 191.05) scale(1.03 1)" text-anchor="end">0</text>
<g>
<text class="t" transform="translate(59.99 282.9) scale(1.29 1)" text-anchor="end">−</text>
<text class="t" transform="translate(74.1 281.1) scale(1.03 1)" text-anchor="end">2</text>
</g>
<text class="l" transform="translate(19.1 182.35) rotate(-90) scale(1.04 1)" text-anchor="middle">lat. [m]</text>
<path d="M85.3 307.5H97.7M85.3 397.65H97.7M85.3 487.8H97.7M158.67 487.8V500.2M280.6 487.8V500.2M402.53 487.8V500.2M524.47 487.8V500.2M646.4 487.8V500.2M768.33 487.8V500.2" stroke="#000" stroke-width="2.85" fill="none"/>
<rect x="97.7" y="307.5" width="731.6" height="180.3" fill="none" stroke="#000" stroke-width="2.85"/>
<text class="t" transform="translate(74.1 317.1) scale(1.03 1)" text-anchor="end">2</text>
<text class="t" transform="translate(74.1 407.25) scale(1.03 1)" text-anchor="end">0</text>
<g>
<text class="t" transform="translate(59.99 499.2) scale(1.29 1)" text-anchor="end">−</text>
<text class="t" transform="translate(74.1 497.4) scale(1.03 1)" text-anchor="end">2</text>
</g>
<text class="l" transform="translate(19.1 398.55) rotate(-90) scale(1.04 1)" text-anchor="middle">long. [m]</text>
<path d="M85.3 524H97.7M85.3 614.05H97.7M85.3 704.1H97.7M158.67 704.1V716.5M280.6 704.1V716.5M402.53 704.1V716.5M524.47 704.1V716.5M646.4 704.1V716.5M768.33 704.1V716.5" stroke="#000" stroke-width="2.85" fill="none"/>
<rect x="97.7" y="524" width="731.6" height="180.1" fill="none" stroke="#000" stroke-width="2.85"/>
<text class="t" transform="translate(74.1 533.6) scale(1.03 1)" text-anchor="end">0.2</text>
<text class="t" transform="translate(74.1 623.65) scale(1.03 1)" text-anchor="end">0.0</text>
<g>
<text class="t" transform="translate(38.66 715.5) scale(1.29 1)" text-anchor="end">−</text>
<text class="t" transform="translate(74.1 713.7) scale(1.03 1)" text-anchor="end">0.2</text>
</g>
<text class="l" transform="translate(19.1 614.95) rotate(-90) scale(1.04 1)" text-anchor="middle">head. [rad]</text>
<text class="t" transform="translate(158.37 747.2) scale(1.03 1)" text-anchor="middle">1.0</text>
<text class="t" transform="translate(280.3 747.2) scale(1.03 1)" text-anchor="middle">2.0</text>
<text class="t" transform="translate(402.23 747.2) scale(1.03 1)" text-anchor="middle">3.0</text>
<text class="t" transform="translate(524.17 747.2) scale(1.03 1)" text-anchor="middle">4.0</text>
<text class="t" transform="translate(646.1 747.2) scale(1.03 1)" text-anchor="middle">5.0</text>
<text class="t" transform="translate(768.03 747.2) scale(1.03 1)" text-anchor="middle">6.0</text>
<text class="l" transform="translate(462.6 783.8) scale(1.04 1)" text-anchor="middle">Noise scale []</text>
<rect x="236.8" y="1" width="453.2" height="56.6" rx="5.5" ry="5.5" fill="#fff" stroke="#d6d6d6" stroke-width="3.4"/>
<rect x="250" y="13.7" width="67.7" height="23.6" fill="#df8920" stroke="#494a4c" stroke-width="2.2"/>
<text class="g" transform="translate(345.2 37.2) scale(1.05 1)" text-anchor="start">baseline</text>
<rect x="523.3" y="13.7" width="67.8" height="23.6" fill="#5573cd" stroke="#494a4c" stroke-width="2.2"/>
<text class="g" transform="translate(617.6 37.2) scale(1.05 1)" text-anchor="start">ours</text>
</svg></body></html>
